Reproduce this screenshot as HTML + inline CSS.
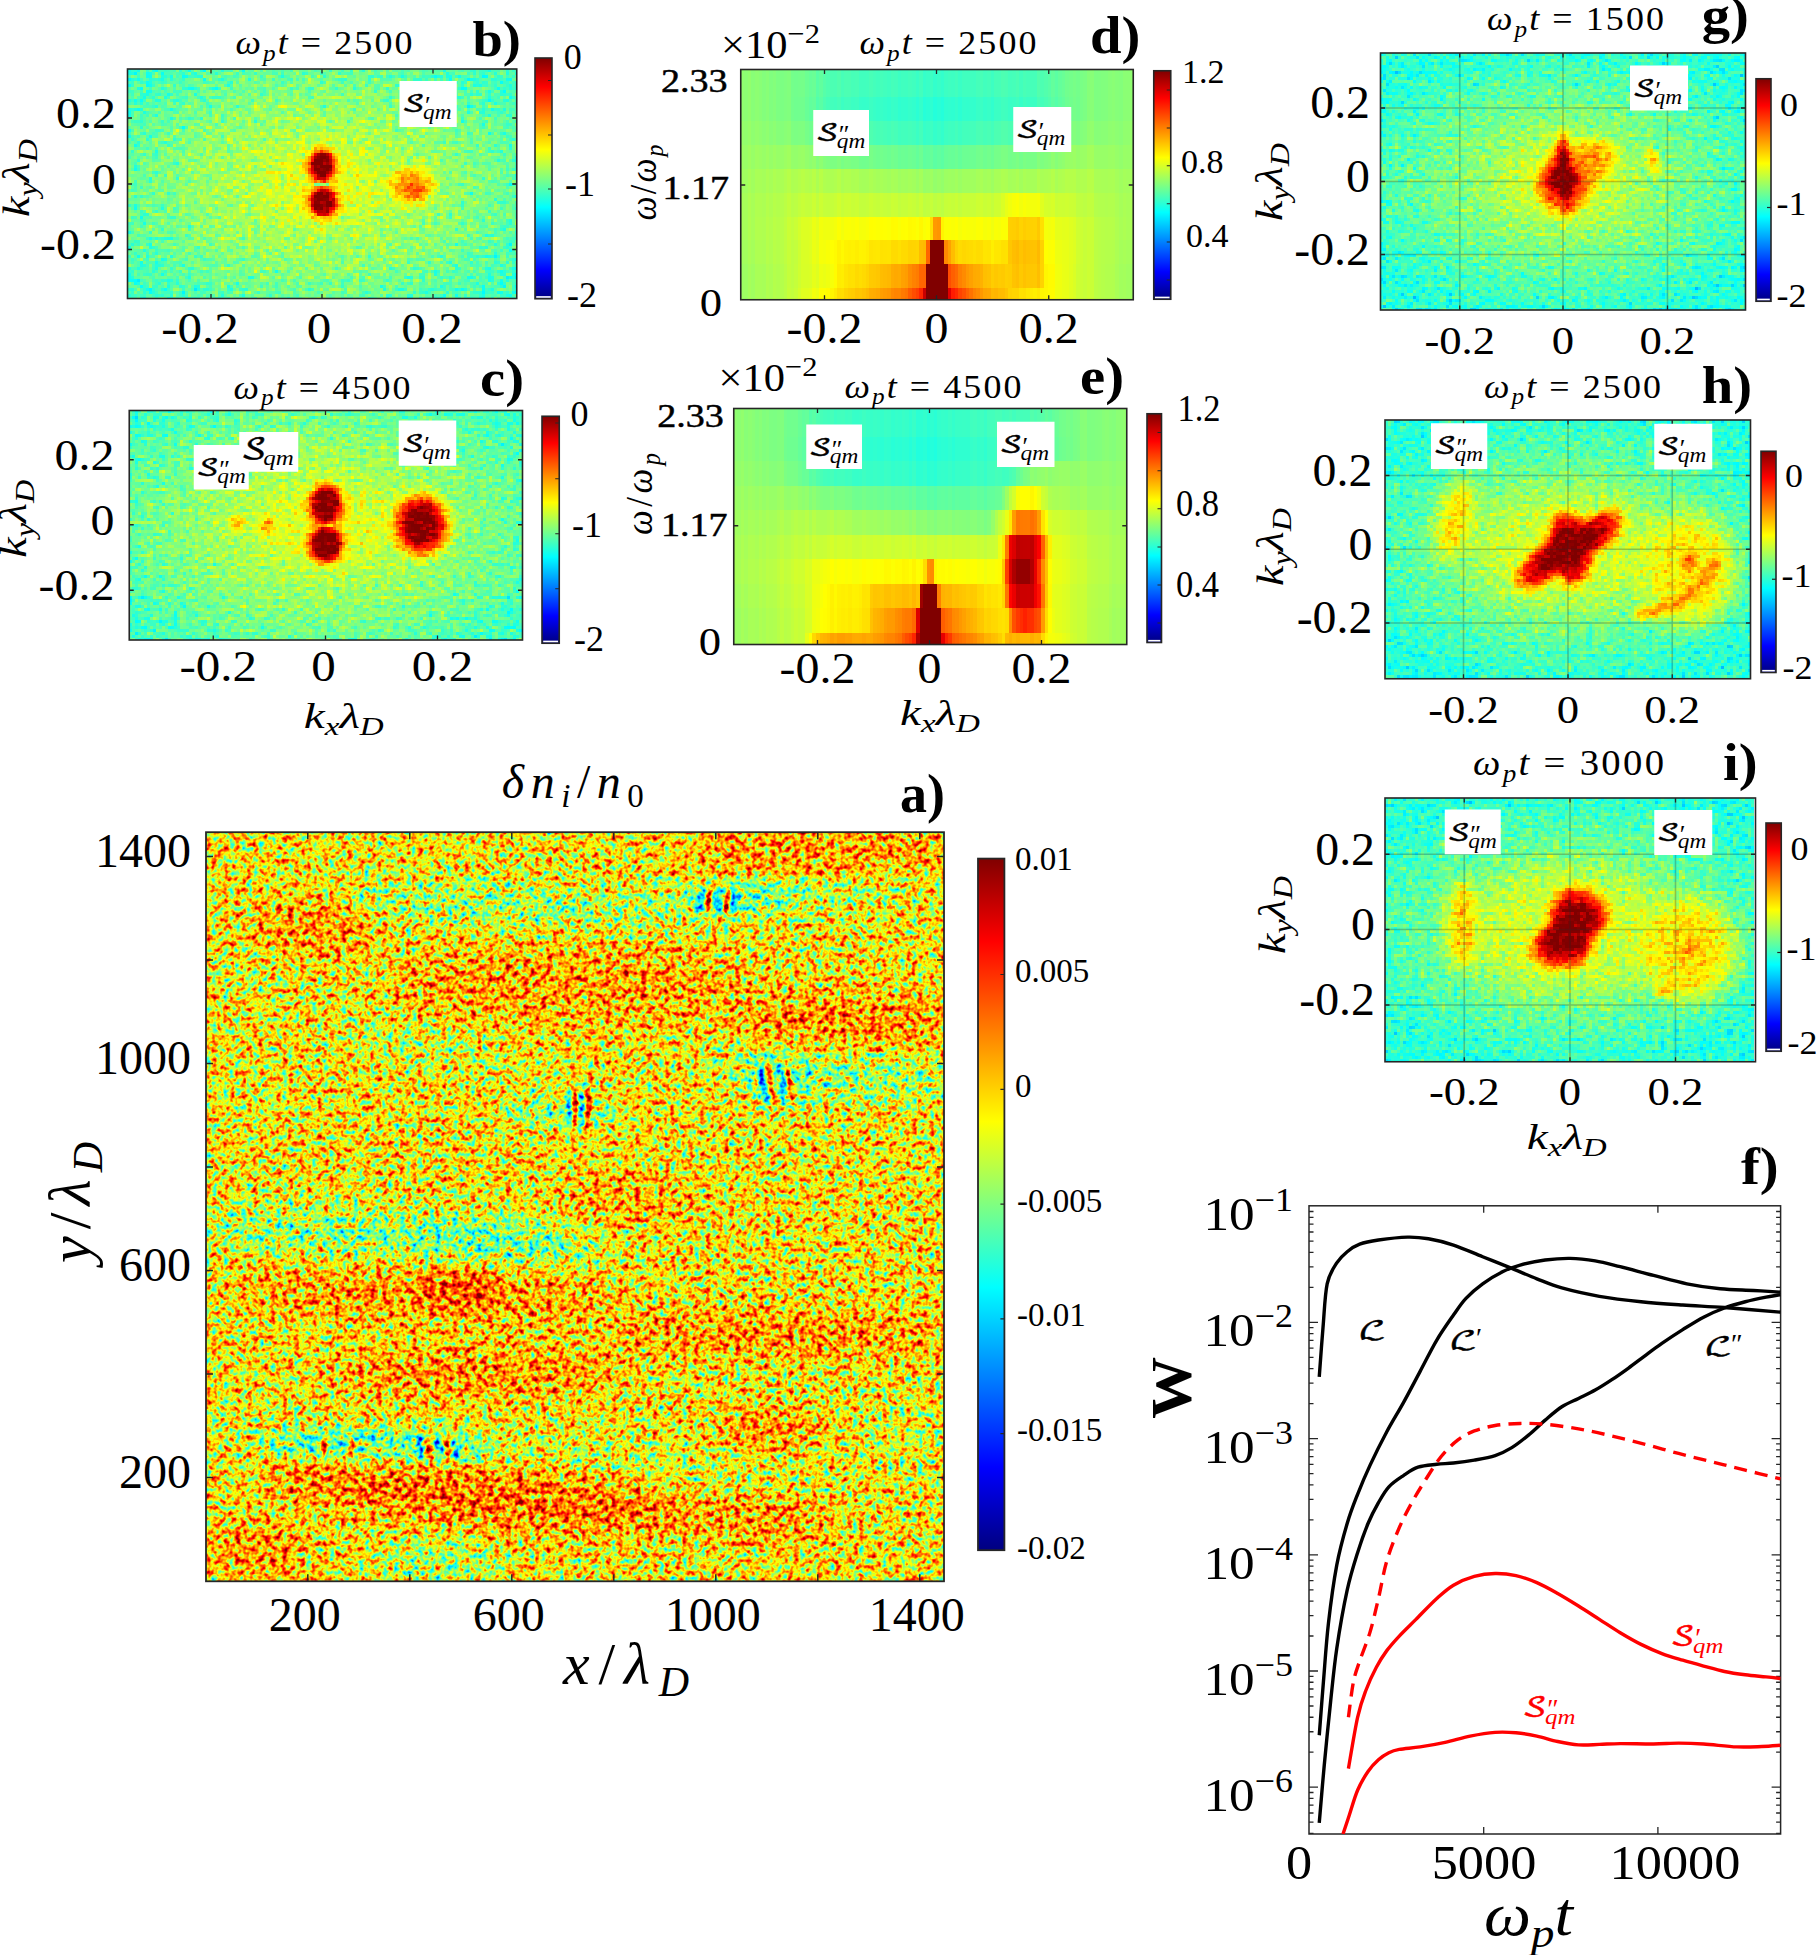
<!DOCTYPE html><html><head><meta charset="utf-8"><title>figure</title><style>html,body{margin:0;padding:0;background:#fff}svg{display:block}</style></head><body><svg width="1817" height="1955" viewBox="0 0 1817 1955"><rect width="1817" height="1955" fill="#fff"/><defs><linearGradient id="jetv" x1="0" y1="1" x2="0" y2="0"><stop offset="0" stop-color="#000080"/><stop offset="0.12" stop-color="#0000ff"/><stop offset="0.25" stop-color="#0080ff"/><stop offset="0.38" stop-color="#00ffff"/><stop offset="0.5" stop-color="#80ff80"/><stop offset="0.62" stop-color="#ffff00"/><stop offset="0.75" stop-color="#ff8000"/><stop offset="0.88" stop-color="#ff0000"/><stop offset="1" stop-color="#800000"/></linearGradient><filter id="bl14" x="-60%" y="-400%" width="220%" height="900%" color-interpolation-filters="sRGB"><feGaussianBlur stdDeviation="14"/></filter><filter id="bl6" x="-60%" y="-400%" width="220%" height="900%" color-interpolation-filters="sRGB"><feGaussianBlur stdDeviation="6"/></filter><filter id="bl3" x="-60%" y="-400%" width="220%" height="900%" color-interpolation-filters="sRGB"><feGaussianBlur stdDeviation="3"/></filter><filter id="bl4" x="-60%" y="-400%" width="220%" height="900%" color-interpolation-filters="sRGB"><feGaussianBlur stdDeviation="4"/></filter><filter id="bl2" x="-60%" y="-400%" width="220%" height="900%" color-interpolation-filters="sRGB"><feGaussianBlur stdDeviation="2"/></filter><filter id="hfb" x="128" y="69" width="389" height="230" filterUnits="userSpaceOnUse" color-interpolation-filters="sRGB"><feTurbulence type="fractalNoise" baseFrequency="0.15 0.24" numOctaves="2" seed="3" result="t"/><feColorMatrix in="t" type="matrix" values="1 0 0 0 0 1 0 0 0 0 1 0 0 0 0 0 0 0 0 1" result="n"/><feComposite in="SourceGraphic" in2="n" operator="arithmetic" k1="0" k2="1" k3="0.3" k4="-0.15" result="s"/><feFlood x="129" y="70" width="1" height="1" flood-color="#000" result="p0"/><feComposite in="p0" in2="p0" operator="over" x="128" y="69" width="3" height="3" result="p1"/><feTile in="p1" result="p2"/><feComposite in="s" in2="p2" operator="in" result="p3"/><feMorphology in="p3" operator="dilate" radius="1" result="p4"/><feComponentTransfer><feFuncR type="table" tableValues="0 0 0 0 .5 1 1 1 .5"/><feFuncG type="table" tableValues="0 0 .5 1 1 1 .5 0 0"/><feFuncB type="table" tableValues=".5 1 1 1 .5 0 0 0 0"/></feComponentTransfer></filter><radialGradient id="rgb" gradientUnits="userSpaceOnUse" cx="322" cy="184" r="241.34" gradientTransform="translate(322 184) scale(1 0.62) translate(-322 -184)"><stop offset="0" stop-color="#919191"/><stop offset="0.45" stop-color="#888888"/><stop offset="1" stop-color="#707070"/></radialGradient><filter id="hfc" x="129" y="410" width="393" height="230" filterUnits="userSpaceOnUse" color-interpolation-filters="sRGB"><feTurbulence type="fractalNoise" baseFrequency="0.15 0.24" numOctaves="2" seed="11" result="t"/><feColorMatrix in="t" type="matrix" values="1 0 0 0 0 1 0 0 0 0 1 0 0 0 0 0 0 0 0 1" result="n"/><feComposite in="SourceGraphic" in2="n" operator="arithmetic" k1="0" k2="1" k3="0.3" k4="-0.15" result="s"/><feFlood x="130" y="411" width="1" height="1" flood-color="#000" result="p0"/><feComposite in="p0" in2="p0" operator="over" x="129" y="410" width="3" height="3" result="p1"/><feTile in="p1" result="p2"/><feComposite in="s" in2="p2" operator="in" result="p3"/><feMorphology in="p3" operator="dilate" radius="1" result="p4"/><feComponentTransfer><feFuncR type="table" tableValues="0 0 0 0 .5 1 1 1 .5"/><feFuncG type="table" tableValues="0 0 .5 1 1 1 .5 0 0"/><feFuncB type="table" tableValues=".5 1 1 1 .5 0 0 0 0"/></feComponentTransfer></filter><radialGradient id="rgc" gradientUnits="userSpaceOnUse" cx="325.5" cy="524.75" r="243.81" gradientTransform="translate(325.5 524.75) scale(1 0.62) translate(-325.5 -524.75)"><stop offset="0" stop-color="#919191"/><stop offset="0.45" stop-color="#888888"/><stop offset="1" stop-color="#707070"/></radialGradient><filter id="bl2_5" x="-60%" y="-400%" width="220%" height="900%" color-interpolation-filters="sRGB"><feGaussianBlur stdDeviation="2.5"/></filter><filter id="hfg" x="1380" y="53" width="365" height="257" filterUnits="userSpaceOnUse" color-interpolation-filters="sRGB"><feTurbulence type="fractalNoise" baseFrequency="0.15 0.24" numOctaves="2" seed="21" result="t"/><feColorMatrix in="t" type="matrix" values="1 0 0 0 0 1 0 0 0 0 1 0 0 0 0 0 0 0 0 1" result="n"/><feComposite in="SourceGraphic" in2="n" operator="arithmetic" k1="0" k2="1" k3="0.3" k4="-0.15" result="s"/><feFlood x="1381" y="54" width="1" height="1" flood-color="#000" result="p0"/><feComposite in="p0" in2="p0" operator="over" x="1380" y="53" width="3" height="3" result="p1"/><feTile in="p1" result="p2"/><feComposite in="s" in2="p2" operator="in" result="p3"/><feMorphology in="p3" operator="dilate" radius="1" result="p4"/><feComponentTransfer><feFuncR type="table" tableValues="0 0 0 0 .5 1 1 1 .5"/><feFuncG type="table" tableValues="0 0 .5 1 1 1 .5 0 0"/><feFuncB type="table" tableValues=".5 1 1 1 .5 0 0 0 0"/></feComponentTransfer></filter><radialGradient id="rgg" gradientUnits="userSpaceOnUse" cx="1563" cy="181.5" r="226.3" gradientTransform="translate(1563 181.5) scale(1 0.62) translate(-1563 -181.5)"><stop offset="0" stop-color="#8a8a8a"/><stop offset="0.45" stop-color="#818181"/><stop offset="1" stop-color="#696969"/></radialGradient><filter id="bl16" x="-60%" y="-400%" width="220%" height="900%" color-interpolation-filters="sRGB"><feGaussianBlur stdDeviation="16"/></filter><filter id="bl8" x="-60%" y="-400%" width="220%" height="900%" color-interpolation-filters="sRGB"><feGaussianBlur stdDeviation="8"/></filter><filter id="bl12" x="-60%" y="-400%" width="220%" height="900%" color-interpolation-filters="sRGB"><feGaussianBlur stdDeviation="12"/></filter><filter id="bl5" x="-60%" y="-400%" width="220%" height="900%" color-interpolation-filters="sRGB"><feGaussianBlur stdDeviation="5"/></filter><filter id="hfh" x="1385" y="420" width="366" height="259" filterUnits="userSpaceOnUse" color-interpolation-filters="sRGB"><feTurbulence type="fractalNoise" baseFrequency="0.15 0.24" numOctaves="2" seed="31" result="t"/><feColorMatrix in="t" type="matrix" values="1 0 0 0 0 1 0 0 0 0 1 0 0 0 0 0 0 0 0 1" result="n"/><feComposite in="SourceGraphic" in2="n" operator="arithmetic" k1="0" k2="1" k3="0.3" k4="-0.15" result="s"/><feFlood x="1386" y="421" width="1" height="1" flood-color="#000" result="p0"/><feComposite in="p0" in2="p0" operator="over" x="1385" y="420" width="3" height="3" result="p1"/><feTile in="p1" result="p2"/><feComposite in="s" in2="p2" operator="in" result="p3"/><feMorphology in="p3" operator="dilate" radius="1" result="p4"/><feComponentTransfer><feFuncR type="table" tableValues="0 0 0 0 .5 1 1 1 .5"/><feFuncG type="table" tableValues="0 0 .5 1 1 1 .5 0 0"/><feFuncB type="table" tableValues=".5 1 1 1 .5 0 0 0 0"/></feComponentTransfer></filter><radialGradient id="rgh" gradientUnits="userSpaceOnUse" cx="1568" cy="549.25" r="226.61" gradientTransform="translate(1568 549.25) scale(1 0.62) translate(-1568 -549.25)"><stop offset="0" stop-color="#8a8a8a"/><stop offset="0.45" stop-color="#818181"/><stop offset="1" stop-color="#696969"/></radialGradient><filter id="bl7" x="-60%" y="-400%" width="220%" height="900%" color-interpolation-filters="sRGB"><feGaussianBlur stdDeviation="7"/></filter><filter id="hfi" x="1385" y="798" width="370" height="264" filterUnits="userSpaceOnUse" color-interpolation-filters="sRGB"><feTurbulence type="fractalNoise" baseFrequency="0.15 0.24" numOctaves="2" seed="41" result="t"/><feColorMatrix in="t" type="matrix" values="1 0 0 0 0 1 0 0 0 0 1 0 0 0 0 0 0 0 0 1" result="n"/><feComposite in="SourceGraphic" in2="n" operator="arithmetic" k1="0" k2="1" k3="0.3" k4="-0.15" result="s"/><feFlood x="1386" y="799" width="1" height="1" flood-color="#000" result="p0"/><feComposite in="p0" in2="p0" operator="over" x="1385" y="798" width="3" height="3" result="p1"/><feTile in="p1" result="p2"/><feComposite in="s" in2="p2" operator="in" result="p3"/><feMorphology in="p3" operator="dilate" radius="1" result="p4"/><feComponentTransfer><feFuncR type="table" tableValues="0 0 0 0 .5 1 1 1 .5"/><feFuncG type="table" tableValues="0 0 .5 1 1 1 .5 0 0"/><feFuncB type="table" tableValues=".5 1 1 1 .5 0 0 0 0"/></feComponentTransfer></filter><radialGradient id="rgi" gradientUnits="userSpaceOnUse" cx="1570" cy="929.5" r="229.71" gradientTransform="translate(1570 929.5) scale(1 0.62) translate(-1570 -929.5)"><stop offset="0" stop-color="#8a8a8a"/><stop offset="0.45" stop-color="#818181"/><stop offset="1" stop-color="#696969"/></radialGradient><filter id="hfa" x="206" y="832" width="738" height="749" filterUnits="userSpaceOnUse" color-interpolation-filters="sRGB"><feTurbulence type="fractalNoise" baseFrequency="0.17" numOctaves="2" seed="5" result="t"/><feColorMatrix in="t" type="matrix" values="1 0 0 0 0 1 0 0 0 0 1 0 0 0 0 0 0 0 0 1" result="n"/><feComposite in="SourceGraphic" in2="n" operator="arithmetic" k1="0" k2="1" k3="0.9" k4="-0.45" result="s"/><feComponentTransfer><feFuncR type="table" tableValues="0 0 0 0 .5 1 1 1 .5"/><feFuncG type="table" tableValues="0 0 .5 1 1 1 .5 0 0"/><feFuncB type="table" tableValues=".5 1 1 1 .5 0 0 0 0"/></feComponentTransfer></filter><filter id="bl15" x="-60%" y="-400%" width="220%" height="900%" color-interpolation-filters="sRGB"><feGaussianBlur stdDeviation="15"/></filter><filter id="bl18" x="-60%" y="-400%" width="220%" height="900%" color-interpolation-filters="sRGB"><feGaussianBlur stdDeviation="18"/></filter><filter id="bl1_5" x="-60%" y="-400%" width="220%" height="900%" color-interpolation-filters="sRGB"><feGaussianBlur stdDeviation="1.5"/></filter><clipPath id="clipf"><rect x="1309" y="1205.8" width="471.6" height="628.2"/></clipPath></defs><g filter="url(#hfb)"><rect x="125.5" y="67" width="393.25" height="233.5" fill="url(#rgb)"/><ellipse cx="322" cy="184" rx="60" ry="40" fill="#9e9e9e" filter="url(#bl14)" opacity="0.6"/><ellipse cx="412" cy="186" rx="22" ry="18" fill="#bdbdbd" filter="url(#bl6)" opacity="0.9"/><ellipse cx="414" cy="190" rx="9" ry="8" fill="#cccccc" filter="url(#bl3)"/><ellipse cx="322" cy="166" rx="15" ry="18" fill="#d9d9d9" filter="url(#bl4)"/><ellipse cx="323" cy="202" rx="16" ry="17" fill="#d9d9d9" filter="url(#bl4)"/><ellipse cx="322" cy="166" rx="10.5" ry="13.5" fill="#ffffff" filter="url(#bl2)"/><ellipse cx="323" cy="202" rx="11.5" ry="12.5" fill="#ffffff" filter="url(#bl2)"/><rect x="314" y="183" width="14" height="2.4" fill="#737373"/></g><rect x="127.5" y="69" width="389.25" height="229.5" fill="none" stroke="#262626" stroke-width="1.6"/><path d="M211 298.5v-4.5 M211 69v4.5 M322 298.5v-4.5 M322 69v4.5 M433 298.5v-4.5 M433 69v4.5 M127.5 118h4.5 M516.75 118h-4.5 M127.5 184h4.5 M516.75 184h-4.5 M127.5 249.5h4.5 M516.75 249.5h-4.5 " stroke="#262626" stroke-width="1.3" fill="none"/>
<text transform="translate(324 54) scale(1.09 1)" font-family="'Liberation Serif','DejaVu Serif',serif" font-size="33" text-anchor="middle" fill="#000" xml:space="preserve" textLength="162.39" lengthAdjust="spacing"><tspan font-style="italic" >ω</tspan><tspan font-style="italic" font-size="23.1" dy="6.6">p</tspan><tspan font-style="italic" dy="-6.6">t</tspan> = 2500</text>
<text transform="translate(472.5 56) scale(1.09 1)" font-family="'Liberation Serif','DejaVu Serif',serif" font-size="50" text-anchor="start" fill="#000" font-weight="bold">b)</text>
<text transform="translate(200 342.5) scale(1.09 1)" font-family="'Liberation Serif','DejaVu Serif',serif" font-size="45" text-anchor="middle" fill="#000" >-0.2</text><text transform="translate(319 342.5) scale(1.09 1)" font-family="'Liberation Serif','DejaVu Serif',serif" font-size="45" text-anchor="middle" fill="#000" >0</text><text transform="translate(432 342.5) scale(1.09 1)" font-family="'Liberation Serif','DejaVu Serif',serif" font-size="45" text-anchor="middle" fill="#000" >0.2</text>
<text transform="translate(116 127.9) scale(1.09 1)" font-family="'Liberation Serif','DejaVu Serif',serif" font-size="44" text-anchor="end" fill="#000" >0.2</text><text transform="translate(116 193.9) scale(1.09 1)" font-family="'Liberation Serif','DejaVu Serif',serif" font-size="44" text-anchor="end" fill="#000" >0</text><text transform="translate(116 259.4) scale(1.09 1)" font-family="'Liberation Serif','DejaVu Serif',serif" font-size="44" text-anchor="end" fill="#000" >-0.2</text>
<g transform="translate(29 178) rotate(-90)"><text transform="translate(0 0) scale(1 1.09)" font-family="'Liberation Serif','DejaVu Serif',serif" font-size="35" text-anchor="middle" fill="#000" textLength="78" lengthAdjust="spacingAndGlyphs"><tspan font-style="italic" >k</tspan><tspan font-style="italic" font-size="24.5" dy="7">y</tspan><tspan font-style="italic" dy="-7">λ</tspan><tspan font-style="italic" font-size="24.5" dy="7">D</tspan></text></g>
<rect x="399.5" y="81" width="57.25" height="46" fill="#fff"/><text transform="translate(401.7 112) scale(1.2 1)" font-family="'DejaVu Math TeX Gyre','DejaVu Sans','Liberation Serif',serif" font-size="25" fill="#000" stroke="#000" stroke-width="0.45">𝒮</text><text transform="translate(425 114) scale(1 1)" font-family="'Liberation Serif','DejaVu Serif',serif" font-size="26" text-anchor="start" fill="#000" >′</text><text transform="translate(423 119) scale(1 1)" font-family="'Liberation Serif','DejaVu Serif',serif" font-size="20" text-anchor="start" fill="#000" textLength="28.5" lengthAdjust="spacingAndGlyphs"><tspan font-style="italic" >qm</tspan></text>
<rect x="535" y="58" width="17" height="240.75" fill="url(#jetv)" stroke="#262626" stroke-width="1.6"/><path d="M552 80.5h-4 M552 135h-4 M552 189h-4 M552 244h-4 " stroke="#262626" stroke-width="1.2"/><rect x="536.2" y="296.15" width="14.6" height="1.6" fill="#fff"/><text transform="translate(563.75 69.1) scale(1 1)" font-family="'Liberation Serif','DejaVu Serif',serif" font-size="36" text-anchor="start" fill="#000" >0</text><text transform="translate(565 195.6) scale(1 1)" font-family="'Liberation Serif','DejaVu Serif',serif" font-size="36" text-anchor="start" fill="#000" >-1</text><text transform="translate(567 306.85) scale(1 1)" font-family="'Liberation Serif','DejaVu Serif',serif" font-size="36" text-anchor="start" fill="#000" >-2</text>
<g filter="url(#hfc)"><rect x="127.25" y="408.5" width="397.25" height="233.5" fill="url(#rgc)"/><ellipse cx="325" cy="525" rx="70" ry="42" fill="#9e9e9e" filter="url(#bl14)" opacity="0.6"/><ellipse cx="237" cy="523" rx="8" ry="8" fill="#b2b2b2" filter="url(#bl3)"/><ellipse cx="267" cy="526" rx="7" ry="9" fill="#b8b8b8" filter="url(#bl3)"/><ellipse cx="421" cy="525" rx="29" ry="32" fill="#cccccc" filter="url(#bl6)"/><ellipse cx="421" cy="525" rx="19" ry="22" fill="#ffffff" filter="url(#bl4)"/><ellipse cx="326" cy="505" rx="18" ry="22" fill="#d9d9d9" filter="url(#bl4)"/><ellipse cx="326" cy="544" rx="19" ry="20" fill="#d9d9d9" filter="url(#bl4)"/><ellipse cx="326" cy="505" rx="13" ry="17" fill="#ffffff" filter="url(#bl2)"/><ellipse cx="326" cy="544" rx="14" ry="15.5" fill="#ffffff" filter="url(#bl2)"/><rect x="316" y="523.5" width="18" height="2" fill="#9e9e9e"/></g><rect x="129.25" y="410.5" width="393.25" height="229.5" fill="none" stroke="#262626" stroke-width="1.6"/><path d="M213.25 640v-4.5 M213.25 410.5v4.5 M325.5 640v-4.5 M325.5 410.5v4.5 M437.5 640v-4.5 M437.5 410.5v4.5 M129.25 459.75h4.5 M522.5 459.75h-4.5 M129.25 524.75h4.5 M522.5 524.75h-4.5 M129.25 590.25h4.5 M522.5 590.25h-4.5 " stroke="#262626" stroke-width="1.3" fill="none"/>
<text transform="translate(322 398.75) scale(1.09 1)" font-family="'Liberation Serif','DejaVu Serif',serif" font-size="33" text-anchor="middle" fill="#000" xml:space="preserve" textLength="162.39" lengthAdjust="spacing"><tspan font-style="italic" >ω</tspan><tspan font-style="italic" font-size="23.1" dy="6.6">p</tspan><tspan font-style="italic" dy="-6.6">t</tspan> = 4500</text>
<text transform="translate(480 396) scale(1.09 1)" font-family="'Liberation Serif','DejaVu Serif',serif" font-size="52" text-anchor="start" fill="#000" font-weight="bold">c)</text>
<text transform="translate(218.25 681) scale(1.09 1)" font-family="'Liberation Serif','DejaVu Serif',serif" font-size="45" text-anchor="middle" fill="#000" >-0.2</text><text transform="translate(323.5 681) scale(1.09 1)" font-family="'Liberation Serif','DejaVu Serif',serif" font-size="45" text-anchor="middle" fill="#000" >0</text><text transform="translate(442.5 681) scale(1.09 1)" font-family="'Liberation Serif','DejaVu Serif',serif" font-size="45" text-anchor="middle" fill="#000" >0.2</text>
<text transform="translate(114.5 469.65) scale(1.09 1)" font-family="'Liberation Serif','DejaVu Serif',serif" font-size="44" text-anchor="end" fill="#000" >0.2</text><text transform="translate(114.5 534.65) scale(1.09 1)" font-family="'Liberation Serif','DejaVu Serif',serif" font-size="44" text-anchor="end" fill="#000" >0</text><text transform="translate(114.5 600.15) scale(1.09 1)" font-family="'Liberation Serif','DejaVu Serif',serif" font-size="44" text-anchor="end" fill="#000" >-0.2</text>
<g transform="translate(26 518.75) rotate(-90)"><text transform="translate(0 0) scale(1 1.09)" font-family="'Liberation Serif','DejaVu Serif',serif" font-size="35" text-anchor="middle" fill="#000" textLength="78" lengthAdjust="spacingAndGlyphs"><tspan font-style="italic" >k</tspan><tspan font-style="italic" font-size="24.5" dy="7">y</tspan><tspan font-style="italic" dy="-7">λ</tspan><tspan font-style="italic" font-size="24.5" dy="7">D</tspan></text></g>
<text transform="translate(343.75 727.5) scale(1.09 1)" font-family="'Liberation Serif','DejaVu Serif',serif" font-size="35" text-anchor="middle" fill="#000" textLength="73.39" lengthAdjust="spacingAndGlyphs"><tspan font-style="italic" >k</tspan><tspan font-style="italic" font-size="24.5" dy="7">x</tspan><tspan font-style="italic" dy="-7">λ</tspan><tspan font-style="italic" font-size="24.5" dy="7">D</tspan></text>
<rect x="193.75" y="445" width="55" height="44.5" fill="#fff"/><text transform="translate(195.95 476) scale(1.2 1)" font-family="'DejaVu Math TeX Gyre','DejaVu Sans','Liberation Serif',serif" font-size="25" fill="#000" stroke="#000" stroke-width="0.45">𝒮</text><text transform="translate(219.25 478) scale(1 1)" font-family="'Liberation Serif','DejaVu Serif',serif" font-size="26" text-anchor="start" fill="#000" >″</text><text transform="translate(217.25 483) scale(1 1)" font-family="'Liberation Serif','DejaVu Serif',serif" font-size="20" text-anchor="start" fill="#000" textLength="28.5" lengthAdjust="spacingAndGlyphs"><tspan font-style="italic" >qm</tspan></text>
<rect x="239.25" y="432" width="59" height="39.75" fill="#fff"/><text transform="translate(240.85 458) scale(1.25 1)" font-family="'DejaVu Math TeX Gyre','DejaVu Sans','Liberation Serif',serif" font-size="27" fill="#000" stroke="#000" stroke-width="0.45">𝒮</text><text transform="translate(263.25 464.5) scale(1 1)" font-family="'Liberation Serif','DejaVu Serif',serif" font-size="21" text-anchor="start" fill="#000" textLength="30.5" lengthAdjust="spacingAndGlyphs"><tspan font-style="italic" >qm</tspan></text>
<rect x="398.75" y="420.5" width="57.5" height="45.25" fill="#fff"/><text transform="translate(400.95 451.5) scale(1.2 1)" font-family="'DejaVu Math TeX Gyre','DejaVu Sans','Liberation Serif',serif" font-size="25" fill="#000" stroke="#000" stroke-width="0.45">𝒮</text><text transform="translate(424.25 453.5) scale(1 1)" font-family="'Liberation Serif','DejaVu Serif',serif" font-size="26" text-anchor="start" fill="#000" >′</text><text transform="translate(422.25 458.5) scale(1 1)" font-family="'Liberation Serif','DejaVu Serif',serif" font-size="20" text-anchor="start" fill="#000" textLength="28.5" lengthAdjust="spacingAndGlyphs"><tspan font-style="italic" >qm</tspan></text>
<rect x="542" y="416.25" width="17.25" height="227" fill="url(#jetv)" stroke="#262626" stroke-width="1.6"/><path d="M559.25 423h-4 M559.25 478.75h-4 M559.25 533.75h-4 M559.25 588.75h-4 " stroke="#262626" stroke-width="1.2"/><rect x="543.2" y="640.65" width="14.85" height="1.6" fill="#fff"/><text transform="translate(570.5 425.6) scale(1 1)" font-family="'Liberation Serif','DejaVu Serif',serif" font-size="36" text-anchor="start" fill="#000" >0</text><text transform="translate(572 537.35) scale(1 1)" font-family="'Liberation Serif','DejaVu Serif',serif" font-size="36" text-anchor="start" fill="#000" >-1</text><text transform="translate(574 650.6) scale(1 1)" font-family="'Liberation Serif','DejaVu Serif',serif" font-size="36" text-anchor="start" fill="#000" >-2</text>
<g shape-rendering="crispEdges"><rect x="740.75" y="287.8" width="7.54" height="12.35" fill="#9dff62"/><rect x="747.89" y="287.8" width="3.97" height="12.35" fill="#a6ff59"/><rect x="751.45" y="287.8" width="3.97" height="12.35" fill="#a0ff5f"/><rect x="755.02" y="287.8" width="7.54" height="12.35" fill="#a9ff56"/><rect x="762.16" y="287.8" width="3.97" height="12.35" fill="#a7ff58"/><rect x="765.73" y="287.8" width="3.97" height="12.35" fill="#b0ff4f"/><rect x="769.3" y="287.8" width="3.97" height="12.35" fill="#acff53"/><rect x="772.86" y="287.8" width="3.97" height="12.35" fill="#b4ff4b"/><rect x="776.43" y="287.8" width="3.97" height="12.35" fill="#b1ff4e"/><rect x="780" y="287.8" width="3.97" height="12.35" fill="#b4ff4b"/><rect x="783.57" y="287.8" width="3.97" height="12.35" fill="#bbff44"/><rect x="787.14" y="287.8" width="3.97" height="12.35" fill="#c6ff39"/><rect x="790.7" y="287.8" width="3.97" height="12.35" fill="#c2ff3d"/><rect x="794.27" y="287.8" width="3.97" height="12.35" fill="#c9ff36"/><rect x="797.84" y="287.8" width="3.97" height="12.35" fill="#d5ff2a"/><rect x="801.41" y="287.8" width="3.97" height="12.35" fill="#e0ff1f"/><rect x="804.98" y="287.8" width="3.97" height="12.35" fill="#e1ff1e"/><rect x="808.55" y="287.8" width="3.97" height="12.35" fill="#e5ff1a"/><rect x="812.11" y="287.8" width="3.97" height="12.35" fill="#f3ff0c"/><rect x="815.68" y="287.8" width="3.97" height="12.35" fill="#ecff13"/><rect x="819.25" y="287.8" width="3.97" height="12.35" fill="#feff01"/><rect x="822.82" y="287.8" width="3.97" height="12.35" fill="#fdff02"/><rect x="826.39" y="287.8" width="3.97" height="12.35" fill="#fffc00"/><rect x="829.95" y="287.8" width="3.97" height="12.35" fill="#fff500"/><rect x="833.52" y="287.8" width="3.97" height="12.35" fill="#ffeb00"/><rect x="837.09" y="287.8" width="3.97" height="12.35" fill="#ffdc00"/><rect x="840.66" y="287.8" width="3.97" height="12.35" fill="#ffde00"/><rect x="844.23" y="287.8" width="3.97" height="12.35" fill="#ffd400"/><rect x="847.8" y="287.8" width="3.97" height="12.35" fill="#ffce00"/><rect x="851.36" y="287.8" width="3.97" height="12.35" fill="#ffcc00"/><rect x="854.93" y="287.8" width="3.97" height="12.35" fill="#ffc400"/><rect x="858.5" y="287.8" width="3.97" height="12.35" fill="#ffc600"/><rect x="862.07" y="287.8" width="3.97" height="12.35" fill="#ffc100"/><rect x="865.64" y="287.8" width="3.97" height="12.35" fill="#ffba00"/><rect x="869.2" y="287.8" width="3.97" height="12.35" fill="#ffae00"/><rect x="872.77" y="287.8" width="3.97" height="12.35" fill="#ffac00"/><rect x="876.34" y="287.8" width="3.97" height="12.35" fill="#ffa800"/><rect x="879.91" y="287.8" width="3.97" height="12.35" fill="#ff9e00"/><rect x="883.48" y="287.8" width="3.97" height="12.35" fill="#ff9a00"/><rect x="887.05" y="287.8" width="3.97" height="12.35" fill="#ff9600"/><rect x="890.61" y="287.8" width="3.97" height="12.35" fill="#ff8900"/><rect x="894.18" y="287.8" width="3.97" height="12.35" fill="#ff8400"/><rect x="897.75" y="287.8" width="3.97" height="12.35" fill="#ff8500"/><rect x="901.32" y="287.8" width="3.97" height="12.35" fill="#ff7a00"/><rect x="904.89" y="287.8" width="3.97" height="12.35" fill="#ff7400"/><rect x="908.45" y="287.8" width="3.97" height="12.35" fill="#ff5d00"/><rect x="912.02" y="287.8" width="3.97" height="12.35" fill="#ff4d00"/><rect x="915.59" y="287.8" width="3.97" height="12.35" fill="#ff4100"/><rect x="919.16" y="287.8" width="3.97" height="12.35" fill="#ff2500"/><rect x="922.73" y="287.8" width="3.97" height="12.35" fill="#ca0000"/><rect x="926.3" y="287.8" width="21.81" height="12.35" fill="#800000"/><rect x="947.7" y="287.8" width="3.97" height="12.35" fill="#e10000"/><rect x="951.27" y="287.8" width="3.97" height="12.35" fill="#ff1b00"/><rect x="954.84" y="287.8" width="3.97" height="12.35" fill="#ff2900"/><rect x="958.41" y="287.8" width="3.97" height="12.35" fill="#ff4300"/><rect x="961.98" y="287.8" width="3.97" height="12.35" fill="#ff5000"/><rect x="965.55" y="287.8" width="3.97" height="12.35" fill="#ff6300"/><rect x="969.11" y="287.8" width="3.97" height="12.35" fill="#ff7200"/><rect x="972.68" y="287.8" width="3.97" height="12.35" fill="#ff8200"/><rect x="976.25" y="287.8" width="3.97" height="12.35" fill="#ff8b00"/><rect x="979.82" y="287.8" width="3.97" height="12.35" fill="#ff9800"/><rect x="983.39" y="287.8" width="3.97" height="12.35" fill="#ffa500"/><rect x="986.95" y="287.8" width="3.97" height="12.35" fill="#ffa800"/><rect x="990.52" y="287.8" width="3.97" height="12.35" fill="#ffb700"/><rect x="994.09" y="287.8" width="3.97" height="12.35" fill="#ffb400"/><rect x="997.66" y="287.8" width="3.97" height="12.35" fill="#ffbb00"/><rect x="1001.23" y="287.8" width="3.97" height="12.35" fill="#ffbc00"/><rect x="1004.8" y="287.8" width="3.97" height="12.35" fill="#ffc400"/><rect x="1008.36" y="287.8" width="3.97" height="12.35" fill="#ffd200"/><rect x="1011.93" y="287.8" width="7.54" height="12.35" fill="#ffd500"/><rect x="1019.07" y="287.8" width="3.97" height="12.35" fill="#ffe100"/><rect x="1022.64" y="287.8" width="3.97" height="12.35" fill="#ffdf00"/><rect x="1026.2" y="287.8" width="3.97" height="12.35" fill="#ffe700"/><rect x="1029.77" y="287.8" width="3.97" height="12.35" fill="#ffeb00"/><rect x="1033.34" y="287.8" width="3.97" height="12.35" fill="#ffef00"/><rect x="1036.91" y="287.8" width="3.97" height="12.35" fill="#ffe900"/><rect x="1040.48" y="287.8" width="3.97" height="12.35" fill="#fff600"/><rect x="1044.05" y="287.8" width="3.97" height="12.35" fill="#fff800"/><rect x="1047.61" y="287.8" width="7.54" height="12.35" fill="#fffc00"/><rect x="1054.75" y="287.8" width="3.97" height="12.35" fill="#f0ff0f"/><rect x="1058.32" y="287.8" width="3.97" height="12.35" fill="#efff10"/><rect x="1061.89" y="287.8" width="3.97" height="12.35" fill="#eaff15"/><rect x="1065.45" y="287.8" width="3.97" height="12.35" fill="#e8ff17"/><rect x="1069.02" y="287.8" width="3.97" height="12.35" fill="#e0ff1f"/><rect x="1072.59" y="287.8" width="3.97" height="12.35" fill="#daff25"/><rect x="1076.16" y="287.8" width="3.97" height="12.35" fill="#cdff32"/><rect x="1079.73" y="287.8" width="3.97" height="12.35" fill="#cbff34"/><rect x="1083.3" y="287.8" width="3.97" height="12.35" fill="#c7ff38"/><rect x="1086.86" y="287.8" width="3.97" height="12.35" fill="#ccff33"/><rect x="1090.43" y="287.8" width="3.97" height="12.35" fill="#c9ff36"/><rect x="1094" y="287.8" width="3.97" height="12.35" fill="#bbff44"/><rect x="1097.57" y="287.8" width="3.97" height="12.35" fill="#b8ff47"/><rect x="1101.14" y="287.8" width="3.97" height="12.35" fill="#b5ff4a"/><rect x="1104.7" y="287.8" width="7.54" height="12.35" fill="#b2ff4d"/><rect x="1111.84" y="287.8" width="3.97" height="12.35" fill="#b1ff4e"/><rect x="1115.41" y="287.8" width="3.97" height="12.35" fill="#a9ff56"/><rect x="1118.98" y="287.8" width="3.97" height="12.35" fill="#a2ff5d"/><rect x="1122.55" y="287.8" width="3.97" height="12.35" fill="#a4ff5b"/><rect x="1126.11" y="287.8" width="7.54" height="12.35" fill="#a0ff5f"/><rect x="740.75" y="263.9" width="7.54" height="24.3" fill="#9dff62"/><rect x="747.89" y="263.9" width="3.97" height="24.3" fill="#a6ff59"/><rect x="751.45" y="263.9" width="3.97" height="24.3" fill="#a0ff5f"/><rect x="755.02" y="263.9" width="7.54" height="24.3" fill="#a9ff56"/><rect x="762.16" y="263.9" width="3.97" height="24.3" fill="#a7ff58"/><rect x="765.73" y="263.9" width="3.97" height="24.3" fill="#b0ff4f"/><rect x="769.3" y="263.9" width="3.97" height="24.3" fill="#acff53"/><rect x="772.86" y="263.9" width="3.97" height="24.3" fill="#b4ff4b"/><rect x="776.43" y="263.9" width="3.97" height="24.3" fill="#b1ff4e"/><rect x="780" y="263.9" width="3.97" height="24.3" fill="#b4ff4b"/><rect x="783.57" y="263.9" width="3.97" height="24.3" fill="#bbff44"/><rect x="787.14" y="263.9" width="3.97" height="24.3" fill="#c4ff3b"/><rect x="790.7" y="263.9" width="3.97" height="24.3" fill="#bfff40"/><rect x="794.27" y="263.9" width="3.97" height="24.3" fill="#c5ff3a"/><rect x="797.84" y="263.9" width="3.97" height="24.3" fill="#cfff30"/><rect x="801.41" y="263.9" width="7.54" height="24.3" fill="#d8ff27"/><rect x="808.55" y="263.9" width="3.97" height="24.3" fill="#daff25"/><rect x="812.11" y="263.9" width="3.97" height="24.3" fill="#e6ff19"/><rect x="815.68" y="263.9" width="3.97" height="24.3" fill="#deff21"/><rect x="819.25" y="263.9" width="3.97" height="24.3" fill="#eeff11"/><rect x="822.82" y="263.9" width="3.97" height="24.3" fill="#eaff15"/><rect x="826.39" y="263.9" width="3.97" height="24.3" fill="#efff10"/><rect x="829.95" y="263.9" width="3.97" height="24.3" fill="#f7ff08"/><rect x="833.52" y="263.9" width="3.97" height="24.3" fill="#fffc00"/><rect x="837.09" y="263.9" width="3.97" height="24.3" fill="#ffec00"/><rect x="840.66" y="263.9" width="3.97" height="24.3" fill="#ffee00"/><rect x="844.23" y="263.9" width="3.97" height="24.3" fill="#ffe500"/><rect x="847.8" y="263.9" width="3.97" height="24.3" fill="#ffe000"/><rect x="851.36" y="263.9" width="3.97" height="24.3" fill="#ffe100"/><rect x="854.93" y="263.9" width="3.97" height="24.3" fill="#ffda00"/><rect x="858.5" y="263.9" width="3.97" height="24.3" fill="#ffde00"/><rect x="862.07" y="263.9" width="3.97" height="24.3" fill="#ffda00"/><rect x="865.64" y="263.9" width="3.97" height="24.3" fill="#ffd400"/><rect x="869.2" y="263.9" width="3.97" height="24.3" fill="#ffca00"/><rect x="872.77" y="263.9" width="3.97" height="24.3" fill="#ffc900"/><rect x="876.34" y="263.9" width="3.97" height="24.3" fill="#ffc600"/><rect x="879.91" y="263.9" width="3.97" height="24.3" fill="#ffbd00"/><rect x="883.48" y="263.9" width="3.97" height="24.3" fill="#ffbb00"/><rect x="887.05" y="263.9" width="3.97" height="24.3" fill="#ffb800"/><rect x="890.61" y="263.9" width="3.97" height="24.3" fill="#ffac00"/><rect x="894.18" y="263.9" width="3.97" height="24.3" fill="#ffa900"/><rect x="897.75" y="263.9" width="3.97" height="24.3" fill="#ffab00"/><rect x="901.32" y="263.9" width="3.97" height="24.3" fill="#ffa100"/><rect x="904.89" y="263.9" width="3.97" height="24.3" fill="#ff9d00"/><rect x="908.45" y="263.9" width="3.97" height="24.3" fill="#ff8c00"/><rect x="912.02" y="263.9" width="3.97" height="24.3" fill="#ff8200"/><rect x="915.59" y="263.9" width="3.97" height="24.3" fill="#ff7c00"/><rect x="919.16" y="263.9" width="3.97" height="24.3" fill="#ff6600"/><rect x="922.73" y="263.9" width="3.97" height="24.3" fill="#ff6500"/><rect x="926.3" y="263.9" width="21.81" height="24.3" fill="#800000"/><rect x="947.7" y="263.9" width="3.97" height="24.3" fill="#ff4d00"/><rect x="951.27" y="263.9" width="3.97" height="24.3" fill="#ff5f00"/><rect x="954.84" y="263.9" width="3.97" height="24.3" fill="#ff6a00"/><rect x="958.41" y="263.9" width="3.97" height="24.3" fill="#ff8100"/><rect x="961.98" y="263.9" width="3.97" height="24.3" fill="#ff8b00"/><rect x="965.55" y="263.9" width="3.97" height="24.3" fill="#ff9900"/><rect x="969.11" y="263.9" width="3.97" height="24.3" fill="#ffa100"/><rect x="972.68" y="263.9" width="3.97" height="24.3" fill="#ffaa00"/><rect x="976.25" y="263.9" width="3.97" height="24.3" fill="#ffac00"/><rect x="979.82" y="263.9" width="3.97" height="24.3" fill="#ffb100"/><rect x="983.39" y="263.9" width="3.97" height="24.3" fill="#ffbf00"/><rect x="986.95" y="263.9" width="3.97" height="24.3" fill="#ffc200"/><rect x="990.52" y="263.9" width="3.97" height="24.3" fill="#ffcd00"/><rect x="994.09" y="263.9" width="3.97" height="24.3" fill="#ffc800"/><rect x="997.66" y="263.9" width="3.97" height="24.3" fill="#ffcc00"/><rect x="1001.23" y="263.9" width="3.97" height="24.3" fill="#ffca00"/><rect x="1004.8" y="263.9" width="3.97" height="24.3" fill="#ffd000"/><rect x="1008.36" y="263.9" width="3.97" height="24.3" fill="#ffce00"/><rect x="1011.93" y="263.9" width="3.97" height="24.3" fill="#ffc300"/><rect x="1015.5" y="263.9" width="3.97" height="24.3" fill="#ffbf00"/><rect x="1019.07" y="263.9" width="3.97" height="24.3" fill="#ffc900"/><rect x="1022.64" y="263.9" width="3.97" height="24.3" fill="#ffc200"/><rect x="1026.2" y="263.9" width="7.54" height="24.3" fill="#ffc700"/><rect x="1033.34" y="263.9" width="3.97" height="24.3" fill="#ffc800"/><rect x="1036.91" y="263.9" width="3.97" height="24.3" fill="#ffbe00"/><rect x="1040.48" y="263.9" width="3.97" height="24.3" fill="#ffd300"/><rect x="1044.05" y="263.9" width="3.97" height="24.3" fill="#fff600"/><rect x="1047.61" y="263.9" width="7.54" height="24.3" fill="#fffb00"/><rect x="1054.75" y="263.9" width="3.97" height="24.3" fill="#f1ff0e"/><rect x="1058.32" y="263.9" width="3.97" height="24.3" fill="#f0ff0f"/><rect x="1061.89" y="263.9" width="3.97" height="24.3" fill="#eaff15"/><rect x="1065.45" y="263.9" width="3.97" height="24.3" fill="#e8ff17"/><rect x="1069.02" y="263.9" width="3.97" height="24.3" fill="#e1ff1e"/><rect x="1072.59" y="263.9" width="3.97" height="24.3" fill="#daff25"/><rect x="1076.16" y="263.9" width="3.97" height="24.3" fill="#cdff32"/><rect x="1079.73" y="263.9" width="3.97" height="24.3" fill="#cbff34"/><rect x="1083.3" y="263.9" width="3.97" height="24.3" fill="#c7ff38"/><rect x="1086.86" y="263.9" width="3.97" height="24.3" fill="#ccff33"/><rect x="1090.43" y="263.9" width="3.97" height="24.3" fill="#c9ff36"/><rect x="1094" y="263.9" width="3.97" height="24.3" fill="#bbff44"/><rect x="1097.57" y="263.9" width="3.97" height="24.3" fill="#b8ff47"/><rect x="1101.14" y="263.9" width="3.97" height="24.3" fill="#b5ff4a"/><rect x="1104.7" y="263.9" width="7.54" height="24.3" fill="#b2ff4d"/><rect x="1111.84" y="263.9" width="3.97" height="24.3" fill="#b1ff4e"/><rect x="1115.41" y="263.9" width="3.97" height="24.3" fill="#a9ff56"/><rect x="1118.98" y="263.9" width="3.97" height="24.3" fill="#a2ff5d"/><rect x="1122.55" y="263.9" width="3.97" height="24.3" fill="#a4ff5b"/><rect x="1126.11" y="263.9" width="7.54" height="24.3" fill="#a0ff5f"/><rect x="740.75" y="240" width="7.54" height="24.3" fill="#a2ff5d"/><rect x="747.89" y="240" width="3.97" height="24.3" fill="#abff54"/><rect x="751.45" y="240" width="3.97" height="24.3" fill="#a5ff5a"/><rect x="755.02" y="240" width="7.54" height="24.3" fill="#aeff51"/><rect x="762.16" y="240" width="3.97" height="24.3" fill="#acff53"/><rect x="765.73" y="240" width="3.97" height="24.3" fill="#b5ff4a"/><rect x="769.3" y="240" width="3.97" height="24.3" fill="#b0ff4f"/><rect x="772.86" y="240" width="3.97" height="24.3" fill="#b8ff47"/><rect x="776.43" y="240" width="3.97" height="24.3" fill="#b5ff4a"/><rect x="780" y="240" width="3.97" height="24.3" fill="#b8ff47"/><rect x="783.57" y="240" width="3.97" height="24.3" fill="#bfff40"/><rect x="787.14" y="240" width="3.97" height="24.3" fill="#c7ff38"/><rect x="790.7" y="240" width="3.97" height="24.3" fill="#bfff40"/><rect x="794.27" y="240" width="3.97" height="24.3" fill="#c3ff3c"/><rect x="797.84" y="240" width="3.97" height="24.3" fill="#ceff31"/><rect x="801.41" y="240" width="3.97" height="24.3" fill="#d9ff26"/><rect x="804.98" y="240" width="3.97" height="24.3" fill="#daff25"/><rect x="808.55" y="240" width="3.97" height="24.3" fill="#deff21"/><rect x="812.11" y="240" width="3.97" height="24.3" fill="#ecff13"/><rect x="815.68" y="240" width="3.97" height="24.3" fill="#e5ff1a"/><rect x="819.25" y="240" width="3.97" height="24.3" fill="#f7ff08"/><rect x="822.82" y="240" width="3.97" height="24.3" fill="#f5ff0a"/><rect x="826.39" y="240" width="3.97" height="24.3" fill="#f9ff06"/><rect x="829.95" y="240" width="3.97" height="24.3" fill="#ffff00"/><rect x="833.52" y="240" width="3.97" height="24.3" fill="#fffb00"/><rect x="837.09" y="240" width="3.97" height="24.3" fill="#fff200"/><rect x="840.66" y="240" width="3.97" height="24.3" fill="#fff900"/><rect x="844.23" y="240" width="3.97" height="24.3" fill="#fff200"/><rect x="847.8" y="240" width="3.97" height="24.3" fill="#fff000"/><rect x="851.36" y="240" width="3.97" height="24.3" fill="#fff200"/><rect x="854.93" y="240" width="3.97" height="24.3" fill="#ffee00"/><rect x="858.5" y="240" width="3.97" height="24.3" fill="#fff300"/><rect x="862.07" y="240" width="3.97" height="24.3" fill="#fff200"/><rect x="865.64" y="240" width="3.97" height="24.3" fill="#ffee00"/><rect x="869.2" y="240" width="3.97" height="24.3" fill="#ffe500"/><rect x="872.77" y="240" width="3.97" height="24.3" fill="#ffe700"/><rect x="876.34" y="240" width="3.97" height="24.3" fill="#ffe800"/><rect x="879.91" y="240" width="3.97" height="24.3" fill="#ffe200"/><rect x="883.48" y="240" width="3.97" height="24.3" fill="#ffe300"/><rect x="887.05" y="240" width="3.97" height="24.3" fill="#ffe400"/><rect x="890.61" y="240" width="7.54" height="24.3" fill="#ffdb00"/><rect x="897.75" y="240" width="3.97" height="24.3" fill="#ffe000"/><rect x="901.32" y="240" width="7.54" height="24.3" fill="#ffda00"/><rect x="908.45" y="240" width="3.97" height="24.3" fill="#ffd300"/><rect x="912.02" y="240" width="3.97" height="24.3" fill="#ffd400"/><rect x="915.59" y="240" width="3.97" height="24.3" fill="#ffd600"/><rect x="919.16" y="240" width="3.97" height="24.3" fill="#ffbd00"/><rect x="922.73" y="240" width="3.97" height="24.3" fill="#ffba00"/><rect x="926.3" y="240" width="3.97" height="24.3" fill="#ff6500"/><rect x="929.86" y="240" width="14.67" height="24.3" fill="#800000"/><rect x="944.14" y="240" width="3.97" height="24.3" fill="#ff8a00"/><rect x="947.7" y="240" width="3.97" height="24.3" fill="#ffa200"/><rect x="951.27" y="240" width="3.97" height="24.3" fill="#ffbd00"/><rect x="954.84" y="240" width="3.97" height="24.3" fill="#ffd100"/><rect x="958.41" y="240" width="3.97" height="24.3" fill="#ffdb00"/><rect x="961.98" y="240" width="3.97" height="24.3" fill="#ffd700"/><rect x="965.55" y="240" width="3.97" height="24.3" fill="#ffda00"/><rect x="969.11" y="240" width="3.97" height="24.3" fill="#ffdc00"/><rect x="972.68" y="240" width="3.97" height="24.3" fill="#ffe000"/><rect x="976.25" y="240" width="3.97" height="24.3" fill="#ffdc00"/><rect x="979.82" y="240" width="3.97" height="24.3" fill="#ffdd00"/><rect x="983.39" y="240" width="3.97" height="24.3" fill="#ffe500"/><rect x="986.95" y="240" width="3.97" height="24.3" fill="#ffe400"/><rect x="990.52" y="240" width="3.97" height="24.3" fill="#ffef00"/><rect x="994.09" y="240" width="7.54" height="24.3" fill="#ffe700"/><rect x="1001.23" y="240" width="3.97" height="24.3" fill="#ffe100"/><rect x="1004.8" y="240" width="3.97" height="24.3" fill="#ffe200"/><rect x="1008.36" y="240" width="3.97" height="24.3" fill="#ffc700"/><rect x="1011.93" y="240" width="3.97" height="24.3" fill="#ffbe00"/><rect x="1015.5" y="240" width="3.97" height="24.3" fill="#ffba00"/><rect x="1019.07" y="240" width="3.97" height="24.3" fill="#ffc400"/><rect x="1022.64" y="240" width="3.97" height="24.3" fill="#ffbd00"/><rect x="1026.2" y="240" width="3.97" height="24.3" fill="#ffc100"/><rect x="1029.77" y="240" width="3.97" height="24.3" fill="#ffc200"/><rect x="1033.34" y="240" width="3.97" height="24.3" fill="#ffc300"/><rect x="1036.91" y="240" width="3.97" height="24.3" fill="#ffb900"/><rect x="1040.48" y="240" width="3.97" height="24.3" fill="#ffd200"/><rect x="1044.05" y="240" width="3.97" height="24.3" fill="#ffff00"/><rect x="1047.61" y="240" width="3.97" height="24.3" fill="#fbff04"/><rect x="1051.18" y="240" width="3.97" height="24.3" fill="#fdff02"/><rect x="1054.75" y="240" width="7.54" height="24.3" fill="#edff12"/><rect x="1061.89" y="240" width="3.97" height="24.3" fill="#e9ff16"/><rect x="1065.45" y="240" width="3.97" height="24.3" fill="#e8ff17"/><rect x="1069.02" y="240" width="3.97" height="24.3" fill="#e2ff1d"/><rect x="1072.59" y="240" width="3.97" height="24.3" fill="#deff21"/><rect x="1076.16" y="240" width="3.97" height="24.3" fill="#d0ff2f"/><rect x="1079.73" y="240" width="3.97" height="24.3" fill="#cdff32"/><rect x="1083.3" y="240" width="3.97" height="24.3" fill="#c7ff38"/><rect x="1086.86" y="240" width="3.97" height="24.3" fill="#cbff34"/><rect x="1090.43" y="240" width="3.97" height="24.3" fill="#c9ff36"/><rect x="1094" y="240" width="3.97" height="24.3" fill="#bbff44"/><rect x="1097.57" y="240" width="3.97" height="24.3" fill="#b8ff47"/><rect x="1101.14" y="240" width="3.97" height="24.3" fill="#b6ff49"/><rect x="1104.7" y="240" width="7.54" height="24.3" fill="#b4ff4b"/><rect x="1111.84" y="240" width="3.97" height="24.3" fill="#b3ff4c"/><rect x="1115.41" y="240" width="3.97" height="24.3" fill="#acff53"/><rect x="1118.98" y="240" width="3.97" height="24.3" fill="#a5ff5a"/><rect x="1122.55" y="240" width="3.97" height="24.3" fill="#a8ff57"/><rect x="1126.11" y="240" width="7.54" height="24.3" fill="#a5ff5a"/><rect x="740.75" y="216.1" width="3.97" height="24.3" fill="#a7ff58"/><rect x="744.32" y="216.1" width="3.97" height="24.3" fill="#a6ff59"/><rect x="747.89" y="216.1" width="3.97" height="24.3" fill="#b0ff4f"/><rect x="751.45" y="216.1" width="3.97" height="24.3" fill="#a9ff56"/><rect x="755.02" y="216.1" width="3.97" height="24.3" fill="#b2ff4d"/><rect x="758.59" y="216.1" width="3.97" height="24.3" fill="#b1ff4e"/><rect x="762.16" y="216.1" width="3.97" height="24.3" fill="#afff50"/><rect x="765.73" y="216.1" width="3.97" height="24.3" fill="#b7ff48"/><rect x="769.3" y="216.1" width="3.97" height="24.3" fill="#b3ff4c"/><rect x="772.86" y="216.1" width="3.97" height="24.3" fill="#baff45"/><rect x="776.43" y="216.1" width="3.97" height="24.3" fill="#b7ff48"/><rect x="780" y="216.1" width="3.97" height="24.3" fill="#b9ff46"/><rect x="783.57" y="216.1" width="3.97" height="24.3" fill="#c0ff3f"/><rect x="787.14" y="216.1" width="3.97" height="24.3" fill="#caff35"/><rect x="790.7" y="216.1" width="3.97" height="24.3" fill="#c4ff3b"/><rect x="794.27" y="216.1" width="3.97" height="24.3" fill="#caff35"/><rect x="797.84" y="216.1" width="3.97" height="24.3" fill="#d4ff2b"/><rect x="801.41" y="216.1" width="7.54" height="24.3" fill="#ddff22"/><rect x="808.55" y="216.1" width="3.97" height="24.3" fill="#dfff20"/><rect x="812.11" y="216.1" width="3.97" height="24.3" fill="#ecff13"/><rect x="815.68" y="216.1" width="3.97" height="24.3" fill="#e3ff1c"/><rect x="819.25" y="216.1" width="3.97" height="24.3" fill="#f3ff0c"/><rect x="822.82" y="216.1" width="3.97" height="24.3" fill="#efff10"/><rect x="826.39" y="216.1" width="7.54" height="24.3" fill="#f0ff0f"/><rect x="833.52" y="216.1" width="3.97" height="24.3" fill="#f4ff0b"/><rect x="837.09" y="216.1" width="3.97" height="24.3" fill="#fcff03"/><rect x="840.66" y="216.1" width="3.97" height="24.3" fill="#f3ff0c"/><rect x="844.23" y="216.1" width="3.97" height="24.3" fill="#faff05"/><rect x="847.8" y="216.1" width="3.97" height="24.3" fill="#fbff04"/><rect x="851.36" y="216.1" width="3.97" height="24.3" fill="#f8ff07"/><rect x="854.93" y="216.1" width="3.97" height="24.3" fill="#fcff03"/><rect x="858.5" y="216.1" width="3.97" height="24.3" fill="#f5ff0a"/><rect x="862.07" y="216.1" width="3.97" height="24.3" fill="#f6ff09"/><rect x="865.64" y="216.1" width="3.97" height="24.3" fill="#f9ff06"/><rect x="869.2" y="216.1" width="3.97" height="24.3" fill="#fffe00"/><rect x="872.77" y="216.1" width="3.97" height="24.3" fill="#feff01"/><rect x="876.34" y="216.1" width="3.97" height="24.3" fill="#fcff03"/><rect x="879.91" y="216.1" width="3.97" height="24.3" fill="#fffe00"/><rect x="883.48" y="216.1" width="3.97" height="24.3" fill="#feff01"/><rect x="887.05" y="216.1" width="3.97" height="24.3" fill="#fcff03"/><rect x="890.61" y="216.1" width="3.97" height="24.3" fill="#fffb00"/><rect x="894.18" y="216.1" width="3.97" height="24.3" fill="#fffc00"/><rect x="897.75" y="216.1" width="3.97" height="24.3" fill="#fbff04"/><rect x="901.32" y="216.1" width="3.97" height="24.3" fill="#fffe00"/><rect x="904.89" y="216.1" width="3.97" height="24.3" fill="#ffff00"/><rect x="908.45" y="216.1" width="3.97" height="24.3" fill="#fffa00"/><rect x="912.02" y="216.1" width="3.97" height="24.3" fill="#fffc00"/><rect x="915.59" y="216.1" width="3.97" height="24.3" fill="#fcff03"/><rect x="919.16" y="216.1" width="3.97" height="24.3" fill="#fff800"/><rect x="922.73" y="216.1" width="3.97" height="24.3" fill="#faff05"/><rect x="926.3" y="216.1" width="3.97" height="24.3" fill="#feff01"/><rect x="929.86" y="216.1" width="3.97" height="24.3" fill="#ffdf00"/><rect x="933.43" y="216.1" width="3.97" height="24.3" fill="#ff9900"/><rect x="937" y="216.1" width="3.97" height="24.3" fill="#ff9400"/><rect x="940.57" y="216.1" width="3.97" height="24.3" fill="#fff500"/><rect x="944.14" y="216.1" width="3.97" height="24.3" fill="#fcff03"/><rect x="947.7" y="216.1" width="3.97" height="24.3" fill="#fdff02"/><rect x="951.27" y="216.1" width="3.97" height="24.3" fill="#faff05"/><rect x="954.84" y="216.1" width="3.97" height="24.3" fill="#feff01"/><rect x="958.41" y="216.1" width="3.97" height="24.3" fill="#f6ff09"/><rect x="961.98" y="216.1" width="3.97" height="24.3" fill="#fbff04"/><rect x="965.55" y="216.1" width="7.54" height="24.3" fill="#f9ff06"/><rect x="972.68" y="216.1" width="3.97" height="24.3" fill="#f7ff08"/><rect x="976.25" y="216.1" width="3.97" height="24.3" fill="#fcff03"/><rect x="979.82" y="216.1" width="3.97" height="24.3" fill="#fdff02"/><rect x="983.39" y="216.1" width="3.97" height="24.3" fill="#f6ff09"/><rect x="986.95" y="216.1" width="3.97" height="24.3" fill="#f9ff06"/><rect x="990.52" y="216.1" width="3.97" height="24.3" fill="#f0ff0f"/><rect x="994.09" y="216.1" width="3.97" height="24.3" fill="#f9ff06"/><rect x="997.66" y="216.1" width="3.97" height="24.3" fill="#f7ff08"/><rect x="1001.23" y="216.1" width="3.97" height="24.3" fill="#fcff03"/><rect x="1004.8" y="216.1" width="3.97" height="24.3" fill="#fbff04"/><rect x="1008.36" y="216.1" width="3.97" height="24.3" fill="#ffcf00"/><rect x="1011.93" y="216.1" width="3.97" height="24.3" fill="#ffce00"/><rect x="1015.5" y="216.1" width="3.97" height="24.3" fill="#ffca00"/><rect x="1019.07" y="216.1" width="3.97" height="24.3" fill="#ffd300"/><rect x="1022.64" y="216.1" width="3.97" height="24.3" fill="#ffcd00"/><rect x="1026.2" y="216.1" width="7.54" height="24.3" fill="#ffd100"/><rect x="1033.34" y="216.1" width="3.97" height="24.3" fill="#ffd200"/><rect x="1036.91" y="216.1" width="3.97" height="24.3" fill="#ffc800"/><rect x="1040.48" y="216.1" width="3.97" height="24.3" fill="#ffe000"/><rect x="1044.05" y="216.1" width="3.97" height="24.3" fill="#f5ff0a"/><rect x="1047.61" y="216.1" width="3.97" height="24.3" fill="#f2ff0d"/><rect x="1051.18" y="216.1" width="3.97" height="24.3" fill="#f5ff0a"/><rect x="1054.75" y="216.1" width="3.97" height="24.3" fill="#e5ff1a"/><rect x="1058.32" y="216.1" width="3.97" height="24.3" fill="#e6ff19"/><rect x="1061.89" y="216.1" width="3.97" height="24.3" fill="#e3ff1c"/><rect x="1065.45" y="216.1" width="3.97" height="24.3" fill="#e4ff1b"/><rect x="1069.02" y="216.1" width="3.97" height="24.3" fill="#dfff20"/><rect x="1072.59" y="216.1" width="3.97" height="24.3" fill="#dbff24"/><rect x="1076.16" y="216.1" width="3.97" height="24.3" fill="#ceff31"/><rect x="1079.73" y="216.1" width="3.97" height="24.3" fill="#ccff33"/><rect x="1083.3" y="216.1" width="3.97" height="24.3" fill="#c7ff38"/><rect x="1086.86" y="216.1" width="3.97" height="24.3" fill="#cbff34"/><rect x="1090.43" y="216.1" width="3.97" height="24.3" fill="#caff35"/><rect x="1094" y="216.1" width="3.97" height="24.3" fill="#bcff43"/><rect x="1097.57" y="216.1" width="3.97" height="24.3" fill="#baff45"/><rect x="1101.14" y="216.1" width="3.97" height="24.3" fill="#b8ff47"/><rect x="1104.7" y="216.1" width="3.97" height="24.3" fill="#b6ff49"/><rect x="1108.27" y="216.1" width="3.97" height="24.3" fill="#b7ff48"/><rect x="1111.84" y="216.1" width="3.97" height="24.3" fill="#b6ff49"/><rect x="1115.41" y="216.1" width="3.97" height="24.3" fill="#afff50"/><rect x="1118.98" y="216.1" width="3.97" height="24.3" fill="#a9ff56"/><rect x="1122.55" y="216.1" width="3.97" height="24.3" fill="#adff52"/><rect x="1126.11" y="216.1" width="3.97" height="24.3" fill="#a9ff56"/><rect x="1129.68" y="216.1" width="3.97" height="24.3" fill="#aaff55"/><rect x="740.75" y="192.2" width="3.97" height="24.3" fill="#a7ff58"/><rect x="744.32" y="192.2" width="3.97" height="24.3" fill="#a6ff59"/><rect x="747.89" y="192.2" width="3.97" height="24.3" fill="#afff50"/><rect x="751.45" y="192.2" width="3.97" height="24.3" fill="#a8ff57"/><rect x="755.02" y="192.2" width="3.97" height="24.3" fill="#b0ff4f"/><rect x="758.59" y="192.2" width="3.97" height="24.3" fill="#afff50"/><rect x="762.16" y="192.2" width="3.97" height="24.3" fill="#acff53"/><rect x="765.73" y="192.2" width="3.97" height="24.3" fill="#b4ff4b"/><rect x="769.3" y="192.2" width="3.97" height="24.3" fill="#afff50"/><rect x="772.86" y="192.2" width="3.97" height="24.3" fill="#b6ff49"/><rect x="776.43" y="192.2" width="3.97" height="24.3" fill="#b3ff4c"/><rect x="780" y="192.2" width="3.97" height="24.3" fill="#b5ff4a"/><rect x="783.57" y="192.2" width="3.97" height="24.3" fill="#bbff44"/><rect x="787.14" y="192.2" width="3.97" height="24.3" fill="#c2ff3d"/><rect x="790.7" y="192.2" width="3.97" height="24.3" fill="#b9ff46"/><rect x="794.27" y="192.2" width="3.97" height="24.3" fill="#bcff43"/><rect x="797.84" y="192.2" width="3.97" height="24.3" fill="#c3ff3c"/><rect x="801.41" y="192.2" width="3.97" height="24.3" fill="#c8ff37"/><rect x="804.98" y="192.2" width="3.97" height="24.3" fill="#c4ff3b"/><rect x="808.55" y="192.2" width="3.97" height="24.3" fill="#c3ff3c"/><rect x="812.11" y="192.2" width="3.97" height="24.3" fill="#ccff33"/><rect x="815.68" y="192.2" width="3.97" height="24.3" fill="#c0ff3f"/><rect x="819.25" y="192.2" width="3.97" height="24.3" fill="#ccff33"/><rect x="822.82" y="192.2" width="3.97" height="24.3" fill="#c5ff3a"/><rect x="826.39" y="192.2" width="3.97" height="24.3" fill="#c4ff3b"/><rect x="829.95" y="192.2" width="3.97" height="24.3" fill="#c5ff3a"/><rect x="833.52" y="192.2" width="3.97" height="24.3" fill="#c9ff36"/><rect x="837.09" y="192.2" width="3.97" height="24.3" fill="#d0ff2f"/><rect x="840.66" y="192.2" width="3.97" height="24.3" fill="#c7ff38"/><rect x="844.23" y="192.2" width="3.97" height="24.3" fill="#ccff33"/><rect x="847.8" y="192.2" width="3.97" height="24.3" fill="#cdff32"/><rect x="851.36" y="192.2" width="3.97" height="24.3" fill="#c8ff37"/><rect x="854.93" y="192.2" width="3.97" height="24.3" fill="#cbff34"/><rect x="858.5" y="192.2" width="7.54" height="24.3" fill="#c3ff3c"/><rect x="865.64" y="192.2" width="3.97" height="24.3" fill="#c5ff3a"/><rect x="869.2" y="192.2" width="3.97" height="24.3" fill="#cbff34"/><rect x="872.77" y="192.2" width="3.97" height="24.3" fill="#c7ff38"/><rect x="876.34" y="192.2" width="3.97" height="24.3" fill="#c5ff3a"/><rect x="879.91" y="192.2" width="3.97" height="24.3" fill="#c9ff36"/><rect x="883.48" y="192.2" width="3.97" height="24.3" fill="#c6ff39"/><rect x="887.05" y="192.2" width="3.97" height="24.3" fill="#c4ff3b"/><rect x="890.61" y="192.2" width="3.97" height="24.3" fill="#cbff34"/><rect x="894.18" y="192.2" width="3.97" height="24.3" fill="#c9ff36"/><rect x="897.75" y="192.2" width="3.97" height="24.3" fill="#c2ff3d"/><rect x="901.32" y="192.2" width="3.97" height="24.3" fill="#c6ff39"/><rect x="904.89" y="192.2" width="3.97" height="24.3" fill="#c5ff3a"/><rect x="908.45" y="192.2" width="3.97" height="24.3" fill="#caff35"/><rect x="912.02" y="192.2" width="3.97" height="24.3" fill="#c7ff38"/><rect x="915.59" y="192.2" width="3.97" height="24.3" fill="#c1ff3e"/><rect x="919.16" y="192.2" width="3.97" height="24.3" fill="#caff35"/><rect x="922.73" y="192.2" width="3.97" height="24.3" fill="#beff41"/><rect x="926.3" y="192.2" width="3.97" height="24.3" fill="#c1ff3e"/><rect x="929.86" y="192.2" width="3.97" height="24.3" fill="#c6ff39"/><rect x="933.43" y="192.2" width="3.97" height="24.3" fill="#bdff42"/><rect x="937" y="192.2" width="3.97" height="24.3" fill="#c2ff3d"/><rect x="940.57" y="192.2" width="3.97" height="24.3" fill="#bcff43"/><rect x="944.14" y="192.2" width="3.97" height="24.3" fill="#c6ff39"/><rect x="947.7" y="192.2" width="3.97" height="24.3" fill="#c8ff37"/><rect x="951.27" y="192.2" width="3.97" height="24.3" fill="#c5ff3a"/><rect x="954.84" y="192.2" width="3.97" height="24.3" fill="#caff35"/><rect x="958.41" y="192.2" width="3.97" height="24.3" fill="#c3ff3c"/><rect x="961.98" y="192.2" width="3.97" height="24.3" fill="#c9ff36"/><rect x="965.55" y="192.2" width="7.54" height="24.3" fill="#c8ff37"/><rect x="972.68" y="192.2" width="3.97" height="24.3" fill="#c7ff38"/><rect x="976.25" y="192.2" width="3.97" height="24.3" fill="#cdff32"/><rect x="979.82" y="192.2" width="3.97" height="24.3" fill="#cfff30"/><rect x="983.39" y="192.2" width="3.97" height="24.3" fill="#c9ff36"/><rect x="986.95" y="192.2" width="3.97" height="24.3" fill="#ccff33"/><rect x="990.52" y="192.2" width="3.97" height="24.3" fill="#c4ff3b"/><rect x="994.09" y="192.2" width="7.54" height="24.3" fill="#ceff31"/><rect x="1001.23" y="192.2" width="3.97" height="24.3" fill="#daff25"/><rect x="1004.8" y="192.2" width="3.97" height="24.3" fill="#e8ff17"/><rect x="1008.36" y="192.2" width="3.97" height="24.3" fill="#f1ff0e"/><rect x="1011.93" y="192.2" width="3.97" height="24.3" fill="#f8ff07"/><rect x="1015.5" y="192.2" width="3.97" height="24.3" fill="#fcff03"/><rect x="1019.07" y="192.2" width="3.97" height="24.3" fill="#f3ff0c"/><rect x="1022.64" y="192.2" width="3.97" height="24.3" fill="#f9ff06"/><rect x="1026.2" y="192.2" width="3.97" height="24.3" fill="#f5ff0a"/><rect x="1029.77" y="192.2" width="7.54" height="24.3" fill="#f4ff0b"/><rect x="1036.91" y="192.2" width="3.97" height="24.3" fill="#f6ff09"/><rect x="1040.48" y="192.2" width="3.97" height="24.3" fill="#e0ff1f"/><rect x="1044.05" y="192.2" width="3.97" height="24.3" fill="#d5ff2a"/><rect x="1047.61" y="192.2" width="3.97" height="24.3" fill="#d3ff2c"/><rect x="1051.18" y="192.2" width="3.97" height="24.3" fill="#d7ff28"/><rect x="1054.75" y="192.2" width="3.97" height="24.3" fill="#caff35"/><rect x="1058.32" y="192.2" width="3.97" height="24.3" fill="#cdff32"/><rect x="1061.89" y="192.2" width="3.97" height="24.3" fill="#ccff33"/><rect x="1065.45" y="192.2" width="3.97" height="24.3" fill="#ceff31"/><rect x="1069.02" y="192.2" width="3.97" height="24.3" fill="#cbff34"/><rect x="1072.59" y="192.2" width="3.97" height="24.3" fill="#caff35"/><rect x="1076.16" y="192.2" width="7.54" height="24.3" fill="#bfff40"/><rect x="1083.3" y="192.2" width="3.97" height="24.3" fill="#bcff43"/><rect x="1086.86" y="192.2" width="7.54" height="24.3" fill="#c1ff3e"/><rect x="1094" y="192.2" width="3.97" height="24.3" fill="#b4ff4b"/><rect x="1097.57" y="192.2" width="7.54" height="24.3" fill="#b2ff4d"/><rect x="1104.7" y="192.2" width="3.97" height="24.3" fill="#b0ff4f"/><rect x="1108.27" y="192.2" width="7.54" height="24.3" fill="#b2ff4d"/><rect x="1115.41" y="192.2" width="3.97" height="24.3" fill="#acff53"/><rect x="1118.98" y="192.2" width="3.97" height="24.3" fill="#a6ff59"/><rect x="1122.55" y="192.2" width="3.97" height="24.3" fill="#abff54"/><rect x="1126.11" y="192.2" width="3.97" height="24.3" fill="#a8ff57"/><rect x="1129.68" y="192.2" width="3.97" height="24.3" fill="#aaff55"/><rect x="740.75" y="168.3" width="3.97" height="24.3" fill="#a1ff5e"/><rect x="744.32" y="168.3" width="3.97" height="24.3" fill="#a0ff5f"/><rect x="747.89" y="168.3" width="3.97" height="24.3" fill="#a8ff57"/><rect x="751.45" y="168.3" width="3.97" height="24.3" fill="#a1ff5e"/><rect x="755.02" y="168.3" width="3.97" height="24.3" fill="#a9ff56"/><rect x="758.59" y="168.3" width="3.97" height="24.3" fill="#a8ff57"/><rect x="762.16" y="168.3" width="3.97" height="24.3" fill="#a5ff5a"/><rect x="765.73" y="168.3" width="3.97" height="24.3" fill="#acff53"/><rect x="769.3" y="168.3" width="3.97" height="24.3" fill="#a7ff58"/><rect x="772.86" y="168.3" width="3.97" height="24.3" fill="#aeff51"/><rect x="776.43" y="168.3" width="3.97" height="24.3" fill="#aaff55"/><rect x="780" y="168.3" width="3.97" height="24.3" fill="#abff54"/><rect x="783.57" y="168.3" width="3.97" height="24.3" fill="#b1ff4e"/><rect x="787.14" y="168.3" width="3.97" height="24.3" fill="#b7ff48"/><rect x="790.7" y="168.3" width="3.97" height="24.3" fill="#adff52"/><rect x="794.27" y="168.3" width="3.97" height="24.3" fill="#afff50"/><rect x="797.84" y="168.3" width="3.97" height="24.3" fill="#b4ff4b"/><rect x="801.41" y="168.3" width="3.97" height="24.3" fill="#b9ff46"/><rect x="804.98" y="168.3" width="3.97" height="24.3" fill="#b4ff4b"/><rect x="808.55" y="168.3" width="3.97" height="24.3" fill="#b1ff4e"/><rect x="812.11" y="168.3" width="3.97" height="24.3" fill="#b9ff46"/><rect x="815.68" y="168.3" width="3.97" height="24.3" fill="#acff53"/><rect x="819.25" y="168.3" width="3.97" height="24.3" fill="#b8ff47"/><rect x="822.82" y="168.3" width="3.97" height="24.3" fill="#afff50"/><rect x="826.39" y="168.3" width="7.54" height="24.3" fill="#adff52"/><rect x="833.52" y="168.3" width="3.97" height="24.3" fill="#b0ff4f"/><rect x="837.09" y="168.3" width="3.97" height="24.3" fill="#b6ff49"/><rect x="840.66" y="168.3" width="3.97" height="24.3" fill="#acff53"/><rect x="844.23" y="168.3" width="7.54" height="24.3" fill="#b1ff4e"/><rect x="851.36" y="168.3" width="3.97" height="24.3" fill="#acff53"/><rect x="854.93" y="168.3" width="3.97" height="24.3" fill="#aeff51"/><rect x="858.5" y="168.3" width="3.97" height="24.3" fill="#a6ff59"/><rect x="862.07" y="168.3" width="3.97" height="24.3" fill="#a5ff5a"/><rect x="865.64" y="168.3" width="3.97" height="24.3" fill="#a6ff59"/><rect x="869.2" y="168.3" width="3.97" height="24.3" fill="#acff53"/><rect x="872.77" y="168.3" width="3.97" height="24.3" fill="#a8ff57"/><rect x="876.34" y="168.3" width="3.97" height="24.3" fill="#a5ff5a"/><rect x="879.91" y="168.3" width="3.97" height="24.3" fill="#a8ff57"/><rect x="883.48" y="168.3" width="3.97" height="24.3" fill="#a5ff5a"/><rect x="887.05" y="168.3" width="3.97" height="24.3" fill="#a2ff5d"/><rect x="890.61" y="168.3" width="3.97" height="24.3" fill="#a8ff57"/><rect x="894.18" y="168.3" width="3.97" height="24.3" fill="#a6ff59"/><rect x="897.75" y="168.3" width="3.97" height="24.3" fill="#9fff60"/><rect x="901.32" y="168.3" width="3.97" height="24.3" fill="#a3ff5c"/><rect x="904.89" y="168.3" width="3.97" height="24.3" fill="#a1ff5e"/><rect x="908.45" y="168.3" width="3.97" height="24.3" fill="#a5ff5a"/><rect x="912.02" y="168.3" width="3.97" height="24.3" fill="#a2ff5d"/><rect x="915.59" y="168.3" width="3.97" height="24.3" fill="#9bff64"/><rect x="919.16" y="168.3" width="3.97" height="24.3" fill="#a4ff5b"/><rect x="922.73" y="168.3" width="3.97" height="24.3" fill="#97ff68"/><rect x="926.3" y="168.3" width="3.97" height="24.3" fill="#9aff65"/><rect x="929.86" y="168.3" width="3.97" height="24.3" fill="#9eff61"/><rect x="933.43" y="168.3" width="3.97" height="24.3" fill="#94ff6b"/><rect x="937" y="168.3" width="3.97" height="24.3" fill="#99ff66"/><rect x="940.57" y="168.3" width="3.97" height="24.3" fill="#94ff6b"/><rect x="944.14" y="168.3" width="3.97" height="24.3" fill="#9dff62"/><rect x="947.7" y="168.3" width="3.97" height="24.3" fill="#9fff60"/><rect x="951.27" y="168.3" width="3.97" height="24.3" fill="#9dff62"/><rect x="954.84" y="168.3" width="3.97" height="24.3" fill="#a2ff5d"/><rect x="958.41" y="168.3" width="3.97" height="24.3" fill="#9bff64"/><rect x="961.98" y="168.3" width="11.1" height="24.3" fill="#a1ff5e"/><rect x="972.68" y="168.3" width="3.97" height="24.3" fill="#a0ff5f"/><rect x="976.25" y="168.3" width="3.97" height="24.3" fill="#a6ff59"/><rect x="979.82" y="168.3" width="3.97" height="24.3" fill="#a9ff56"/><rect x="983.39" y="168.3" width="3.97" height="24.3" fill="#a3ff5c"/><rect x="986.95" y="168.3" width="3.97" height="24.3" fill="#a6ff59"/><rect x="990.52" y="168.3" width="3.97" height="24.3" fill="#9eff61"/><rect x="994.09" y="168.3" width="7.54" height="24.3" fill="#a8ff57"/><rect x="1001.23" y="168.3" width="3.97" height="24.3" fill="#aeff51"/><rect x="1004.8" y="168.3" width="3.97" height="24.3" fill="#acff53"/><rect x="1008.36" y="168.3" width="3.97" height="24.3" fill="#a5ff5a"/><rect x="1011.93" y="168.3" width="3.97" height="24.3" fill="#a7ff58"/><rect x="1015.5" y="168.3" width="3.97" height="24.3" fill="#acff53"/><rect x="1019.07" y="168.3" width="3.97" height="24.3" fill="#a3ff5c"/><rect x="1022.64" y="168.3" width="3.97" height="24.3" fill="#aaff55"/><rect x="1026.2" y="168.3" width="11.1" height="24.3" fill="#a7ff58"/><rect x="1036.91" y="168.3" width="3.97" height="24.3" fill="#b1ff4e"/><rect x="1040.48" y="168.3" width="3.97" height="24.3" fill="#a9ff56"/><rect x="1044.05" y="168.3" width="3.97" height="24.3" fill="#abff54"/><rect x="1047.61" y="168.3" width="3.97" height="24.3" fill="#adff52"/><rect x="1051.18" y="168.3" width="3.97" height="24.3" fill="#b4ff4b"/><rect x="1054.75" y="168.3" width="3.97" height="24.3" fill="#a9ff56"/><rect x="1058.32" y="168.3" width="3.97" height="24.3" fill="#afff50"/><rect x="1061.89" y="168.3" width="3.97" height="24.3" fill="#b1ff4e"/><rect x="1065.45" y="168.3" width="3.97" height="24.3" fill="#b6ff49"/><rect x="1069.02" y="168.3" width="3.97" height="24.3" fill="#b5ff4a"/><rect x="1072.59" y="168.3" width="3.97" height="24.3" fill="#b6ff49"/><rect x="1076.16" y="168.3" width="3.97" height="24.3" fill="#aeff51"/><rect x="1079.73" y="168.3" width="3.97" height="24.3" fill="#b1ff4e"/><rect x="1083.3" y="168.3" width="3.97" height="24.3" fill="#b0ff4f"/><rect x="1086.86" y="168.3" width="7.54" height="24.3" fill="#b7ff48"/><rect x="1094" y="168.3" width="7.54" height="24.3" fill="#aaff55"/><rect x="1101.14" y="168.3" width="3.97" height="24.3" fill="#a9ff56"/><rect x="1104.7" y="168.3" width="3.97" height="24.3" fill="#a8ff57"/><rect x="1108.27" y="168.3" width="3.97" height="24.3" fill="#aaff55"/><rect x="1111.84" y="168.3" width="3.97" height="24.3" fill="#abff54"/><rect x="1115.41" y="168.3" width="3.97" height="24.3" fill="#a5ff5a"/><rect x="1118.98" y="168.3" width="3.97" height="24.3" fill="#a0ff5f"/><rect x="1122.55" y="168.3" width="3.97" height="24.3" fill="#a5ff5a"/><rect x="1126.11" y="168.3" width="3.97" height="24.3" fill="#a3ff5c"/><rect x="1129.68" y="168.3" width="3.97" height="24.3" fill="#a4ff5b"/><rect x="740.75" y="144.4" width="3.97" height="24.3" fill="#9cff63"/><rect x="744.32" y="144.4" width="3.97" height="24.3" fill="#99ff66"/><rect x="747.89" y="144.4" width="3.97" height="24.3" fill="#a0ff5f"/><rect x="751.45" y="144.4" width="3.97" height="24.3" fill="#98ff67"/><rect x="755.02" y="144.4" width="3.97" height="24.3" fill="#9fff60"/><rect x="758.59" y="144.4" width="3.97" height="24.3" fill="#9cff63"/><rect x="762.16" y="144.4" width="3.97" height="24.3" fill="#98ff67"/><rect x="765.73" y="144.4" width="3.97" height="24.3" fill="#9eff61"/><rect x="769.3" y="144.4" width="3.97" height="24.3" fill="#97ff68"/><rect x="772.86" y="144.4" width="3.97" height="24.3" fill="#9dff62"/><rect x="776.43" y="144.4" width="7.54" height="24.3" fill="#98ff67"/><rect x="783.57" y="144.4" width="3.97" height="24.3" fill="#9dff62"/><rect x="787.14" y="144.4" width="3.97" height="24.3" fill="#a1ff5e"/><rect x="790.7" y="144.4" width="3.97" height="24.3" fill="#95ff6a"/><rect x="794.27" y="144.4" width="3.97" height="24.3" fill="#94ff6b"/><rect x="797.84" y="144.4" width="3.97" height="24.3" fill="#98ff67"/><rect x="801.41" y="144.4" width="3.97" height="24.3" fill="#9aff65"/><rect x="804.98" y="144.4" width="3.97" height="24.3" fill="#93ff6c"/><rect x="808.55" y="144.4" width="3.97" height="24.3" fill="#8eff71"/><rect x="812.11" y="144.4" width="3.97" height="24.3" fill="#94ff6b"/><rect x="815.68" y="144.4" width="3.97" height="24.3" fill="#85ff7a"/><rect x="819.25" y="144.4" width="3.97" height="24.3" fill="#8eff71"/><rect x="822.82" y="144.4" width="3.97" height="24.3" fill="#84ff7b"/><rect x="826.39" y="144.4" width="3.97" height="24.3" fill="#80ff7f"/><rect x="829.95" y="144.4" width="7.54" height="24.3" fill="#7dff82"/><rect x="837.09" y="144.4" width="3.97" height="24.3" fill="#83ff7c"/><rect x="840.66" y="144.4" width="3.97" height="24.3" fill="#79ff86"/><rect x="844.23" y="144.4" width="3.97" height="24.3" fill="#7eff81"/><rect x="847.8" y="144.4" width="3.97" height="24.3" fill="#7dff82"/><rect x="851.36" y="144.4" width="3.97" height="24.3" fill="#79ff86"/><rect x="854.93" y="144.4" width="3.97" height="24.3" fill="#7aff85"/><rect x="858.5" y="144.4" width="3.97" height="24.3" fill="#72ff8d"/><rect x="862.07" y="144.4" width="3.97" height="24.3" fill="#71ff8e"/><rect x="865.64" y="144.4" width="3.97" height="24.3" fill="#72ff8d"/><rect x="869.2" y="144.4" width="3.97" height="24.3" fill="#78ff87"/><rect x="872.77" y="144.4" width="3.97" height="24.3" fill="#73ff8c"/><rect x="876.34" y="144.4" width="3.97" height="24.3" fill="#70ff8f"/><rect x="879.91" y="144.4" width="3.97" height="24.3" fill="#73ff8c"/><rect x="883.48" y="144.4" width="3.97" height="24.3" fill="#70ff8f"/><rect x="887.05" y="144.4" width="3.97" height="24.3" fill="#6dff92"/><rect x="890.61" y="144.4" width="3.97" height="24.3" fill="#73ff8c"/><rect x="894.18" y="144.4" width="3.97" height="24.3" fill="#70ff8f"/><rect x="897.75" y="144.4" width="3.97" height="24.3" fill="#69ff96"/><rect x="901.32" y="144.4" width="3.97" height="24.3" fill="#6cff93"/><rect x="904.89" y="144.4" width="3.97" height="24.3" fill="#6aff95"/><rect x="908.45" y="144.4" width="3.97" height="24.3" fill="#6eff91"/><rect x="912.02" y="144.4" width="3.97" height="24.3" fill="#6bff94"/><rect x="915.59" y="144.4" width="3.97" height="24.3" fill="#64ff9b"/><rect x="919.16" y="144.4" width="3.97" height="24.3" fill="#6dff92"/><rect x="922.73" y="144.4" width="3.97" height="24.3" fill="#5fffa0"/><rect x="926.3" y="144.4" width="3.97" height="24.3" fill="#62ff9d"/><rect x="929.86" y="144.4" width="3.97" height="24.3" fill="#66ff99"/><rect x="933.43" y="144.4" width="3.97" height="24.3" fill="#5cffa3"/><rect x="937" y="144.4" width="3.97" height="24.3" fill="#61ff9e"/><rect x="940.57" y="144.4" width="3.97" height="24.3" fill="#5cffa3"/><rect x="944.14" y="144.4" width="3.97" height="24.3" fill="#66ff99"/><rect x="947.7" y="144.4" width="3.97" height="24.3" fill="#69ff96"/><rect x="951.27" y="144.4" width="3.97" height="24.3" fill="#67ff98"/><rect x="954.84" y="144.4" width="3.97" height="24.3" fill="#6cff93"/><rect x="958.41" y="144.4" width="3.97" height="24.3" fill="#65ff9a"/><rect x="961.98" y="144.4" width="7.54" height="24.3" fill="#6cff93"/><rect x="969.11" y="144.4" width="3.97" height="24.3" fill="#6dff92"/><rect x="972.68" y="144.4" width="3.97" height="24.3" fill="#6cff93"/><rect x="976.25" y="144.4" width="3.97" height="24.3" fill="#72ff8d"/><rect x="979.82" y="144.4" width="3.97" height="24.3" fill="#75ff8a"/><rect x="983.39" y="144.4" width="3.97" height="24.3" fill="#6fff90"/><rect x="986.95" y="144.4" width="3.97" height="24.3" fill="#73ff8c"/><rect x="990.52" y="144.4" width="3.97" height="24.3" fill="#6cff93"/><rect x="994.09" y="144.4" width="7.54" height="24.3" fill="#76ff89"/><rect x="1001.23" y="144.4" width="3.97" height="24.3" fill="#7cff83"/><rect x="1004.8" y="144.4" width="3.97" height="24.3" fill="#7bff84"/><rect x="1008.36" y="144.4" width="3.97" height="24.3" fill="#74ff8b"/><rect x="1011.93" y="144.4" width="3.97" height="24.3" fill="#77ff88"/><rect x="1015.5" y="144.4" width="3.97" height="24.3" fill="#7cff83"/><rect x="1019.07" y="144.4" width="3.97" height="24.3" fill="#74ff8b"/><rect x="1022.64" y="144.4" width="3.97" height="24.3" fill="#7bff84"/><rect x="1026.2" y="144.4" width="3.97" height="24.3" fill="#78ff87"/><rect x="1029.77" y="144.4" width="7.54" height="24.3" fill="#79ff86"/><rect x="1036.91" y="144.4" width="3.97" height="24.3" fill="#85ff7a"/><rect x="1040.48" y="144.4" width="3.97" height="24.3" fill="#7eff81"/><rect x="1044.05" y="144.4" width="3.97" height="24.3" fill="#82ff7d"/><rect x="1047.61" y="144.4" width="3.97" height="24.3" fill="#86ff79"/><rect x="1051.18" y="144.4" width="3.97" height="24.3" fill="#8fff70"/><rect x="1054.75" y="144.4" width="3.97" height="24.3" fill="#86ff79"/><rect x="1058.32" y="144.4" width="3.97" height="24.3" fill="#8dff72"/><rect x="1061.89" y="144.4" width="3.97" height="24.3" fill="#91ff6e"/><rect x="1065.45" y="144.4" width="3.97" height="24.3" fill="#98ff67"/><rect x="1069.02" y="144.4" width="3.97" height="24.3" fill="#99ff66"/><rect x="1072.59" y="144.4" width="3.97" height="24.3" fill="#9cff63"/><rect x="1076.16" y="144.4" width="3.97" height="24.3" fill="#96ff69"/><rect x="1079.73" y="144.4" width="3.97" height="24.3" fill="#9aff65"/><rect x="1083.3" y="144.4" width="3.97" height="24.3" fill="#9bff64"/><rect x="1086.86" y="144.4" width="3.97" height="24.3" fill="#a3ff5c"/><rect x="1090.43" y="144.4" width="3.97" height="24.3" fill="#a4ff5b"/><rect x="1094" y="144.4" width="14.67" height="24.3" fill="#98ff67"/><rect x="1108.27" y="144.4" width="3.97" height="24.3" fill="#9bff64"/><rect x="1111.84" y="144.4" width="3.97" height="24.3" fill="#9cff63"/><rect x="1115.41" y="144.4" width="3.97" height="24.3" fill="#97ff68"/><rect x="1118.98" y="144.4" width="3.97" height="24.3" fill="#93ff6c"/><rect x="1122.55" y="144.4" width="3.97" height="24.3" fill="#99ff66"/><rect x="1126.11" y="144.4" width="3.97" height="24.3" fill="#98ff67"/><rect x="1129.68" y="144.4" width="3.97" height="24.3" fill="#9aff65"/><rect x="740.75" y="120.5" width="3.97" height="24.3" fill="#96ff69"/><rect x="744.32" y="120.5" width="3.97" height="24.3" fill="#92ff6d"/><rect x="747.89" y="120.5" width="3.97" height="24.3" fill="#98ff67"/><rect x="751.45" y="120.5" width="3.97" height="24.3" fill="#8fff70"/><rect x="755.02" y="120.5" width="3.97" height="24.3" fill="#94ff6b"/><rect x="758.59" y="120.5" width="3.97" height="24.3" fill="#90ff6f"/><rect x="762.16" y="120.5" width="3.97" height="24.3" fill="#8bff74"/><rect x="765.73" y="120.5" width="3.97" height="24.3" fill="#90ff6f"/><rect x="769.3" y="120.5" width="3.97" height="24.3" fill="#88ff77"/><rect x="772.86" y="120.5" width="3.97" height="24.3" fill="#8dff72"/><rect x="776.43" y="120.5" width="3.97" height="24.3" fill="#86ff79"/><rect x="780" y="120.5" width="3.97" height="24.3" fill="#85ff7a"/><rect x="783.57" y="120.5" width="3.97" height="24.3" fill="#89ff76"/><rect x="787.14" y="120.5" width="3.97" height="24.3" fill="#8cff73"/><rect x="790.7" y="120.5" width="3.97" height="24.3" fill="#7eff81"/><rect x="794.27" y="120.5" width="3.97" height="24.3" fill="#7cff83"/><rect x="797.84" y="120.5" width="3.97" height="24.3" fill="#7eff81"/><rect x="801.41" y="120.5" width="3.97" height="24.3" fill="#7fff80"/><rect x="804.98" y="120.5" width="3.97" height="24.3" fill="#76ff89"/><rect x="808.55" y="120.5" width="3.97" height="24.3" fill="#70ff8f"/><rect x="812.11" y="120.5" width="3.97" height="24.3" fill="#75ff8a"/><rect x="815.68" y="120.5" width="3.97" height="24.3" fill="#64ff9b"/><rect x="819.25" y="120.5" width="3.97" height="24.3" fill="#6cff93"/><rect x="822.82" y="120.5" width="3.97" height="24.3" fill="#60ff9f"/><rect x="826.39" y="120.5" width="3.97" height="24.3" fill="#5affa5"/><rect x="829.95" y="120.5" width="3.97" height="24.3" fill="#56ffa9"/><rect x="833.52" y="120.5" width="3.97" height="24.3" fill="#55ffaa"/><rect x="837.09" y="120.5" width="3.97" height="24.3" fill="#5affa5"/><rect x="840.66" y="120.5" width="3.97" height="24.3" fill="#50ffaf"/><rect x="844.23" y="120.5" width="7.54" height="24.3" fill="#55ffaa"/><rect x="851.36" y="120.5" width="3.97" height="24.3" fill="#50ffaf"/><rect x="854.93" y="120.5" width="3.97" height="24.3" fill="#51ffae"/><rect x="858.5" y="120.5" width="3.97" height="24.3" fill="#49ffb6"/><rect x="862.07" y="120.5" width="3.97" height="24.3" fill="#48ffb7"/><rect x="865.64" y="120.5" width="3.97" height="24.3" fill="#49ffb6"/><rect x="869.2" y="120.5" width="3.97" height="24.3" fill="#4fffb0"/><rect x="872.77" y="120.5" width="3.97" height="24.3" fill="#4affb5"/><rect x="876.34" y="120.5" width="3.97" height="24.3" fill="#47ffb8"/><rect x="879.91" y="120.5" width="3.97" height="24.3" fill="#4affb5"/><rect x="883.48" y="120.5" width="3.97" height="24.3" fill="#47ffb8"/><rect x="887.05" y="120.5" width="3.97" height="24.3" fill="#44ffbb"/><rect x="890.61" y="120.5" width="3.97" height="24.3" fill="#4affb5"/><rect x="894.18" y="120.5" width="3.97" height="24.3" fill="#47ffb8"/><rect x="897.75" y="120.5" width="3.97" height="24.3" fill="#40ffbf"/><rect x="901.32" y="120.5" width="3.97" height="24.3" fill="#43ffbc"/><rect x="904.89" y="120.5" width="3.97" height="24.3" fill="#42ffbd"/><rect x="908.45" y="120.5" width="3.97" height="24.3" fill="#45ffba"/><rect x="912.02" y="120.5" width="3.97" height="24.3" fill="#42ffbd"/><rect x="915.59" y="120.5" width="3.97" height="24.3" fill="#3bffc4"/><rect x="919.16" y="120.5" width="3.97" height="24.3" fill="#44ffbb"/><rect x="922.73" y="120.5" width="3.97" height="24.3" fill="#36ffc9"/><rect x="926.3" y="120.5" width="3.97" height="24.3" fill="#3affc5"/><rect x="929.86" y="120.5" width="3.97" height="24.3" fill="#3dffc2"/><rect x="933.43" y="120.5" width="3.97" height="24.3" fill="#34ffcb"/><rect x="937" y="120.5" width="3.97" height="24.3" fill="#39ffc6"/><rect x="940.57" y="120.5" width="3.97" height="24.3" fill="#33ffcc"/><rect x="944.14" y="120.5" width="3.97" height="24.3" fill="#3dffc2"/><rect x="947.7" y="120.5" width="3.97" height="24.3" fill="#40ffbf"/><rect x="951.27" y="120.5" width="3.97" height="24.3" fill="#3effc1"/><rect x="954.84" y="120.5" width="3.97" height="24.3" fill="#44ffbb"/><rect x="958.41" y="120.5" width="3.97" height="24.3" fill="#3dffc2"/><rect x="961.98" y="120.5" width="7.54" height="24.3" fill="#43ffbc"/><rect x="969.11" y="120.5" width="3.97" height="24.3" fill="#44ffbb"/><rect x="972.68" y="120.5" width="3.97" height="24.3" fill="#43ffbc"/><rect x="976.25" y="120.5" width="3.97" height="24.3" fill="#4affb5"/><rect x="979.82" y="120.5" width="3.97" height="24.3" fill="#4cffb3"/><rect x="983.39" y="120.5" width="3.97" height="24.3" fill="#47ffb8"/><rect x="986.95" y="120.5" width="3.97" height="24.3" fill="#4affb5"/><rect x="990.52" y="120.5" width="3.97" height="24.3" fill="#43ffbc"/><rect x="994.09" y="120.5" width="7.54" height="24.3" fill="#4dffb2"/><rect x="1001.23" y="120.5" width="3.97" height="24.3" fill="#53ffac"/><rect x="1004.8" y="120.5" width="3.97" height="24.3" fill="#52ffad"/><rect x="1008.36" y="120.5" width="3.97" height="24.3" fill="#4cffb3"/><rect x="1011.93" y="120.5" width="3.97" height="24.3" fill="#4effb1"/><rect x="1015.5" y="120.5" width="3.97" height="24.3" fill="#53ffac"/><rect x="1019.07" y="120.5" width="3.97" height="24.3" fill="#4bffb4"/><rect x="1022.64" y="120.5" width="3.97" height="24.3" fill="#52ffad"/><rect x="1026.2" y="120.5" width="3.97" height="24.3" fill="#4fffb0"/><rect x="1029.77" y="120.5" width="7.54" height="24.3" fill="#50ffaf"/><rect x="1036.91" y="120.5" width="3.97" height="24.3" fill="#5dffa2"/><rect x="1040.48" y="120.5" width="3.97" height="24.3" fill="#57ffa8"/><rect x="1044.05" y="120.5" width="3.97" height="24.3" fill="#5dffa2"/><rect x="1047.61" y="120.5" width="3.97" height="24.3" fill="#62ff9d"/><rect x="1051.18" y="120.5" width="3.97" height="24.3" fill="#6dff92"/><rect x="1054.75" y="120.5" width="3.97" height="24.3" fill="#65ff9a"/><rect x="1058.32" y="120.5" width="3.97" height="24.3" fill="#6eff91"/><rect x="1061.89" y="120.5" width="3.97" height="24.3" fill="#73ff8c"/><rect x="1065.45" y="120.5" width="3.97" height="24.3" fill="#7cff83"/><rect x="1069.02" y="120.5" width="3.97" height="24.3" fill="#7eff81"/><rect x="1072.59" y="120.5" width="3.97" height="24.3" fill="#83ff7c"/><rect x="1076.16" y="120.5" width="3.97" height="24.3" fill="#7eff81"/><rect x="1079.73" y="120.5" width="3.97" height="24.3" fill="#83ff7c"/><rect x="1083.3" y="120.5" width="3.97" height="24.3" fill="#86ff79"/><rect x="1086.86" y="120.5" width="3.97" height="24.3" fill="#90ff6f"/><rect x="1090.43" y="120.5" width="3.97" height="24.3" fill="#92ff6d"/><rect x="1094" y="120.5" width="3.97" height="24.3" fill="#87ff78"/><rect x="1097.57" y="120.5" width="3.97" height="24.3" fill="#88ff77"/><rect x="1101.14" y="120.5" width="7.54" height="24.3" fill="#8aff75"/><rect x="1108.27" y="120.5" width="3.97" height="24.3" fill="#8fff70"/><rect x="1111.84" y="120.5" width="3.97" height="24.3" fill="#91ff6e"/><rect x="1115.41" y="120.5" width="3.97" height="24.3" fill="#8dff72"/><rect x="1118.98" y="120.5" width="3.97" height="24.3" fill="#8aff75"/><rect x="1122.55" y="120.5" width="7.54" height="24.3" fill="#91ff6e"/><rect x="1129.68" y="120.5" width="3.97" height="24.3" fill="#95ff6a"/><rect x="740.75" y="96.6" width="3.97" height="24.3" fill="#90ff6f"/><rect x="744.32" y="96.6" width="3.97" height="24.3" fill="#8cff73"/><rect x="747.89" y="96.6" width="3.97" height="24.3" fill="#92ff6d"/><rect x="751.45" y="96.6" width="3.97" height="24.3" fill="#88ff77"/><rect x="755.02" y="96.6" width="3.97" height="24.3" fill="#8dff72"/><rect x="758.59" y="96.6" width="3.97" height="24.3" fill="#89ff76"/><rect x="762.16" y="96.6" width="3.97" height="24.3" fill="#83ff7c"/><rect x="765.73" y="96.6" width="3.97" height="24.3" fill="#88ff77"/><rect x="769.3" y="96.6" width="3.97" height="24.3" fill="#80ff7f"/><rect x="772.86" y="96.6" width="3.97" height="24.3" fill="#84ff7b"/><rect x="776.43" y="96.6" width="3.97" height="24.3" fill="#7dff82"/><rect x="780" y="96.6" width="3.97" height="24.3" fill="#7cff83"/><rect x="783.57" y="96.6" width="3.97" height="24.3" fill="#7fff80"/><rect x="787.14" y="96.6" width="3.97" height="24.3" fill="#81ff7e"/><rect x="790.7" y="96.6" width="3.97" height="24.3" fill="#73ff8c"/><rect x="794.27" y="96.6" width="3.97" height="24.3" fill="#70ff8f"/><rect x="797.84" y="96.6" width="7.54" height="24.3" fill="#71ff8e"/><rect x="804.98" y="96.6" width="3.97" height="24.3" fill="#68ff97"/><rect x="808.55" y="96.6" width="3.97" height="24.3" fill="#61ff9e"/><rect x="812.11" y="96.6" width="3.97" height="24.3" fill="#65ff9a"/><rect x="815.68" y="96.6" width="3.97" height="24.3" fill="#53ffac"/><rect x="819.25" y="96.6" width="3.97" height="24.3" fill="#5affa5"/><rect x="822.82" y="96.6" width="3.97" height="24.3" fill="#4effb1"/><rect x="826.39" y="96.6" width="3.97" height="24.3" fill="#47ffb8"/><rect x="829.95" y="96.6" width="3.97" height="24.3" fill="#43ffbc"/><rect x="833.52" y="96.6" width="3.97" height="24.3" fill="#41ffbe"/><rect x="837.09" y="96.6" width="3.97" height="24.3" fill="#46ffb9"/><rect x="840.66" y="96.6" width="3.97" height="24.3" fill="#3cffc3"/><rect x="844.23" y="96.6" width="7.54" height="24.3" fill="#41ffbe"/><rect x="851.36" y="96.6" width="3.97" height="24.3" fill="#3cffc3"/><rect x="854.93" y="96.6" width="3.97" height="24.3" fill="#3effc1"/><rect x="858.5" y="96.6" width="3.97" height="24.3" fill="#36ffc9"/><rect x="862.07" y="96.6" width="3.97" height="24.3" fill="#35ffca"/><rect x="865.64" y="96.6" width="3.97" height="24.3" fill="#36ffc9"/><rect x="869.2" y="96.6" width="3.97" height="24.3" fill="#3cffc3"/><rect x="872.77" y="96.6" width="3.97" height="24.3" fill="#38ffc7"/><rect x="876.34" y="96.6" width="3.97" height="24.3" fill="#35ffca"/><rect x="879.91" y="96.6" width="3.97" height="24.3" fill="#38ffc7"/><rect x="883.48" y="96.6" width="3.97" height="24.3" fill="#35ffca"/><rect x="887.05" y="96.6" width="3.97" height="24.3" fill="#32ffcd"/><rect x="890.61" y="96.6" width="3.97" height="24.3" fill="#38ffc7"/><rect x="894.18" y="96.6" width="3.97" height="24.3" fill="#36ffc9"/><rect x="897.75" y="96.6" width="3.97" height="24.3" fill="#2fffd0"/><rect x="901.32" y="96.6" width="3.97" height="24.3" fill="#32ffcd"/><rect x="904.89" y="96.6" width="3.97" height="24.3" fill="#31ffce"/><rect x="908.45" y="96.6" width="3.97" height="24.3" fill="#35ffca"/><rect x="912.02" y="96.6" width="3.97" height="24.3" fill="#32ffcd"/><rect x="915.59" y="96.6" width="3.97" height="24.3" fill="#2bffd4"/><rect x="919.16" y="96.6" width="3.97" height="24.3" fill="#34ffcb"/><rect x="922.73" y="96.6" width="3.97" height="24.3" fill="#26ffd9"/><rect x="926.3" y="96.6" width="3.97" height="24.3" fill="#2affd5"/><rect x="929.86" y="96.6" width="3.97" height="24.3" fill="#2effd1"/><rect x="933.43" y="96.6" width="3.97" height="24.3" fill="#24ffdb"/><rect x="937" y="96.6" width="3.97" height="24.3" fill="#29ffd6"/><rect x="940.57" y="96.6" width="3.97" height="24.3" fill="#24ffdb"/><rect x="944.14" y="96.6" width="3.97" height="24.3" fill="#2effd1"/><rect x="947.7" y="96.6" width="3.97" height="24.3" fill="#30ffcf"/><rect x="951.27" y="96.6" width="3.97" height="24.3" fill="#2effd1"/><rect x="954.84" y="96.6" width="3.97" height="24.3" fill="#33ffcc"/><rect x="958.41" y="96.6" width="3.97" height="24.3" fill="#2cffd3"/><rect x="961.98" y="96.6" width="3.97" height="24.3" fill="#33ffcc"/><rect x="965.55" y="96.6" width="3.97" height="24.3" fill="#32ffcd"/><rect x="969.11" y="96.6" width="3.97" height="24.3" fill="#33ffcc"/><rect x="972.68" y="96.6" width="3.97" height="24.3" fill="#32ffcd"/><rect x="976.25" y="96.6" width="3.97" height="24.3" fill="#38ffc7"/><rect x="979.82" y="96.6" width="3.97" height="24.3" fill="#3bffc4"/><rect x="983.39" y="96.6" width="3.97" height="24.3" fill="#35ffca"/><rect x="986.95" y="96.6" width="3.97" height="24.3" fill="#38ffc7"/><rect x="990.52" y="96.6" width="3.97" height="24.3" fill="#31ffce"/><rect x="994.09" y="96.6" width="7.54" height="24.3" fill="#3bffc4"/><rect x="1001.23" y="96.6" width="3.97" height="24.3" fill="#41ffbe"/><rect x="1004.8" y="96.6" width="3.97" height="24.3" fill="#3fffc0"/><rect x="1008.36" y="96.6" width="3.97" height="24.3" fill="#39ffc6"/><rect x="1011.93" y="96.6" width="3.97" height="24.3" fill="#3bffc4"/><rect x="1015.5" y="96.6" width="3.97" height="24.3" fill="#40ffbf"/><rect x="1019.07" y="96.6" width="3.97" height="24.3" fill="#37ffc8"/><rect x="1022.64" y="96.6" width="3.97" height="24.3" fill="#3fffc0"/><rect x="1026.2" y="96.6" width="3.97" height="24.3" fill="#3bffc4"/><rect x="1029.77" y="96.6" width="7.54" height="24.3" fill="#3cffc3"/><rect x="1036.91" y="96.6" width="3.97" height="24.3" fill="#49ffb6"/><rect x="1040.48" y="96.6" width="3.97" height="24.3" fill="#44ffbb"/><rect x="1044.05" y="96.6" width="3.97" height="24.3" fill="#4affb5"/><rect x="1047.61" y="96.6" width="3.97" height="24.3" fill="#51ffae"/><rect x="1051.18" y="96.6" width="3.97" height="24.3" fill="#5cffa3"/><rect x="1054.75" y="96.6" width="3.97" height="24.3" fill="#55ffaa"/><rect x="1058.32" y="96.6" width="3.97" height="24.3" fill="#5effa1"/><rect x="1061.89" y="96.6" width="3.97" height="24.3" fill="#64ff9b"/><rect x="1065.45" y="96.6" width="3.97" height="24.3" fill="#6dff92"/><rect x="1069.02" y="96.6" width="3.97" height="24.3" fill="#71ff8e"/><rect x="1072.59" y="96.6" width="3.97" height="24.3" fill="#76ff89"/><rect x="1076.16" y="96.6" width="3.97" height="24.3" fill="#72ff8d"/><rect x="1079.73" y="96.6" width="3.97" height="24.3" fill="#78ff87"/><rect x="1083.3" y="96.6" width="3.97" height="24.3" fill="#7cff83"/><rect x="1086.86" y="96.6" width="3.97" height="24.3" fill="#86ff79"/><rect x="1090.43" y="96.6" width="3.97" height="24.3" fill="#88ff77"/><rect x="1094" y="96.6" width="3.97" height="24.3" fill="#7eff81"/><rect x="1097.57" y="96.6" width="3.97" height="24.3" fill="#7fff80"/><rect x="1101.14" y="96.6" width="3.97" height="24.3" fill="#81ff7e"/><rect x="1104.7" y="96.6" width="3.97" height="24.3" fill="#82ff7d"/><rect x="1108.27" y="96.6" width="3.97" height="24.3" fill="#87ff78"/><rect x="1111.84" y="96.6" width="3.97" height="24.3" fill="#8aff75"/><rect x="1115.41" y="96.6" width="3.97" height="24.3" fill="#86ff79"/><rect x="1118.98" y="96.6" width="3.97" height="24.3" fill="#84ff7b"/><rect x="1122.55" y="96.6" width="7.54" height="24.3" fill="#8bff74"/><rect x="1129.68" y="96.6" width="3.97" height="24.3" fill="#8fff70"/><rect x="740.75" y="72.7" width="3.97" height="24.3" fill="#90ff6f"/><rect x="744.32" y="72.7" width="3.97" height="24.3" fill="#8cff73"/><rect x="747.89" y="72.7" width="3.97" height="24.3" fill="#92ff6d"/><rect x="751.45" y="72.7" width="3.97" height="24.3" fill="#88ff77"/><rect x="755.02" y="72.7" width="3.97" height="24.3" fill="#8dff72"/><rect x="758.59" y="72.7" width="3.97" height="24.3" fill="#89ff76"/><rect x="762.16" y="72.7" width="3.97" height="24.3" fill="#83ff7c"/><rect x="765.73" y="72.7" width="3.97" height="24.3" fill="#88ff77"/><rect x="769.3" y="72.7" width="3.97" height="24.3" fill="#80ff7f"/><rect x="772.86" y="72.7" width="3.97" height="24.3" fill="#84ff7b"/><rect x="776.43" y="72.7" width="3.97" height="24.3" fill="#7dff82"/><rect x="780" y="72.7" width="3.97" height="24.3" fill="#7cff83"/><rect x="783.57" y="72.7" width="3.97" height="24.3" fill="#7fff80"/><rect x="787.14" y="72.7" width="3.97" height="24.3" fill="#82ff7d"/><rect x="790.7" y="72.7" width="3.97" height="24.3" fill="#74ff8b"/><rect x="794.27" y="72.7" width="3.97" height="24.3" fill="#72ff8d"/><rect x="797.84" y="72.7" width="3.97" height="24.3" fill="#74ff8b"/><rect x="801.41" y="72.7" width="3.97" height="24.3" fill="#75ff8a"/><rect x="804.98" y="72.7" width="3.97" height="24.3" fill="#6cff93"/><rect x="808.55" y="72.7" width="3.97" height="24.3" fill="#66ff99"/><rect x="812.11" y="72.7" width="3.97" height="24.3" fill="#6aff95"/><rect x="815.68" y="72.7" width="3.97" height="24.3" fill="#59ffa6"/><rect x="819.25" y="72.7" width="3.97" height="24.3" fill="#61ff9e"/><rect x="822.82" y="72.7" width="3.97" height="24.3" fill="#56ffa9"/><rect x="826.39" y="72.7" width="3.97" height="24.3" fill="#50ffaf"/><rect x="829.95" y="72.7" width="3.97" height="24.3" fill="#4cffb3"/><rect x="833.52" y="72.7" width="3.97" height="24.3" fill="#4bffb4"/><rect x="837.09" y="72.7" width="3.97" height="24.3" fill="#51ffae"/><rect x="840.66" y="72.7" width="3.97" height="24.3" fill="#47ffb8"/><rect x="844.23" y="72.7" width="7.54" height="24.3" fill="#4cffb3"/><rect x="851.36" y="72.7" width="3.97" height="24.3" fill="#47ffb8"/><rect x="854.93" y="72.7" width="3.97" height="24.3" fill="#49ffb6"/><rect x="858.5" y="72.7" width="7.54" height="24.3" fill="#41ffbe"/><rect x="865.64" y="72.7" width="3.97" height="24.3" fill="#42ffbd"/><rect x="869.2" y="72.7" width="3.97" height="24.3" fill="#48ffb7"/><rect x="872.77" y="72.7" width="3.97" height="24.3" fill="#44ffbb"/><rect x="876.34" y="72.7" width="3.97" height="24.3" fill="#41ffbe"/><rect x="879.91" y="72.7" width="3.97" height="24.3" fill="#45ffba"/><rect x="883.48" y="72.7" width="3.97" height="24.3" fill="#42ffbd"/><rect x="887.05" y="72.7" width="3.97" height="24.3" fill="#3fffc0"/><rect x="890.61" y="72.7" width="3.97" height="24.3" fill="#45ffba"/><rect x="894.18" y="72.7" width="3.97" height="24.3" fill="#43ffbc"/><rect x="897.75" y="72.7" width="3.97" height="24.3" fill="#3cffc3"/><rect x="901.32" y="72.7" width="3.97" height="24.3" fill="#40ffbf"/><rect x="904.89" y="72.7" width="3.97" height="24.3" fill="#3fffc0"/><rect x="908.45" y="72.7" width="3.97" height="24.3" fill="#43ffbc"/><rect x="912.02" y="72.7" width="3.97" height="24.3" fill="#40ffbf"/><rect x="915.59" y="72.7" width="3.97" height="24.3" fill="#39ffc6"/><rect x="919.16" y="72.7" width="3.97" height="24.3" fill="#42ffbd"/><rect x="922.73" y="72.7" width="3.97" height="24.3" fill="#35ffca"/><rect x="926.3" y="72.7" width="3.97" height="24.3" fill="#39ffc6"/><rect x="929.86" y="72.7" width="3.97" height="24.3" fill="#3dffc2"/><rect x="933.43" y="72.7" width="3.97" height="24.3" fill="#33ffcc"/><rect x="937" y="72.7" width="3.97" height="24.3" fill="#38ffc7"/><rect x="940.57" y="72.7" width="3.97" height="24.3" fill="#33ffcc"/><rect x="944.14" y="72.7" width="3.97" height="24.3" fill="#3cffc3"/><rect x="947.7" y="72.7" width="3.97" height="24.3" fill="#3fffc0"/><rect x="951.27" y="72.7" width="3.97" height="24.3" fill="#3dffc2"/><rect x="954.84" y="72.7" width="3.97" height="24.3" fill="#42ffbd"/><rect x="958.41" y="72.7" width="3.97" height="24.3" fill="#3affc5"/><rect x="961.98" y="72.7" width="11.1" height="24.3" fill="#40ffbf"/><rect x="972.68" y="72.7" width="3.97" height="24.3" fill="#3fffc0"/><rect x="976.25" y="72.7" width="3.97" height="24.3" fill="#45ffba"/><rect x="979.82" y="72.7" width="3.97" height="24.3" fill="#48ffb7"/><rect x="983.39" y="72.7" width="3.97" height="24.3" fill="#42ffbd"/><rect x="986.95" y="72.7" width="3.97" height="24.3" fill="#45ffba"/><rect x="990.52" y="72.7" width="3.97" height="24.3" fill="#3dffc2"/><rect x="994.09" y="72.7" width="7.54" height="24.3" fill="#47ffb8"/><rect x="1001.23" y="72.7" width="3.97" height="24.3" fill="#4dffb2"/><rect x="1004.8" y="72.7" width="3.97" height="24.3" fill="#4bffb4"/><rect x="1008.36" y="72.7" width="3.97" height="24.3" fill="#44ffbb"/><rect x="1011.93" y="72.7" width="3.97" height="24.3" fill="#46ffb9"/><rect x="1015.5" y="72.7" width="3.97" height="24.3" fill="#4bffb4"/><rect x="1019.07" y="72.7" width="3.97" height="24.3" fill="#42ffbd"/><rect x="1022.64" y="72.7" width="3.97" height="24.3" fill="#49ffb6"/><rect x="1026.2" y="72.7" width="11.1" height="24.3" fill="#46ffb9"/><rect x="1036.91" y="72.7" width="3.97" height="24.3" fill="#53ffac"/><rect x="1040.48" y="72.7" width="3.97" height="24.3" fill="#4dffb2"/><rect x="1044.05" y="72.7" width="3.97" height="24.3" fill="#52ffad"/><rect x="1047.61" y="72.7" width="3.97" height="24.3" fill="#58ffa7"/><rect x="1051.18" y="72.7" width="3.97" height="24.3" fill="#63ff9c"/><rect x="1054.75" y="72.7" width="3.97" height="24.3" fill="#5bffa4"/><rect x="1058.32" y="72.7" width="3.97" height="24.3" fill="#64ff9b"/><rect x="1061.89" y="72.7" width="3.97" height="24.3" fill="#69ff96"/><rect x="1065.45" y="72.7" width="3.97" height="24.3" fill="#71ff8e"/><rect x="1069.02" y="72.7" width="3.97" height="24.3" fill="#74ff8b"/><rect x="1072.59" y="72.7" width="3.97" height="24.3" fill="#78ff87"/><rect x="1076.16" y="72.7" width="3.97" height="24.3" fill="#74ff8b"/><rect x="1079.73" y="72.7" width="3.97" height="24.3" fill="#79ff86"/><rect x="1083.3" y="72.7" width="3.97" height="24.3" fill="#7cff83"/><rect x="1086.86" y="72.7" width="3.97" height="24.3" fill="#86ff79"/><rect x="1090.43" y="72.7" width="3.97" height="24.3" fill="#88ff77"/><rect x="1094" y="72.7" width="3.97" height="24.3" fill="#7eff81"/><rect x="1097.57" y="72.7" width="3.97" height="24.3" fill="#7fff80"/><rect x="1101.14" y="72.7" width="3.97" height="24.3" fill="#81ff7e"/><rect x="1104.7" y="72.7" width="3.97" height="24.3" fill="#82ff7d"/><rect x="1108.27" y="72.7" width="3.97" height="24.3" fill="#87ff78"/><rect x="1111.84" y="72.7" width="3.97" height="24.3" fill="#8aff75"/><rect x="1115.41" y="72.7" width="3.97" height="24.3" fill="#86ff79"/><rect x="1118.98" y="72.7" width="3.97" height="24.3" fill="#84ff7b"/><rect x="1122.55" y="72.7" width="7.54" height="24.3" fill="#8bff74"/><rect x="1129.68" y="72.7" width="3.97" height="24.3" fill="#8fff70"/><rect x="740.75" y="69.5" width="3.97" height="3.6" fill="#90ff6f"/><rect x="744.32" y="69.5" width="3.97" height="3.6" fill="#8cff73"/><rect x="747.89" y="69.5" width="3.97" height="3.6" fill="#92ff6d"/><rect x="751.45" y="69.5" width="3.97" height="3.6" fill="#88ff77"/><rect x="755.02" y="69.5" width="3.97" height="3.6" fill="#8dff72"/><rect x="758.59" y="69.5" width="3.97" height="3.6" fill="#89ff76"/><rect x="762.16" y="69.5" width="3.97" height="3.6" fill="#83ff7c"/><rect x="765.73" y="69.5" width="3.97" height="3.6" fill="#88ff77"/><rect x="769.3" y="69.5" width="3.97" height="3.6" fill="#80ff7f"/><rect x="772.86" y="69.5" width="3.97" height="3.6" fill="#84ff7b"/><rect x="776.43" y="69.5" width="3.97" height="3.6" fill="#7dff82"/><rect x="780" y="69.5" width="3.97" height="3.6" fill="#7cff83"/><rect x="783.57" y="69.5" width="3.97" height="3.6" fill="#7fff80"/><rect x="787.14" y="69.5" width="3.97" height="3.6" fill="#82ff7d"/><rect x="790.7" y="69.5" width="3.97" height="3.6" fill="#74ff8b"/><rect x="794.27" y="69.5" width="3.97" height="3.6" fill="#72ff8d"/><rect x="797.84" y="69.5" width="3.97" height="3.6" fill="#74ff8b"/><rect x="801.41" y="69.5" width="3.97" height="3.6" fill="#75ff8a"/><rect x="804.98" y="69.5" width="3.97" height="3.6" fill="#6cff93"/><rect x="808.55" y="69.5" width="3.97" height="3.6" fill="#66ff99"/><rect x="812.11" y="69.5" width="3.97" height="3.6" fill="#6aff95"/><rect x="815.68" y="69.5" width="3.97" height="3.6" fill="#59ffa6"/><rect x="819.25" y="69.5" width="3.97" height="3.6" fill="#61ff9e"/><rect x="822.82" y="69.5" width="3.97" height="3.6" fill="#56ffa9"/><rect x="826.39" y="69.5" width="3.97" height="3.6" fill="#50ffaf"/><rect x="829.95" y="69.5" width="3.97" height="3.6" fill="#4cffb3"/><rect x="833.52" y="69.5" width="3.97" height="3.6" fill="#4bffb4"/><rect x="837.09" y="69.5" width="3.97" height="3.6" fill="#51ffae"/><rect x="840.66" y="69.5" width="3.97" height="3.6" fill="#47ffb8"/><rect x="844.23" y="69.5" width="7.54" height="3.6" fill="#4cffb3"/><rect x="851.36" y="69.5" width="3.97" height="3.6" fill="#47ffb8"/><rect x="854.93" y="69.5" width="3.97" height="3.6" fill="#49ffb6"/><rect x="858.5" y="69.5" width="7.54" height="3.6" fill="#41ffbe"/><rect x="865.64" y="69.5" width="3.97" height="3.6" fill="#42ffbd"/><rect x="869.2" y="69.5" width="3.97" height="3.6" fill="#48ffb7"/><rect x="872.77" y="69.5" width="3.97" height="3.6" fill="#44ffbb"/><rect x="876.34" y="69.5" width="3.97" height="3.6" fill="#41ffbe"/><rect x="879.91" y="69.5" width="3.97" height="3.6" fill="#45ffba"/><rect x="883.48" y="69.5" width="3.97" height="3.6" fill="#42ffbd"/><rect x="887.05" y="69.5" width="3.97" height="3.6" fill="#3fffc0"/><rect x="890.61" y="69.5" width="3.97" height="3.6" fill="#45ffba"/><rect x="894.18" y="69.5" width="3.97" height="3.6" fill="#43ffbc"/><rect x="897.75" y="69.5" width="3.97" height="3.6" fill="#3cffc3"/><rect x="901.32" y="69.5" width="3.97" height="3.6" fill="#40ffbf"/><rect x="904.89" y="69.5" width="3.97" height="3.6" fill="#3fffc0"/><rect x="908.45" y="69.5" width="3.97" height="3.6" fill="#43ffbc"/><rect x="912.02" y="69.5" width="3.97" height="3.6" fill="#40ffbf"/><rect x="915.59" y="69.5" width="3.97" height="3.6" fill="#39ffc6"/><rect x="919.16" y="69.5" width="3.97" height="3.6" fill="#42ffbd"/><rect x="922.73" y="69.5" width="3.97" height="3.6" fill="#35ffca"/><rect x="926.3" y="69.5" width="3.97" height="3.6" fill="#39ffc6"/><rect x="929.86" y="69.5" width="3.97" height="3.6" fill="#3dffc2"/><rect x="933.43" y="69.5" width="3.97" height="3.6" fill="#33ffcc"/><rect x="937" y="69.5" width="3.97" height="3.6" fill="#38ffc7"/><rect x="940.57" y="69.5" width="3.97" height="3.6" fill="#33ffcc"/><rect x="944.14" y="69.5" width="3.97" height="3.6" fill="#3cffc3"/><rect x="947.7" y="69.5" width="3.97" height="3.6" fill="#3fffc0"/><rect x="951.27" y="69.5" width="3.97" height="3.6" fill="#3dffc2"/><rect x="954.84" y="69.5" width="3.97" height="3.6" fill="#42ffbd"/><rect x="958.41" y="69.5" width="3.97" height="3.6" fill="#3affc5"/><rect x="961.98" y="69.5" width="11.1" height="3.6" fill="#40ffbf"/><rect x="972.68" y="69.5" width="3.97" height="3.6" fill="#3fffc0"/><rect x="976.25" y="69.5" width="3.97" height="3.6" fill="#45ffba"/><rect x="979.82" y="69.5" width="3.97" height="3.6" fill="#48ffb7"/><rect x="983.39" y="69.5" width="3.97" height="3.6" fill="#42ffbd"/><rect x="986.95" y="69.5" width="3.97" height="3.6" fill="#45ffba"/><rect x="990.52" y="69.5" width="3.97" height="3.6" fill="#3dffc2"/><rect x="994.09" y="69.5" width="7.54" height="3.6" fill="#47ffb8"/><rect x="1001.23" y="69.5" width="3.97" height="3.6" fill="#4dffb2"/><rect x="1004.8" y="69.5" width="3.97" height="3.6" fill="#4bffb4"/><rect x="1008.36" y="69.5" width="3.97" height="3.6" fill="#44ffbb"/><rect x="1011.93" y="69.5" width="3.97" height="3.6" fill="#46ffb9"/><rect x="1015.5" y="69.5" width="3.97" height="3.6" fill="#4bffb4"/><rect x="1019.07" y="69.5" width="3.97" height="3.6" fill="#42ffbd"/><rect x="1022.64" y="69.5" width="3.97" height="3.6" fill="#49ffb6"/><rect x="1026.2" y="69.5" width="11.1" height="3.6" fill="#46ffb9"/><rect x="1036.91" y="69.5" width="3.97" height="3.6" fill="#53ffac"/><rect x="1040.48" y="69.5" width="3.97" height="3.6" fill="#4dffb2"/><rect x="1044.05" y="69.5" width="3.97" height="3.6" fill="#52ffad"/><rect x="1047.61" y="69.5" width="3.97" height="3.6" fill="#58ffa7"/><rect x="1051.18" y="69.5" width="3.97" height="3.6" fill="#63ff9c"/><rect x="1054.75" y="69.5" width="3.97" height="3.6" fill="#5bffa4"/><rect x="1058.32" y="69.5" width="3.97" height="3.6" fill="#64ff9b"/><rect x="1061.89" y="69.5" width="3.97" height="3.6" fill="#69ff96"/><rect x="1065.45" y="69.5" width="3.97" height="3.6" fill="#71ff8e"/><rect x="1069.02" y="69.5" width="3.97" height="3.6" fill="#74ff8b"/><rect x="1072.59" y="69.5" width="3.97" height="3.6" fill="#78ff87"/><rect x="1076.16" y="69.5" width="3.97" height="3.6" fill="#74ff8b"/><rect x="1079.73" y="69.5" width="3.97" height="3.6" fill="#79ff86"/><rect x="1083.3" y="69.5" width="3.97" height="3.6" fill="#7cff83"/><rect x="1086.86" y="69.5" width="3.97" height="3.6" fill="#86ff79"/><rect x="1090.43" y="69.5" width="3.97" height="3.6" fill="#88ff77"/><rect x="1094" y="69.5" width="3.97" height="3.6" fill="#7eff81"/><rect x="1097.57" y="69.5" width="3.97" height="3.6" fill="#7fff80"/><rect x="1101.14" y="69.5" width="3.97" height="3.6" fill="#81ff7e"/><rect x="1104.7" y="69.5" width="3.97" height="3.6" fill="#82ff7d"/><rect x="1108.27" y="69.5" width="3.97" height="3.6" fill="#87ff78"/><rect x="1111.84" y="69.5" width="3.97" height="3.6" fill="#8aff75"/><rect x="1115.41" y="69.5" width="3.97" height="3.6" fill="#86ff79"/><rect x="1118.98" y="69.5" width="3.97" height="3.6" fill="#84ff7b"/><rect x="1122.55" y="69.5" width="7.54" height="3.6" fill="#8bff74"/><rect x="1129.68" y="69.5" width="3.97" height="3.6" fill="#8fff70"/></g><rect x="740.75" y="69.5" width="392.5" height="230.25" fill="none" stroke="#262626" stroke-width="1.6"/>
<path d="M824.5 299.75v-4.5 M824.5 69.5v4.5 M936.5 299.75v-4.5 M936.5 69.5v4.5 M1048.75 299.75v-4.5 M1048.75 69.5v4.5 M740.75 185h4.5 M1133.25 185h-4.5 " stroke="#262626" stroke-width="1.3" fill="none"/>
<text transform="translate(948 54) scale(1.09 1)" font-family="'Liberation Serif','DejaVu Serif',serif" font-size="33" text-anchor="middle" fill="#000" xml:space="preserve" textLength="162.39" lengthAdjust="spacing"><tspan font-style="italic" >ω</tspan><tspan font-style="italic" font-size="23.1" dy="6.6">p</tspan><tspan font-style="italic" dy="-6.6">t</tspan> = 2500</text>
<text transform="translate(1090 53) scale(1.09 1)" font-family="'Liberation Serif','DejaVu Serif',serif" font-size="52" text-anchor="start" fill="#000" font-weight="bold">d)</text>
<text transform="translate(824.5 342.5) scale(1.09 1)" font-family="'Liberation Serif','DejaVu Serif',serif" font-size="44" text-anchor="middle" fill="#000" >-0.2</text><text transform="translate(936.5 342.5) scale(1.09 1)" font-family="'Liberation Serif','DejaVu Serif',serif" font-size="44" text-anchor="middle" fill="#000" >0</text><text transform="translate(1048.75 342.5) scale(1.09 1)" font-family="'Liberation Serif','DejaVu Serif',serif" font-size="44" text-anchor="middle" fill="#000" >0.2</text>
<text transform="translate(727.5 91.5) scale(1.12 1)" font-family="'Liberation Serif','DejaVu Serif',serif" font-size="34" text-anchor="end" fill="#000" stroke="#000" stroke-width="0.5">2.33</text>
<text transform="translate(729 199) scale(1.12 1)" font-family="'Liberation Serif','DejaVu Serif',serif" font-size="34" text-anchor="end" fill="#000" stroke="#000" stroke-width="0.5">1.17</text>
<text transform="translate(722 315.5) scale(1.09 1)" font-family="'Liberation Serif','DejaVu Serif',serif" font-size="41" text-anchor="end" fill="#000" >0</text>
<text transform="translate(721 57.5) scale(1.09 1)" font-family="'Liberation Serif','DejaVu Serif',serif" font-size="39" text-anchor="start" fill="#000" >×10<tspan font-size="28" dy="-15">−2</tspan></text>
<g transform="translate(655.5 182.5) rotate(-90)"><text transform="translate(0 0) scale(1 1.09)" font-family="'Liberation Serif','DejaVu Serif',serif" font-size="34" text-anchor="middle" fill="#000" textLength="76" lengthAdjust="spacing"><tspan font-style="italic" >ω</tspan>/<tspan font-style="italic" >ω</tspan><tspan font-style="italic" font-size="23.8" dy="6.8">p</tspan></text></g>
<rect x="813.25" y="110" width="55.75" height="46" fill="#fff"/><text transform="translate(815.45 141) scale(1.2 1)" font-family="'DejaVu Math TeX Gyre','DejaVu Sans','Liberation Serif',serif" font-size="25" fill="#000" stroke="#000" stroke-width="0.45">𝒮</text><text transform="translate(838.75 143) scale(1 1)" font-family="'Liberation Serif','DejaVu Serif',serif" font-size="26" text-anchor="start" fill="#000" >″</text><text transform="translate(836.75 148) scale(1 1)" font-family="'Liberation Serif','DejaVu Serif',serif" font-size="20" text-anchor="start" fill="#000" textLength="28.5" lengthAdjust="spacingAndGlyphs"><tspan font-style="italic" >qm</tspan></text>
<rect x="1013.25" y="107" width="58" height="45" fill="#fff"/><text transform="translate(1015.45 138) scale(1.2 1)" font-family="'DejaVu Math TeX Gyre','DejaVu Sans','Liberation Serif',serif" font-size="25" fill="#000" stroke="#000" stroke-width="0.45">𝒮</text><text transform="translate(1038.75 140) scale(1 1)" font-family="'Liberation Serif','DejaVu Serif',serif" font-size="26" text-anchor="start" fill="#000" >′</text><text transform="translate(1036.75 145) scale(1 1)" font-family="'Liberation Serif','DejaVu Serif',serif" font-size="20" text-anchor="start" fill="#000" textLength="28.5" lengthAdjust="spacingAndGlyphs"><tspan font-style="italic" >qm</tspan></text>
<rect x="1153.75" y="70.75" width="17" height="228.5" fill="url(#jetv)" stroke="#262626" stroke-width="1.6"/><path d="M1170.75 90h-4 M1170.75 128h-4 M1170.75 165.75h-4 M1170.75 203.75h-4 M1170.75 242h-4 M1170.75 280h-4 " stroke="#262626" stroke-width="1.2"/><rect x="1154.95" y="296.65" width="14.6" height="1.6" fill="#fff"/><text transform="translate(1182 82.65) scale(1 1)" font-family="'Liberation Serif','DejaVu Serif',serif" font-size="34" text-anchor="start" fill="#000" >1.2</text><text transform="translate(1181 172.65) scale(1 1)" font-family="'Liberation Serif','DejaVu Serif',serif" font-size="34" text-anchor="start" fill="#000" >0.8</text><text transform="translate(1186 247.15) scale(1 1)" font-family="'Liberation Serif','DejaVu Serif',serif" font-size="34" text-anchor="start" fill="#000" >0.4</text>
<g shape-rendering="crispEdges"><rect x="733.75" y="632.25" width="3.97" height="12.65" fill="#9dff62"/><rect x="737.32" y="632.25" width="3.97" height="12.65" fill="#9cff63"/><rect x="740.9" y="632.25" width="3.97" height="12.65" fill="#a6ff59"/><rect x="744.47" y="632.25" width="3.97" height="12.65" fill="#9fff60"/><rect x="748.04" y="632.25" width="7.55" height="12.65" fill="#a8ff57"/><rect x="755.19" y="632.25" width="3.97" height="12.65" fill="#a5ff5a"/><rect x="758.76" y="632.25" width="3.97" height="12.65" fill="#aeff51"/><rect x="762.33" y="632.25" width="3.97" height="12.65" fill="#a9ff56"/><rect x="765.9" y="632.25" width="3.97" height="12.65" fill="#b1ff4e"/><rect x="769.48" y="632.25" width="3.97" height="12.65" fill="#aeff51"/><rect x="773.05" y="632.25" width="3.97" height="12.65" fill="#b0ff4f"/><rect x="776.62" y="632.25" width="3.97" height="12.65" fill="#b7ff48"/><rect x="780.2" y="632.25" width="3.97" height="12.65" fill="#bfff40"/><rect x="783.77" y="632.25" width="3.97" height="12.65" fill="#b7ff48"/><rect x="787.34" y="632.25" width="3.97" height="12.65" fill="#baff45"/><rect x="790.91" y="632.25" width="3.97" height="12.65" fill="#c2ff3d"/><rect x="794.49" y="632.25" width="3.97" height="12.65" fill="#c9ff36"/><rect x="798.06" y="632.25" width="7.55" height="12.65" fill="#c5ff3a"/><rect x="805.2" y="632.25" width="3.97" height="12.65" fill="#e7ff18"/><rect x="808.78" y="632.25" width="3.97" height="12.65" fill="#feff01"/><rect x="812.35" y="632.25" width="3.97" height="12.65" fill="#ffd800"/><rect x="815.92" y="632.25" width="3.97" height="12.65" fill="#ffc400"/><rect x="819.5" y="632.25" width="3.97" height="12.65" fill="#ffb600"/><rect x="823.07" y="632.25" width="3.97" height="12.65" fill="#ffb200"/><rect x="826.64" y="632.25" width="3.97" height="12.65" fill="#ffac00"/><rect x="830.21" y="632.25" width="3.97" height="12.65" fill="#ffa100"/><rect x="833.79" y="632.25" width="3.97" height="12.65" fill="#ffa700"/><rect x="837.36" y="632.25" width="7.55" height="12.65" fill="#ff9d00"/><rect x="844.5" y="632.25" width="3.97" height="12.65" fill="#ffa200"/><rect x="848.08" y="632.25" width="3.97" height="12.65" fill="#ffa100"/><rect x="851.65" y="632.25" width="3.97" height="12.65" fill="#ffa900"/><rect x="855.22" y="632.25" width="3.97" height="12.65" fill="#ffaa00"/><rect x="858.8" y="632.25" width="3.97" height="12.65" fill="#ffa900"/><rect x="862.37" y="632.25" width="3.97" height="12.65" fill="#ffa400"/><rect x="865.94" y="632.25" width="3.97" height="12.65" fill="#ffa900"/><rect x="869.51" y="632.25" width="3.97" height="12.65" fill="#ffa800"/><rect x="873.09" y="632.25" width="3.97" height="12.65" fill="#ff9e00"/><rect x="876.66" y="632.25" width="3.97" height="12.65" fill="#ff9a00"/><rect x="880.23" y="632.25" width="3.97" height="12.65" fill="#ff9600"/><rect x="883.8" y="632.25" width="3.97" height="12.65" fill="#ff8900"/><rect x="887.38" y="632.25" width="7.55" height="12.65" fill="#ff8400"/><rect x="894.52" y="632.25" width="3.97" height="12.65" fill="#ff7a00"/><rect x="898.1" y="632.25" width="3.97" height="12.65" fill="#ff7300"/><rect x="901.67" y="632.25" width="3.97" height="12.65" fill="#ff5c00"/><rect x="905.24" y="632.25" width="3.97" height="12.65" fill="#ff4c00"/><rect x="908.81" y="632.25" width="3.97" height="12.65" fill="#ff4000"/><rect x="912.39" y="632.25" width="3.97" height="12.65" fill="#ff2400"/><rect x="915.96" y="632.25" width="3.97" height="12.65" fill="#ae0000"/><rect x="919.53" y="632.25" width="21.84" height="12.65" fill="#800000"/><rect x="940.97" y="632.25" width="3.97" height="12.65" fill="#e70000"/><rect x="944.54" y="632.25" width="3.97" height="12.65" fill="#ff2300"/><rect x="948.11" y="632.25" width="3.97" height="12.65" fill="#ff3900"/><rect x="951.69" y="632.25" width="3.97" height="12.65" fill="#ff5c00"/><rect x="955.26" y="632.25" width="3.97" height="12.65" fill="#ff6400"/><rect x="958.83" y="632.25" width="3.97" height="12.65" fill="#ff6f00"/><rect x="962.4" y="632.25" width="3.97" height="12.65" fill="#ff7700"/><rect x="965.98" y="632.25" width="3.97" height="12.65" fill="#ff8200"/><rect x="969.55" y="632.25" width="3.97" height="12.65" fill="#ff8500"/><rect x="973.12" y="632.25" width="3.97" height="12.65" fill="#ff8d00"/><rect x="976.7" y="632.25" width="3.97" height="12.65" fill="#ff9c00"/><rect x="980.27" y="632.25" width="3.97" height="12.65" fill="#ffa200"/><rect x="983.84" y="632.25" width="7.55" height="12.65" fill="#ffb400"/><rect x="990.99" y="632.25" width="3.97" height="12.65" fill="#ffbe00"/><rect x="994.56" y="632.25" width="3.97" height="12.65" fill="#ffc200"/><rect x="998.13" y="632.25" width="3.97" height="12.65" fill="#ffce00"/><rect x="1001.7" y="632.25" width="3.97" height="12.65" fill="#ffde00"/><rect x="1005.28" y="632.25" width="3.97" height="12.65" fill="#ffb900"/><rect x="1008.85" y="632.25" width="3.97" height="12.65" fill="#ffb000"/><rect x="1012.42" y="632.25" width="3.97" height="12.65" fill="#ffb900"/><rect x="1016" y="632.25" width="3.97" height="12.65" fill="#ffb300"/><rect x="1019.57" y="632.25" width="3.97" height="12.65" fill="#ffb700"/><rect x="1023.14" y="632.25" width="3.97" height="12.65" fill="#ffb800"/><rect x="1026.71" y="632.25" width="3.97" height="12.65" fill="#ffb900"/><rect x="1030.29" y="632.25" width="3.97" height="12.65" fill="#ffaf00"/><rect x="1033.86" y="632.25" width="3.97" height="12.65" fill="#ffb800"/><rect x="1037.43" y="632.25" width="3.97" height="12.65" fill="#ffb600"/><rect x="1041" y="632.25" width="3.97" height="12.65" fill="#ffdb00"/><rect x="1044.58" y="632.25" width="3.97" height="12.65" fill="#fff600"/><rect x="1048.15" y="632.25" width="3.97" height="12.65" fill="#f6ff09"/><rect x="1051.72" y="632.25" width="3.97" height="12.65" fill="#f5ff0a"/><rect x="1055.3" y="632.25" width="3.97" height="12.65" fill="#f0ff0f"/><rect x="1058.87" y="632.25" width="3.97" height="12.65" fill="#eeff11"/><rect x="1062.44" y="632.25" width="3.97" height="12.65" fill="#e7ff18"/><rect x="1066.01" y="632.25" width="3.97" height="12.65" fill="#e1ff1e"/><rect x="1069.59" y="632.25" width="3.97" height="12.65" fill="#d2ff2d"/><rect x="1073.16" y="632.25" width="3.97" height="12.65" fill="#ceff31"/><rect x="1076.73" y="632.25" width="3.97" height="12.65" fill="#c7ff38"/><rect x="1080.3" y="632.25" width="3.97" height="12.65" fill="#caff35"/><rect x="1083.88" y="632.25" width="3.97" height="12.65" fill="#c8ff37"/><rect x="1087.45" y="632.25" width="3.97" height="12.65" fill="#b9ff46"/><rect x="1091.02" y="632.25" width="3.97" height="12.65" fill="#b6ff49"/><rect x="1094.6" y="632.25" width="3.97" height="12.65" fill="#b4ff4b"/><rect x="1098.17" y="632.25" width="7.55" height="12.65" fill="#b1ff4e"/><rect x="1105.31" y="632.25" width="3.97" height="12.65" fill="#b0ff4f"/><rect x="1108.89" y="632.25" width="3.97" height="12.65" fill="#a8ff57"/><rect x="1112.46" y="632.25" width="3.97" height="12.65" fill="#a1ff5e"/><rect x="1116.03" y="632.25" width="3.97" height="12.65" fill="#a4ff5b"/><rect x="1119.6" y="632.25" width="7.55" height="12.65" fill="#a0ff5f"/><rect x="733.75" y="607.75" width="3.97" height="24.9" fill="#9dff62"/><rect x="737.32" y="607.75" width="3.97" height="24.9" fill="#9cff63"/><rect x="740.9" y="607.75" width="3.97" height="24.9" fill="#a6ff59"/><rect x="744.47" y="607.75" width="3.97" height="24.9" fill="#9fff60"/><rect x="748.04" y="607.75" width="7.55" height="24.9" fill="#a8ff57"/><rect x="755.19" y="607.75" width="3.97" height="24.9" fill="#a5ff5a"/><rect x="758.76" y="607.75" width="3.97" height="24.9" fill="#aeff51"/><rect x="762.33" y="607.75" width="3.97" height="24.9" fill="#a9ff56"/><rect x="765.9" y="607.75" width="3.97" height="24.9" fill="#b1ff4e"/><rect x="769.48" y="607.75" width="3.97" height="24.9" fill="#aeff51"/><rect x="773.05" y="607.75" width="3.97" height="24.9" fill="#b0ff4f"/><rect x="776.62" y="607.75" width="3.97" height="24.9" fill="#b7ff48"/><rect x="780.2" y="607.75" width="3.97" height="24.9" fill="#bfff40"/><rect x="783.77" y="607.75" width="3.97" height="24.9" fill="#b7ff48"/><rect x="787.34" y="607.75" width="3.97" height="24.9" fill="#baff45"/><rect x="790.91" y="607.75" width="3.97" height="24.9" fill="#c2ff3d"/><rect x="794.49" y="607.75" width="3.97" height="24.9" fill="#c9ff36"/><rect x="798.06" y="607.75" width="7.55" height="24.9" fill="#c5ff3a"/><rect x="805.2" y="607.75" width="3.97" height="24.9" fill="#d7ff28"/><rect x="808.78" y="607.75" width="3.97" height="24.9" fill="#d6ff29"/><rect x="812.35" y="607.75" width="3.97" height="24.9" fill="#efff10"/><rect x="815.92" y="607.75" width="3.97" height="24.9" fill="#f3ff0c"/><rect x="819.5" y="607.75" width="3.97" height="24.9" fill="#feff01"/><rect x="823.07" y="607.75" width="3.97" height="24.9" fill="#fffd00"/><rect x="826.64" y="607.75" width="3.97" height="24.9" fill="#fff900"/><rect x="830.21" y="607.75" width="3.97" height="24.9" fill="#fff000"/><rect x="833.79" y="607.75" width="3.97" height="24.9" fill="#fff700"/><rect x="837.36" y="607.75" width="3.97" height="24.9" fill="#ffef00"/><rect x="840.93" y="607.75" width="3.97" height="24.9" fill="#ffec00"/><rect x="844.5" y="607.75" width="3.97" height="24.9" fill="#ffee00"/><rect x="848.08" y="607.75" width="3.97" height="24.9" fill="#ffe900"/><rect x="851.65" y="607.75" width="3.97" height="24.9" fill="#ffee00"/><rect x="855.22" y="607.75" width="3.97" height="24.9" fill="#ffed00"/><rect x="858.8" y="607.75" width="3.97" height="24.9" fill="#ffe800"/><rect x="862.37" y="607.75" width="3.97" height="24.9" fill="#ffe000"/><rect x="865.94" y="607.75" width="3.97" height="24.9" fill="#ffdf00"/><rect x="869.51" y="607.75" width="3.97" height="24.9" fill="#ffc100"/><rect x="873.09" y="607.75" width="3.97" height="24.9" fill="#ffb500"/><rect x="876.66" y="607.75" width="3.97" height="24.9" fill="#ffb100"/><rect x="880.23" y="607.75" width="3.97" height="24.9" fill="#ffac00"/><rect x="883.8" y="607.75" width="3.97" height="24.9" fill="#ff9f00"/><rect x="887.38" y="607.75" width="7.55" height="24.9" fill="#ff9a00"/><rect x="894.52" y="607.75" width="3.97" height="24.9" fill="#ff8e00"/><rect x="898.1" y="607.75" width="3.97" height="24.9" fill="#ff8900"/><rect x="901.67" y="607.75" width="3.97" height="24.9" fill="#ff7d00"/><rect x="905.24" y="607.75" width="7.55" height="24.9" fill="#ff7900"/><rect x="912.39" y="607.75" width="3.97" height="24.9" fill="#ff6800"/><rect x="915.96" y="607.75" width="3.97" height="24.9" fill="#dd0000"/><rect x="919.53" y="607.75" width="21.84" height="24.9" fill="#800000"/><rect x="940.97" y="607.75" width="3.97" height="24.9" fill="#ff5e00"/><rect x="944.54" y="607.75" width="3.97" height="24.9" fill="#ff6d00"/><rect x="948.11" y="607.75" width="3.97" height="24.9" fill="#ff7500"/><rect x="951.69" y="607.75" width="3.97" height="24.9" fill="#ff8900"/><rect x="955.26" y="607.75" width="3.97" height="24.9" fill="#ff8d00"/><rect x="958.83" y="607.75" width="3.97" height="24.9" fill="#ff9800"/><rect x="962.4" y="607.75" width="3.97" height="24.9" fill="#ffa100"/><rect x="965.98" y="607.75" width="3.97" height="24.9" fill="#ffac00"/><rect x="969.55" y="607.75" width="3.97" height="24.9" fill="#ffb000"/><rect x="973.12" y="607.75" width="3.97" height="24.9" fill="#ffb700"/><rect x="976.7" y="607.75" width="3.97" height="24.9" fill="#ffc400"/><rect x="980.27" y="607.75" width="3.97" height="24.9" fill="#ffc700"/><rect x="983.84" y="607.75" width="3.97" height="24.9" fill="#ffd500"/><rect x="987.41" y="607.75" width="3.97" height="24.9" fill="#ffd200"/><rect x="990.99" y="607.75" width="3.97" height="24.9" fill="#ffd800"/><rect x="994.56" y="607.75" width="3.97" height="24.9" fill="#ffd900"/><rect x="998.13" y="607.75" width="3.97" height="24.9" fill="#ffe000"/><rect x="1001.7" y="607.75" width="3.97" height="24.9" fill="#ffe300"/><rect x="1005.28" y="607.75" width="3.97" height="24.9" fill="#ffdd00"/><rect x="1008.85" y="607.75" width="3.97" height="24.9" fill="#ff8e00"/><rect x="1012.42" y="607.75" width="3.97" height="24.9" fill="#ff5000"/><rect x="1016" y="607.75" width="3.97" height="24.9" fill="#ff3900"/><rect x="1019.57" y="607.75" width="3.97" height="24.9" fill="#ff2d00"/><rect x="1023.14" y="607.75" width="3.97" height="24.9" fill="#ff2000"/><rect x="1026.71" y="607.75" width="3.97" height="24.9" fill="#ff2d00"/><rect x="1030.29" y="607.75" width="3.97" height="24.9" fill="#ff2f00"/><rect x="1033.86" y="607.75" width="3.97" height="24.9" fill="#ff4500"/><rect x="1037.43" y="607.75" width="3.97" height="24.9" fill="#ff4f00"/><rect x="1041" y="607.75" width="3.97" height="24.9" fill="#ff9c00"/><rect x="1044.58" y="607.75" width="3.97" height="24.9" fill="#ffdc00"/><rect x="1048.15" y="607.75" width="3.97" height="24.9" fill="#ffff00"/><rect x="1051.72" y="607.75" width="3.97" height="24.9" fill="#ecff13"/><rect x="1055.3" y="607.75" width="7.55" height="24.9" fill="#e3ff1c"/><rect x="1062.44" y="607.75" width="3.97" height="24.9" fill="#deff21"/><rect x="1066.01" y="607.75" width="3.97" height="24.9" fill="#daff25"/><rect x="1069.59" y="607.75" width="3.97" height="24.9" fill="#ceff31"/><rect x="1073.16" y="607.75" width="3.97" height="24.9" fill="#cbff34"/><rect x="1076.73" y="607.75" width="3.97" height="24.9" fill="#c6ff39"/><rect x="1080.3" y="607.75" width="3.97" height="24.9" fill="#caff35"/><rect x="1083.88" y="607.75" width="3.97" height="24.9" fill="#c8ff37"/><rect x="1087.45" y="607.75" width="3.97" height="24.9" fill="#b9ff46"/><rect x="1091.02" y="607.75" width="3.97" height="24.9" fill="#b6ff49"/><rect x="1094.6" y="607.75" width="3.97" height="24.9" fill="#b4ff4b"/><rect x="1098.17" y="607.75" width="7.55" height="24.9" fill="#b1ff4e"/><rect x="1105.31" y="607.75" width="3.97" height="24.9" fill="#b0ff4f"/><rect x="1108.89" y="607.75" width="3.97" height="24.9" fill="#a8ff57"/><rect x="1112.46" y="607.75" width="3.97" height="24.9" fill="#a1ff5e"/><rect x="1116.03" y="607.75" width="3.97" height="24.9" fill="#a4ff5b"/><rect x="1119.6" y="607.75" width="7.55" height="24.9" fill="#a0ff5f"/><rect x="733.75" y="583.25" width="3.97" height="24.9" fill="#a2ff5d"/><rect x="737.32" y="583.25" width="3.97" height="24.9" fill="#a1ff5e"/><rect x="740.9" y="583.25" width="3.97" height="24.9" fill="#abff54"/><rect x="744.47" y="583.25" width="3.97" height="24.9" fill="#a4ff5b"/><rect x="748.04" y="583.25" width="7.55" height="24.9" fill="#adff52"/><rect x="755.19" y="583.25" width="3.97" height="24.9" fill="#aaff55"/><rect x="758.76" y="583.25" width="3.97" height="24.9" fill="#b3ff4c"/><rect x="762.33" y="583.25" width="3.97" height="24.9" fill="#aeff51"/><rect x="765.9" y="583.25" width="3.97" height="24.9" fill="#b6ff49"/><rect x="769.48" y="583.25" width="3.97" height="24.9" fill="#b3ff4c"/><rect x="773.05" y="583.25" width="3.97" height="24.9" fill="#b5ff4a"/><rect x="776.62" y="583.25" width="3.97" height="24.9" fill="#bcff43"/><rect x="780.2" y="583.25" width="3.97" height="24.9" fill="#c4ff3b"/><rect x="783.77" y="583.25" width="3.97" height="24.9" fill="#bcff43"/><rect x="787.34" y="583.25" width="3.97" height="24.9" fill="#bfff40"/><rect x="790.91" y="583.25" width="3.97" height="24.9" fill="#c7ff38"/><rect x="794.49" y="583.25" width="3.97" height="24.9" fill="#ceff31"/><rect x="798.06" y="583.25" width="7.55" height="24.9" fill="#caff35"/><rect x="805.2" y="583.25" width="3.97" height="24.9" fill="#daff25"/><rect x="808.78" y="583.25" width="3.97" height="24.9" fill="#d7ff28"/><rect x="812.35" y="583.25" width="3.97" height="24.9" fill="#eeff11"/><rect x="815.92" y="583.25" width="3.97" height="24.9" fill="#f0ff0f"/><rect x="819.5" y="583.25" width="3.97" height="24.9" fill="#f8ff07"/><rect x="823.07" y="583.25" width="3.97" height="24.9" fill="#ffff00"/><rect x="826.64" y="583.25" width="3.97" height="24.9" fill="#fffa00"/><rect x="830.21" y="583.25" width="3.97" height="24.9" fill="#fff100"/><rect x="833.79" y="583.25" width="3.97" height="24.9" fill="#fff900"/><rect x="837.36" y="583.25" width="3.97" height="24.9" fill="#fff100"/><rect x="840.93" y="583.25" width="3.97" height="24.9" fill="#ffef00"/><rect x="844.5" y="583.25" width="3.97" height="24.9" fill="#fff100"/><rect x="848.08" y="583.25" width="3.97" height="24.9" fill="#ffed00"/><rect x="851.65" y="583.25" width="3.97" height="24.9" fill="#fff200"/><rect x="855.22" y="583.25" width="3.97" height="24.9" fill="#fff100"/><rect x="858.8" y="583.25" width="3.97" height="24.9" fill="#ffed00"/><rect x="862.37" y="583.25" width="3.97" height="24.9" fill="#ffe400"/><rect x="865.94" y="583.25" width="3.97" height="24.9" fill="#ffe500"/><rect x="869.51" y="583.25" width="3.97" height="24.9" fill="#ffcb00"/><rect x="873.09" y="583.25" width="3.97" height="24.9" fill="#ffc500"/><rect x="876.66" y="583.25" width="3.97" height="24.9" fill="#ffc600"/><rect x="880.23" y="583.25" width="3.97" height="24.9" fill="#ffc800"/><rect x="883.8" y="583.25" width="7.55" height="24.9" fill="#ffc000"/><rect x="890.95" y="583.25" width="3.97" height="24.9" fill="#ffc600"/><rect x="894.52" y="583.25" width="7.55" height="24.9" fill="#ffc100"/><rect x="901.67" y="583.25" width="3.97" height="24.9" fill="#ffbb00"/><rect x="905.24" y="583.25" width="3.97" height="24.9" fill="#ffbc00"/><rect x="908.81" y="583.25" width="3.97" height="24.9" fill="#ffc200"/><rect x="912.39" y="583.25" width="3.97" height="24.9" fill="#ffb700"/><rect x="915.96" y="583.25" width="3.97" height="24.9" fill="#ffc300"/><rect x="919.53" y="583.25" width="3.97" height="24.9" fill="#9c0000"/><rect x="923.1" y="583.25" width="14.69" height="24.9" fill="#800000"/><rect x="937.4" y="583.25" width="3.97" height="24.9" fill="#ff7f00"/><rect x="940.97" y="583.25" width="3.97" height="24.9" fill="#ffb200"/><rect x="944.54" y="583.25" width="3.97" height="24.9" fill="#ffb700"/><rect x="948.11" y="583.25" width="3.97" height="24.9" fill="#ffb600"/><rect x="951.69" y="583.25" width="3.97" height="24.9" fill="#ffc100"/><rect x="955.26" y="583.25" width="3.97" height="24.9" fill="#ffbf00"/><rect x="958.83" y="583.25" width="3.97" height="24.9" fill="#ffc400"/><rect x="962.4" y="583.25" width="3.97" height="24.9" fill="#ffc700"/><rect x="965.98" y="583.25" width="3.97" height="24.9" fill="#ffcc00"/><rect x="969.55" y="583.25" width="3.97" height="24.9" fill="#ffc900"/><rect x="973.12" y="583.25" width="3.97" height="24.9" fill="#ffcb00"/><rect x="976.7" y="583.25" width="3.97" height="24.9" fill="#ffd600"/><rect x="980.27" y="583.25" width="3.97" height="24.9" fill="#ffd700"/><rect x="983.84" y="583.25" width="3.97" height="24.9" fill="#ffe400"/><rect x="987.41" y="583.25" width="3.97" height="24.9" fill="#ffdf00"/><rect x="990.99" y="583.25" width="3.97" height="24.9" fill="#ffe400"/><rect x="994.56" y="583.25" width="3.97" height="24.9" fill="#ffe300"/><rect x="998.13" y="583.25" width="3.97" height="24.9" fill="#ffe900"/><rect x="1001.7" y="583.25" width="3.97" height="24.9" fill="#ffd400"/><rect x="1005.28" y="583.25" width="3.97" height="24.9" fill="#ff7400"/><rect x="1008.85" y="583.25" width="3.97" height="24.9" fill="#ff0300"/><rect x="1012.42" y="583.25" width="3.97" height="24.9" fill="#eb0000"/><rect x="1016" y="583.25" width="3.97" height="24.9" fill="#c70000"/><rect x="1019.57" y="583.25" width="7.55" height="24.9" fill="#cc0000"/><rect x="1026.71" y="583.25" width="3.97" height="24.9" fill="#cd0000"/><rect x="1030.29" y="583.25" width="3.97" height="24.9" fill="#c80000"/><rect x="1033.86" y="583.25" width="3.97" height="24.9" fill="#f10000"/><rect x="1037.43" y="583.25" width="3.97" height="24.9" fill="#ff1000"/><rect x="1041" y="583.25" width="3.97" height="24.9" fill="#ff7600"/><rect x="1044.58" y="583.25" width="3.97" height="24.9" fill="#ffca00"/><rect x="1048.15" y="583.25" width="3.97" height="24.9" fill="#fffa00"/><rect x="1051.72" y="583.25" width="3.97" height="24.9" fill="#e5ff1a"/><rect x="1055.3" y="583.25" width="3.97" height="24.9" fill="#e2ff1d"/><rect x="1058.87" y="583.25" width="3.97" height="24.9" fill="#e3ff1c"/><rect x="1062.44" y="583.25" width="3.97" height="24.9" fill="#ddff22"/><rect x="1066.01" y="583.25" width="3.97" height="24.9" fill="#daff25"/><rect x="1069.59" y="583.25" width="3.97" height="24.9" fill="#cdff32"/><rect x="1073.16" y="583.25" width="3.97" height="24.9" fill="#cbff34"/><rect x="1076.73" y="583.25" width="3.97" height="24.9" fill="#c6ff39"/><rect x="1080.3" y="583.25" width="3.97" height="24.9" fill="#caff35"/><rect x="1083.88" y="583.25" width="3.97" height="24.9" fill="#c9ff36"/><rect x="1087.45" y="583.25" width="3.97" height="24.9" fill="#baff45"/><rect x="1091.02" y="583.25" width="3.97" height="24.9" fill="#b8ff47"/><rect x="1094.6" y="583.25" width="3.97" height="24.9" fill="#b6ff49"/><rect x="1098.17" y="583.25" width="3.97" height="24.9" fill="#b3ff4c"/><rect x="1101.74" y="583.25" width="3.97" height="24.9" fill="#b4ff4b"/><rect x="1105.31" y="583.25" width="3.97" height="24.9" fill="#b3ff4c"/><rect x="1108.89" y="583.25" width="3.97" height="24.9" fill="#abff54"/><rect x="1112.46" y="583.25" width="3.97" height="24.9" fill="#a5ff5a"/><rect x="1116.03" y="583.25" width="3.97" height="24.9" fill="#a8ff57"/><rect x="1119.6" y="583.25" width="7.55" height="24.9" fill="#a5ff5a"/><rect x="733.75" y="558.75" width="7.55" height="24.9" fill="#a7ff58"/><rect x="740.9" y="558.75" width="3.97" height="24.9" fill="#b0ff4f"/><rect x="744.47" y="558.75" width="3.97" height="24.9" fill="#aaff55"/><rect x="748.04" y="558.75" width="7.55" height="24.9" fill="#b2ff4d"/><rect x="755.19" y="558.75" width="3.97" height="24.9" fill="#afff50"/><rect x="758.76" y="558.75" width="3.97" height="24.9" fill="#b8ff47"/><rect x="762.33" y="558.75" width="3.97" height="24.9" fill="#b3ff4c"/><rect x="765.9" y="558.75" width="3.97" height="24.9" fill="#bbff44"/><rect x="769.48" y="558.75" width="3.97" height="24.9" fill="#b8ff47"/><rect x="773.05" y="558.75" width="3.97" height="24.9" fill="#baff45"/><rect x="776.62" y="558.75" width="3.97" height="24.9" fill="#c1ff3e"/><rect x="780.2" y="558.75" width="3.97" height="24.9" fill="#c9ff36"/><rect x="783.77" y="558.75" width="3.97" height="24.9" fill="#c1ff3e"/><rect x="787.34" y="558.75" width="3.97" height="24.9" fill="#c4ff3b"/><rect x="790.91" y="558.75" width="3.97" height="24.9" fill="#ccff33"/><rect x="794.49" y="558.75" width="3.97" height="24.9" fill="#d3ff2c"/><rect x="798.06" y="558.75" width="3.97" height="24.9" fill="#d0ff2f"/><rect x="801.63" y="558.75" width="3.97" height="24.9" fill="#cfff30"/><rect x="805.2" y="558.75" width="3.97" height="24.9" fill="#ddff22"/><rect x="808.78" y="558.75" width="3.97" height="24.9" fill="#d8ff27"/><rect x="812.35" y="558.75" width="3.97" height="24.9" fill="#ebff14"/><rect x="815.92" y="558.75" width="3.97" height="24.9" fill="#eaff15"/><rect x="819.5" y="558.75" width="3.97" height="24.9" fill="#f0ff0f"/><rect x="823.07" y="558.75" width="3.97" height="24.9" fill="#f5ff0a"/><rect x="826.64" y="558.75" width="3.97" height="24.9" fill="#f8ff07"/><rect x="830.21" y="558.75" width="3.97" height="24.9" fill="#ffff00"/><rect x="833.79" y="558.75" width="3.97" height="24.9" fill="#f7ff08"/><rect x="837.36" y="558.75" width="3.97" height="24.9" fill="#fdff02"/><rect x="840.93" y="558.75" width="3.97" height="24.9" fill="#feff01"/><rect x="844.5" y="558.75" width="3.97" height="24.9" fill="#faff05"/><rect x="848.08" y="558.75" width="3.97" height="24.9" fill="#fdff02"/><rect x="851.65" y="558.75" width="7.55" height="24.9" fill="#f7ff08"/><rect x="858.8" y="558.75" width="3.97" height="24.9" fill="#faff05"/><rect x="862.37" y="558.75" width="3.97" height="24.9" fill="#fffd00"/><rect x="865.94" y="558.75" width="3.97" height="24.9" fill="#fdff02"/><rect x="869.51" y="558.75" width="3.97" height="24.9" fill="#fcff03"/><rect x="873.09" y="558.75" width="3.97" height="24.9" fill="#fffe00"/><rect x="876.66" y="558.75" width="3.97" height="24.9" fill="#ffff00"/><rect x="880.23" y="558.75" width="3.97" height="24.9" fill="#fdff02"/><rect x="883.8" y="558.75" width="3.97" height="24.9" fill="#fff900"/><rect x="887.38" y="558.75" width="3.97" height="24.9" fill="#fffa00"/><rect x="890.95" y="558.75" width="3.97" height="24.9" fill="#fdff02"/><rect x="894.52" y="558.75" width="3.97" height="24.9" fill="#fffb00"/><rect x="898.1" y="558.75" width="3.97" height="24.9" fill="#fffc00"/><rect x="901.67" y="558.75" width="3.97" height="24.9" fill="#fff600"/><rect x="905.24" y="558.75" width="3.97" height="24.9" fill="#fff800"/><rect x="908.81" y="558.75" width="3.97" height="24.9" fill="#fffe00"/><rect x="912.39" y="558.75" width="3.97" height="24.9" fill="#fff400"/><rect x="915.96" y="558.75" width="3.97" height="24.9" fill="#feff01"/><rect x="919.53" y="558.75" width="3.97" height="24.9" fill="#fffb00"/><rect x="923.1" y="558.75" width="3.97" height="24.9" fill="#ffdc00"/><rect x="926.68" y="558.75" width="3.97" height="24.9" fill="#ff8f00"/><rect x="930.25" y="558.75" width="3.97" height="24.9" fill="#ff8a00"/><rect x="933.82" y="558.75" width="3.97" height="24.9" fill="#fff500"/><rect x="937.4" y="558.75" width="3.97" height="24.9" fill="#fffd00"/><rect x="940.97" y="558.75" width="3.97" height="24.9" fill="#fffc00"/><rect x="944.54" y="558.75" width="3.97" height="24.9" fill="#ffff00"/><rect x="948.11" y="558.75" width="3.97" height="24.9" fill="#fffc00"/><rect x="951.69" y="558.75" width="3.97" height="24.9" fill="#faff05"/><rect x="955.26" y="558.75" width="3.97" height="24.9" fill="#ffff00"/><rect x="958.83" y="558.75" width="3.97" height="24.9" fill="#fdff02"/><rect x="962.4" y="558.75" width="3.97" height="24.9" fill="#fcff03"/><rect x="965.98" y="558.75" width="3.97" height="24.9" fill="#f9ff06"/><rect x="969.55" y="558.75" width="3.97" height="24.9" fill="#feff01"/><rect x="973.12" y="558.75" width="3.97" height="24.9" fill="#ffff00"/><rect x="976.7" y="558.75" width="3.97" height="24.9" fill="#f8ff07"/><rect x="980.27" y="558.75" width="3.97" height="24.9" fill="#faff05"/><rect x="983.84" y="558.75" width="3.97" height="24.9" fill="#f1ff0e"/><rect x="987.41" y="558.75" width="3.97" height="24.9" fill="#f9ff06"/><rect x="990.99" y="558.75" width="3.97" height="24.9" fill="#f8ff07"/><rect x="994.56" y="558.75" width="3.97" height="24.9" fill="#fcff03"/><rect x="998.13" y="558.75" width="3.97" height="24.9" fill="#fffd00"/><rect x="1001.7" y="558.75" width="3.97" height="24.9" fill="#ffc700"/><rect x="1005.28" y="558.75" width="3.97" height="24.9" fill="#ff3e00"/><rect x="1008.85" y="558.75" width="3.97" height="24.9" fill="#d80000"/><rect x="1012.42" y="558.75" width="3.97" height="24.9" fill="#ae0000"/><rect x="1016" y="558.75" width="14.69" height="24.9" fill="#940000"/><rect x="1030.29" y="558.75" width="3.97" height="24.9" fill="#b10000"/><rect x="1033.86" y="558.75" width="3.97" height="24.9" fill="#e80000"/><rect x="1037.43" y="558.75" width="3.97" height="24.9" fill="#ff2d00"/><rect x="1041" y="558.75" width="3.97" height="24.9" fill="#ff8c00"/><rect x="1044.58" y="558.75" width="3.97" height="24.9" fill="#ffc100"/><rect x="1048.15" y="558.75" width="3.97" height="24.9" fill="#fffe00"/><rect x="1051.72" y="558.75" width="3.97" height="24.9" fill="#ecff13"/><rect x="1055.3" y="558.75" width="3.97" height="24.9" fill="#e9ff16"/><rect x="1058.87" y="558.75" width="3.97" height="24.9" fill="#eaff15"/><rect x="1062.44" y="558.75" width="3.97" height="24.9" fill="#e4ff1b"/><rect x="1066.01" y="558.75" width="3.97" height="24.9" fill="#e0ff1f"/><rect x="1069.59" y="558.75" width="3.97" height="24.9" fill="#d3ff2c"/><rect x="1073.16" y="558.75" width="3.97" height="24.9" fill="#d1ff2e"/><rect x="1076.73" y="558.75" width="3.97" height="24.9" fill="#cbff34"/><rect x="1080.3" y="558.75" width="3.97" height="24.9" fill="#cfff30"/><rect x="1083.88" y="558.75" width="3.97" height="24.9" fill="#ceff31"/><rect x="1087.45" y="558.75" width="3.97" height="24.9" fill="#bfff40"/><rect x="1091.02" y="558.75" width="3.97" height="24.9" fill="#bdff42"/><rect x="1094.6" y="558.75" width="3.97" height="24.9" fill="#bbff44"/><rect x="1098.17" y="558.75" width="3.97" height="24.9" fill="#b8ff47"/><rect x="1101.74" y="558.75" width="3.97" height="24.9" fill="#b9ff46"/><rect x="1105.31" y="558.75" width="3.97" height="24.9" fill="#b8ff47"/><rect x="1108.89" y="558.75" width="3.97" height="24.9" fill="#b0ff4f"/><rect x="1112.46" y="558.75" width="3.97" height="24.9" fill="#aaff55"/><rect x="1116.03" y="558.75" width="3.97" height="24.9" fill="#adff52"/><rect x="1119.6" y="558.75" width="7.55" height="24.9" fill="#aaff55"/><rect x="733.75" y="534.25" width="3.97" height="24.9" fill="#a7ff58"/><rect x="737.32" y="534.25" width="3.97" height="24.9" fill="#a5ff5a"/><rect x="740.9" y="534.25" width="3.97" height="24.9" fill="#aeff51"/><rect x="744.47" y="534.25" width="3.97" height="24.9" fill="#a7ff58"/><rect x="748.04" y="534.25" width="3.97" height="24.9" fill="#afff50"/><rect x="751.61" y="534.25" width="3.97" height="24.9" fill="#aeff51"/><rect x="755.19" y="534.25" width="3.97" height="24.9" fill="#aaff55"/><rect x="758.76" y="534.25" width="3.97" height="24.9" fill="#b2ff4d"/><rect x="762.33" y="534.25" width="3.97" height="24.9" fill="#adff52"/><rect x="765.9" y="534.25" width="3.97" height="24.9" fill="#b4ff4b"/><rect x="769.48" y="534.25" width="3.97" height="24.9" fill="#b0ff4f"/><rect x="773.05" y="534.25" width="3.97" height="24.9" fill="#b1ff4e"/><rect x="776.62" y="534.25" width="3.97" height="24.9" fill="#b7ff48"/><rect x="780.2" y="534.25" width="3.97" height="24.9" fill="#beff41"/><rect x="783.77" y="534.25" width="3.97" height="24.9" fill="#b6ff49"/><rect x="787.34" y="534.25" width="3.97" height="24.9" fill="#b8ff47"/><rect x="790.91" y="534.25" width="3.97" height="24.9" fill="#bfff40"/><rect x="794.49" y="534.25" width="3.97" height="24.9" fill="#c5ff3a"/><rect x="798.06" y="534.25" width="3.97" height="24.9" fill="#c1ff3e"/><rect x="801.63" y="534.25" width="3.97" height="24.9" fill="#c0ff3f"/><rect x="805.2" y="534.25" width="3.97" height="24.9" fill="#caff35"/><rect x="808.78" y="534.25" width="3.97" height="24.9" fill="#bfff40"/><rect x="812.35" y="534.25" width="3.97" height="24.9" fill="#cdff32"/><rect x="815.92" y="534.25" width="7.55" height="24.9" fill="#c7ff38"/><rect x="823.07" y="534.25" width="3.97" height="24.9" fill="#c9ff36"/><rect x="826.64" y="534.25" width="3.97" height="24.9" fill="#ceff31"/><rect x="830.21" y="534.25" width="3.97" height="24.9" fill="#d5ff2a"/><rect x="833.79" y="534.25" width="3.97" height="24.9" fill="#ccff33"/><rect x="837.36" y="534.25" width="7.55" height="24.9" fill="#d2ff2d"/><rect x="844.5" y="534.25" width="3.97" height="24.9" fill="#ceff31"/><rect x="848.08" y="534.25" width="3.97" height="24.9" fill="#d1ff2e"/><rect x="851.65" y="534.25" width="3.97" height="24.9" fill="#caff35"/><rect x="855.22" y="534.25" width="3.97" height="24.9" fill="#c9ff36"/><rect x="858.8" y="534.25" width="3.97" height="24.9" fill="#cbff34"/><rect x="862.37" y="534.25" width="3.97" height="24.9" fill="#d2ff2d"/><rect x="865.94" y="534.25" width="3.97" height="24.9" fill="#ceff31"/><rect x="869.51" y="534.25" width="3.97" height="24.9" fill="#ccff33"/><rect x="873.09" y="534.25" width="3.97" height="24.9" fill="#d0ff2f"/><rect x="876.66" y="534.25" width="3.97" height="24.9" fill="#ceff31"/><rect x="880.23" y="534.25" width="3.97" height="24.9" fill="#ccff33"/><rect x="883.8" y="534.25" width="3.97" height="24.9" fill="#d2ff2d"/><rect x="887.38" y="534.25" width="3.97" height="24.9" fill="#d1ff2e"/><rect x="890.95" y="534.25" width="3.97" height="24.9" fill="#caff35"/><rect x="894.52" y="534.25" width="3.97" height="24.9" fill="#cfff30"/><rect x="898.1" y="534.25" width="3.97" height="24.9" fill="#ceff31"/><rect x="901.67" y="534.25" width="3.97" height="24.9" fill="#d3ff2c"/><rect x="905.24" y="534.25" width="3.97" height="24.9" fill="#d0ff2f"/><rect x="908.81" y="534.25" width="3.97" height="24.9" fill="#caff35"/><rect x="912.39" y="534.25" width="3.97" height="24.9" fill="#d4ff2b"/><rect x="915.96" y="534.25" width="3.97" height="24.9" fill="#c7ff38"/><rect x="919.53" y="534.25" width="3.97" height="24.9" fill="#cbff34"/><rect x="923.1" y="534.25" width="3.97" height="24.9" fill="#d0ff2f"/><rect x="926.68" y="534.25" width="3.97" height="24.9" fill="#c7ff38"/><rect x="930.25" y="534.25" width="3.97" height="24.9" fill="#ccff33"/><rect x="933.82" y="534.25" width="3.97" height="24.9" fill="#c5ff3a"/><rect x="937.4" y="534.25" width="3.97" height="24.9" fill="#ceff31"/><rect x="940.97" y="534.25" width="3.97" height="24.9" fill="#cfff30"/><rect x="944.54" y="534.25" width="3.97" height="24.9" fill="#ccff33"/><rect x="948.11" y="534.25" width="3.97" height="24.9" fill="#d0ff2f"/><rect x="951.69" y="534.25" width="3.97" height="24.9" fill="#c8ff37"/><rect x="955.26" y="534.25" width="3.97" height="24.9" fill="#cdff32"/><rect x="958.83" y="534.25" width="7.55" height="24.9" fill="#cbff34"/><rect x="965.98" y="534.25" width="3.97" height="24.9" fill="#c9ff36"/><rect x="969.55" y="534.25" width="3.97" height="24.9" fill="#ceff31"/><rect x="973.12" y="534.25" width="3.97" height="24.9" fill="#cfff30"/><rect x="976.7" y="534.25" width="3.97" height="24.9" fill="#c8ff37"/><rect x="980.27" y="534.25" width="3.97" height="24.9" fill="#caff35"/><rect x="983.84" y="534.25" width="3.97" height="24.9" fill="#c2ff3d"/><rect x="987.41" y="534.25" width="3.97" height="24.9" fill="#caff35"/><rect x="990.99" y="534.25" width="3.97" height="24.9" fill="#c9ff36"/><rect x="994.56" y="534.25" width="3.97" height="24.9" fill="#ceff31"/><rect x="998.13" y="534.25" width="3.97" height="24.9" fill="#edff12"/><rect x="1001.7" y="534.25" width="3.97" height="24.9" fill="#ffe600"/><rect x="1005.28" y="534.25" width="3.97" height="24.9" fill="#ff7900"/><rect x="1008.85" y="534.25" width="3.97" height="24.9" fill="#ef0000"/><rect x="1012.42" y="534.25" width="3.97" height="24.9" fill="#dd0000"/><rect x="1016" y="534.25" width="3.97" height="24.9" fill="#bd0000"/><rect x="1019.57" y="534.25" width="3.97" height="24.9" fill="#c10000"/><rect x="1023.14" y="534.25" width="3.97" height="24.9" fill="#c20000"/><rect x="1026.71" y="534.25" width="3.97" height="24.9" fill="#c30000"/><rect x="1030.29" y="534.25" width="3.97" height="24.9" fill="#bd0000"/><rect x="1033.86" y="534.25" width="3.97" height="24.9" fill="#e20000"/><rect x="1037.43" y="534.25" width="3.97" height="24.9" fill="#fb0000"/><rect x="1041" y="534.25" width="3.97" height="24.9" fill="#ff6100"/><rect x="1044.58" y="534.25" width="3.97" height="24.9" fill="#ffb800"/><rect x="1048.15" y="534.25" width="3.97" height="24.9" fill="#fff100"/><rect x="1051.72" y="534.25" width="3.97" height="24.9" fill="#e5ff1a"/><rect x="1055.3" y="534.25" width="3.97" height="24.9" fill="#e2ff1d"/><rect x="1058.87" y="534.25" width="3.97" height="24.9" fill="#e3ff1c"/><rect x="1062.44" y="534.25" width="3.97" height="24.9" fill="#ddff22"/><rect x="1066.01" y="534.25" width="3.97" height="24.9" fill="#daff25"/><rect x="1069.59" y="534.25" width="3.97" height="24.9" fill="#cdff32"/><rect x="1073.16" y="534.25" width="3.97" height="24.9" fill="#cbff34"/><rect x="1076.73" y="534.25" width="3.97" height="24.9" fill="#c6ff39"/><rect x="1080.3" y="534.25" width="3.97" height="24.9" fill="#cbff34"/><rect x="1083.88" y="534.25" width="3.97" height="24.9" fill="#c9ff36"/><rect x="1087.45" y="534.25" width="3.97" height="24.9" fill="#bbff44"/><rect x="1091.02" y="534.25" width="3.97" height="24.9" fill="#b9ff46"/><rect x="1094.6" y="534.25" width="3.97" height="24.9" fill="#b8ff47"/><rect x="1098.17" y="534.25" width="3.97" height="24.9" fill="#b5ff4a"/><rect x="1101.74" y="534.25" width="3.97" height="24.9" fill="#b7ff48"/><rect x="1105.31" y="534.25" width="3.97" height="24.9" fill="#b6ff49"/><rect x="1108.89" y="534.25" width="3.97" height="24.9" fill="#afff50"/><rect x="1112.46" y="534.25" width="3.97" height="24.9" fill="#a9ff56"/><rect x="1116.03" y="534.25" width="3.97" height="24.9" fill="#acff53"/><rect x="1119.6" y="534.25" width="3.97" height="24.9" fill="#a9ff56"/><rect x="1123.18" y="534.25" width="3.97" height="24.9" fill="#aaff55"/><rect x="733.75" y="509.75" width="3.97" height="24.9" fill="#a1ff5e"/><rect x="737.32" y="509.75" width="3.97" height="24.9" fill="#9fff60"/><rect x="740.9" y="509.75" width="3.97" height="24.9" fill="#a7ff58"/><rect x="744.47" y="509.75" width="3.97" height="24.9" fill="#a0ff5f"/><rect x="748.04" y="509.75" width="3.97" height="24.9" fill="#a7ff58"/><rect x="751.61" y="509.75" width="3.97" height="24.9" fill="#a6ff59"/><rect x="755.19" y="509.75" width="3.97" height="24.9" fill="#a2ff5d"/><rect x="758.76" y="509.75" width="3.97" height="24.9" fill="#a9ff56"/><rect x="762.33" y="509.75" width="3.97" height="24.9" fill="#a3ff5c"/><rect x="765.9" y="509.75" width="3.97" height="24.9" fill="#aaff55"/><rect x="769.48" y="509.75" width="3.97" height="24.9" fill="#a5ff5a"/><rect x="773.05" y="509.75" width="3.97" height="24.9" fill="#a6ff59"/><rect x="776.62" y="509.75" width="3.97" height="24.9" fill="#acff53"/><rect x="780.2" y="509.75" width="3.97" height="24.9" fill="#b2ff4d"/><rect x="783.77" y="509.75" width="3.97" height="24.9" fill="#a9ff56"/><rect x="787.34" y="509.75" width="3.97" height="24.9" fill="#abff54"/><rect x="790.91" y="509.75" width="3.97" height="24.9" fill="#b2ff4d"/><rect x="794.49" y="509.75" width="3.97" height="24.9" fill="#b7ff48"/><rect x="798.06" y="509.75" width="3.97" height="24.9" fill="#b3ff4c"/><rect x="801.63" y="509.75" width="3.97" height="24.9" fill="#b1ff4e"/><rect x="805.2" y="509.75" width="3.97" height="24.9" fill="#b9ff46"/><rect x="808.78" y="509.75" width="3.97" height="24.9" fill="#acff53"/><rect x="812.35" y="509.75" width="3.97" height="24.9" fill="#b8ff47"/><rect x="815.92" y="509.75" width="3.97" height="24.9" fill="#afff50"/><rect x="819.5" y="509.75" width="7.55" height="24.9" fill="#adff52"/><rect x="826.64" y="509.75" width="3.97" height="24.9" fill="#b0ff4f"/><rect x="830.21" y="509.75" width="3.97" height="24.9" fill="#b6ff49"/><rect x="833.79" y="509.75" width="3.97" height="24.9" fill="#abff54"/><rect x="837.36" y="509.75" width="3.97" height="24.9" fill="#b0ff4f"/><rect x="840.93" y="509.75" width="3.97" height="24.9" fill="#afff50"/><rect x="844.5" y="509.75" width="3.97" height="24.9" fill="#aaff55"/><rect x="848.08" y="509.75" width="3.97" height="24.9" fill="#abff54"/><rect x="851.65" y="509.75" width="3.97" height="24.9" fill="#a2ff5d"/><rect x="855.22" y="509.75" width="3.97" height="24.9" fill="#a1ff5e"/><rect x="858.8" y="509.75" width="3.97" height="24.9" fill="#a2ff5d"/><rect x="862.37" y="509.75" width="3.97" height="24.9" fill="#a7ff58"/><rect x="865.94" y="509.75" width="3.97" height="24.9" fill="#a2ff5d"/><rect x="869.51" y="509.75" width="3.97" height="24.9" fill="#9fff60"/><rect x="873.09" y="509.75" width="3.97" height="24.9" fill="#a1ff5e"/><rect x="876.66" y="509.75" width="3.97" height="24.9" fill="#9eff61"/><rect x="880.23" y="509.75" width="3.97" height="24.9" fill="#9aff65"/><rect x="883.8" y="509.75" width="3.97" height="24.9" fill="#a0ff5f"/><rect x="887.38" y="509.75" width="3.97" height="24.9" fill="#9dff62"/><rect x="890.95" y="509.75" width="3.97" height="24.9" fill="#95ff6a"/><rect x="894.52" y="509.75" width="3.97" height="24.9" fill="#98ff67"/><rect x="898.1" y="509.75" width="3.97" height="24.9" fill="#96ff69"/><rect x="901.67" y="509.75" width="3.97" height="24.9" fill="#9aff65"/><rect x="905.24" y="509.75" width="3.97" height="24.9" fill="#96ff69"/><rect x="908.81" y="509.75" width="3.97" height="24.9" fill="#8eff71"/><rect x="912.39" y="509.75" width="3.97" height="24.9" fill="#97ff68"/><rect x="915.96" y="509.75" width="3.97" height="24.9" fill="#89ff76"/><rect x="919.53" y="509.75" width="3.97" height="24.9" fill="#8cff73"/><rect x="923.1" y="509.75" width="3.97" height="24.9" fill="#8fff70"/><rect x="926.68" y="509.75" width="3.97" height="24.9" fill="#85ff7a"/><rect x="930.25" y="509.75" width="3.97" height="24.9" fill="#89ff76"/><rect x="933.82" y="509.75" width="3.97" height="24.9" fill="#82ff7d"/><rect x="937.4" y="509.75" width="3.97" height="24.9" fill="#8aff75"/><rect x="940.97" y="509.75" width="3.97" height="24.9" fill="#8bff74"/><rect x="944.54" y="509.75" width="3.97" height="24.9" fill="#88ff77"/><rect x="948.11" y="509.75" width="3.97" height="24.9" fill="#8cff73"/><rect x="951.69" y="509.75" width="3.97" height="24.9" fill="#83ff7c"/><rect x="955.26" y="509.75" width="3.97" height="24.9" fill="#88ff77"/><rect x="958.83" y="509.75" width="3.97" height="24.9" fill="#86ff79"/><rect x="962.4" y="509.75" width="3.97" height="24.9" fill="#85ff7a"/><rect x="965.98" y="509.75" width="3.97" height="24.9" fill="#83ff7c"/><rect x="969.55" y="509.75" width="3.97" height="24.9" fill="#87ff78"/><rect x="973.12" y="509.75" width="3.97" height="24.9" fill="#88ff77"/><rect x="976.7" y="509.75" width="3.97" height="24.9" fill="#81ff7e"/><rect x="980.27" y="509.75" width="3.97" height="24.9" fill="#83ff7c"/><rect x="983.84" y="509.75" width="3.97" height="24.9" fill="#7aff85"/><rect x="987.41" y="509.75" width="3.97" height="24.9" fill="#82ff7d"/><rect x="990.99" y="509.75" width="3.97" height="24.9" fill="#96ff69"/><rect x="994.56" y="509.75" width="3.97" height="24.9" fill="#b0ff4f"/><rect x="998.13" y="509.75" width="3.97" height="24.9" fill="#c4ff3b"/><rect x="1001.7" y="509.75" width="3.97" height="24.9" fill="#d2ff2d"/><rect x="1005.28" y="509.75" width="3.97" height="24.9" fill="#e9ff16"/><rect x="1008.85" y="509.75" width="3.97" height="24.9" fill="#ffe700"/><rect x="1012.42" y="509.75" width="3.97" height="24.9" fill="#ff9b00"/><rect x="1016" y="509.75" width="3.97" height="24.9" fill="#ff7600"/><rect x="1019.57" y="509.75" width="3.97" height="24.9" fill="#ff7a00"/><rect x="1023.14" y="509.75" width="3.97" height="24.9" fill="#ff7b00"/><rect x="1026.71" y="509.75" width="3.97" height="24.9" fill="#ff7c00"/><rect x="1030.29" y="509.75" width="3.97" height="24.9" fill="#ff7100"/><rect x="1033.86" y="509.75" width="3.97" height="24.9" fill="#ff7b00"/><rect x="1037.43" y="509.75" width="3.97" height="24.9" fill="#ff9c00"/><rect x="1041" y="509.75" width="3.97" height="24.9" fill="#ffe300"/><rect x="1044.58" y="509.75" width="3.97" height="24.9" fill="#feff01"/><rect x="1048.15" y="509.75" width="3.97" height="24.9" fill="#d7ff28"/><rect x="1051.72" y="509.75" width="3.97" height="24.9" fill="#cfff30"/><rect x="1055.3" y="509.75" width="3.97" height="24.9" fill="#ceff31"/><rect x="1058.87" y="509.75" width="3.97" height="24.9" fill="#d0ff2f"/><rect x="1062.44" y="509.75" width="3.97" height="24.9" fill="#ccff33"/><rect x="1066.01" y="509.75" width="3.97" height="24.9" fill="#caff35"/><rect x="1069.59" y="509.75" width="7.55" height="24.9" fill="#bfff40"/><rect x="1076.73" y="509.75" width="3.97" height="24.9" fill="#bbff44"/><rect x="1080.3" y="509.75" width="3.97" height="24.9" fill="#c1ff3e"/><rect x="1083.88" y="509.75" width="3.97" height="24.9" fill="#c0ff3f"/><rect x="1087.45" y="509.75" width="3.97" height="24.9" fill="#b2ff4d"/><rect x="1091.02" y="509.75" width="3.97" height="24.9" fill="#b1ff4e"/><rect x="1094.6" y="509.75" width="3.97" height="24.9" fill="#b0ff4f"/><rect x="1098.17" y="509.75" width="3.97" height="24.9" fill="#aeff51"/><rect x="1101.74" y="509.75" width="7.55" height="24.9" fill="#afff50"/><rect x="1108.89" y="509.75" width="3.97" height="24.9" fill="#a8ff57"/><rect x="1112.46" y="509.75" width="3.97" height="24.9" fill="#a2ff5d"/><rect x="1116.03" y="509.75" width="3.97" height="24.9" fill="#a6ff59"/><rect x="1119.6" y="509.75" width="7.55" height="24.9" fill="#a4ff5b"/><rect x="733.75" y="485.25" width="3.97" height="24.9" fill="#9cff63"/><rect x="737.32" y="485.25" width="3.97" height="24.9" fill="#99ff66"/><rect x="740.9" y="485.25" width="3.97" height="24.9" fill="#a0ff5f"/><rect x="744.47" y="485.25" width="3.97" height="24.9" fill="#98ff67"/><rect x="748.04" y="485.25" width="3.97" height="24.9" fill="#9fff60"/><rect x="751.61" y="485.25" width="3.97" height="24.9" fill="#9cff63"/><rect x="755.19" y="485.25" width="3.97" height="24.9" fill="#98ff67"/><rect x="758.76" y="485.25" width="3.97" height="24.9" fill="#9eff61"/><rect x="762.33" y="485.25" width="3.97" height="24.9" fill="#97ff68"/><rect x="765.9" y="485.25" width="3.97" height="24.9" fill="#9dff62"/><rect x="769.48" y="485.25" width="7.55" height="24.9" fill="#98ff67"/><rect x="776.62" y="485.25" width="3.97" height="24.9" fill="#9dff62"/><rect x="780.2" y="485.25" width="3.97" height="24.9" fill="#a1ff5e"/><rect x="783.77" y="485.25" width="3.97" height="24.9" fill="#95ff6a"/><rect x="787.34" y="485.25" width="3.97" height="24.9" fill="#94ff6b"/><rect x="790.91" y="485.25" width="3.97" height="24.9" fill="#98ff67"/><rect x="794.49" y="485.25" width="3.97" height="24.9" fill="#9aff65"/><rect x="798.06" y="485.25" width="3.97" height="24.9" fill="#93ff6c"/><rect x="801.63" y="485.25" width="3.97" height="24.9" fill="#8eff71"/><rect x="805.2" y="485.25" width="3.97" height="24.9" fill="#94ff6b"/><rect x="808.78" y="485.25" width="3.97" height="24.9" fill="#85ff7a"/><rect x="812.35" y="485.25" width="3.97" height="24.9" fill="#8eff71"/><rect x="815.92" y="485.25" width="3.97" height="24.9" fill="#84ff7b"/><rect x="819.5" y="485.25" width="3.97" height="24.9" fill="#7fff80"/><rect x="823.07" y="485.25" width="7.55" height="24.9" fill="#7dff82"/><rect x="830.21" y="485.25" width="3.97" height="24.9" fill="#83ff7c"/><rect x="833.79" y="485.25" width="3.97" height="24.9" fill="#79ff86"/><rect x="837.36" y="485.25" width="7.55" height="24.9" fill="#7dff82"/><rect x="844.5" y="485.25" width="3.97" height="24.9" fill="#78ff87"/><rect x="848.08" y="485.25" width="3.97" height="24.9" fill="#79ff86"/><rect x="851.65" y="485.25" width="3.97" height="24.9" fill="#71ff8e"/><rect x="855.22" y="485.25" width="3.97" height="24.9" fill="#6fff90"/><rect x="858.8" y="485.25" width="3.97" height="24.9" fill="#70ff8f"/><rect x="862.37" y="485.25" width="3.97" height="24.9" fill="#76ff89"/><rect x="865.94" y="485.25" width="3.97" height="24.9" fill="#71ff8e"/><rect x="869.51" y="485.25" width="3.97" height="24.9" fill="#6eff91"/><rect x="873.09" y="485.25" width="3.97" height="24.9" fill="#71ff8e"/><rect x="876.66" y="485.25" width="3.97" height="24.9" fill="#6dff92"/><rect x="880.23" y="485.25" width="3.97" height="24.9" fill="#6aff95"/><rect x="883.8" y="485.25" width="3.97" height="24.9" fill="#70ff8f"/><rect x="887.38" y="485.25" width="3.97" height="24.9" fill="#6dff92"/><rect x="890.95" y="485.25" width="3.97" height="24.9" fill="#65ff9a"/><rect x="894.52" y="485.25" width="3.97" height="24.9" fill="#69ff96"/><rect x="898.1" y="485.25" width="3.97" height="24.9" fill="#67ff98"/><rect x="901.67" y="485.25" width="3.97" height="24.9" fill="#6aff95"/><rect x="905.24" y="485.25" width="3.97" height="24.9" fill="#67ff98"/><rect x="908.81" y="485.25" width="3.97" height="24.9" fill="#60ff9f"/><rect x="912.39" y="485.25" width="3.97" height="24.9" fill="#68ff97"/><rect x="915.96" y="485.25" width="3.97" height="24.9" fill="#5bffa4"/><rect x="919.53" y="485.25" width="3.97" height="24.9" fill="#5effa1"/><rect x="923.1" y="485.25" width="3.97" height="24.9" fill="#61ff9e"/><rect x="926.68" y="485.25" width="3.97" height="24.9" fill="#57ffa8"/><rect x="930.25" y="485.25" width="3.97" height="24.9" fill="#5cffa3"/><rect x="933.82" y="485.25" width="3.97" height="24.9" fill="#56ffa9"/><rect x="937.4" y="485.25" width="3.97" height="24.9" fill="#5fffa0"/><rect x="940.97" y="485.25" width="3.97" height="24.9" fill="#61ff9e"/><rect x="944.54" y="485.25" width="3.97" height="24.9" fill="#5effa1"/><rect x="948.11" y="485.25" width="3.97" height="24.9" fill="#63ff9c"/><rect x="951.69" y="485.25" width="3.97" height="24.9" fill="#5bffa4"/><rect x="955.26" y="485.25" width="3.97" height="24.9" fill="#61ff9e"/><rect x="958.83" y="485.25" width="7.55" height="24.9" fill="#5fffa0"/><rect x="965.98" y="485.25" width="3.97" height="24.9" fill="#5effa1"/><rect x="969.55" y="485.25" width="3.97" height="24.9" fill="#64ff9b"/><rect x="973.12" y="485.25" width="3.97" height="24.9" fill="#65ff9a"/><rect x="976.7" y="485.25" width="3.97" height="24.9" fill="#5fffa0"/><rect x="980.27" y="485.25" width="3.97" height="24.9" fill="#62ff9d"/><rect x="983.84" y="485.25" width="3.97" height="24.9" fill="#5affa5"/><rect x="987.41" y="485.25" width="7.55" height="24.9" fill="#63ff9c"/><rect x="994.56" y="485.25" width="3.97" height="24.9" fill="#68ff97"/><rect x="998.13" y="485.25" width="3.97" height="24.9" fill="#69ff96"/><rect x="1001.7" y="485.25" width="3.97" height="24.9" fill="#7fff80"/><rect x="1005.28" y="485.25" width="3.97" height="24.9" fill="#9eff61"/><rect x="1008.85" y="485.25" width="3.97" height="24.9" fill="#c0ff3f"/><rect x="1012.42" y="485.25" width="3.97" height="24.9" fill="#d4ff2b"/><rect x="1016" y="485.25" width="3.97" height="24.9" fill="#f6ff09"/><rect x="1019.57" y="485.25" width="7.55" height="24.9" fill="#ffff00"/><rect x="1026.71" y="485.25" width="3.97" height="24.9" fill="#feff01"/><rect x="1030.29" y="485.25" width="3.97" height="24.9" fill="#fff600"/><rect x="1033.86" y="485.25" width="3.97" height="24.9" fill="#ffff00"/><rect x="1037.43" y="485.25" width="3.97" height="24.9" fill="#efff10"/><rect x="1041" y="485.25" width="3.97" height="24.9" fill="#cdff32"/><rect x="1044.58" y="485.25" width="3.97" height="24.9" fill="#c4ff3b"/><rect x="1048.15" y="485.25" width="3.97" height="24.9" fill="#afff50"/><rect x="1051.72" y="485.25" width="3.97" height="24.9" fill="#aaff55"/><rect x="1055.3" y="485.25" width="3.97" height="24.9" fill="#a8ff57"/><rect x="1058.87" y="485.25" width="3.97" height="24.9" fill="#abff54"/><rect x="1062.44" y="485.25" width="3.97" height="24.9" fill="#a9ff56"/><rect x="1066.01" y="485.25" width="3.97" height="24.9" fill="#a8ff57"/><rect x="1069.59" y="485.25" width="3.97" height="24.9" fill="#9eff61"/><rect x="1073.16" y="485.25" width="3.97" height="24.9" fill="#9fff60"/><rect x="1076.73" y="485.25" width="3.97" height="24.9" fill="#9cff63"/><rect x="1080.3" y="485.25" width="3.97" height="24.9" fill="#a3ff5c"/><rect x="1083.88" y="485.25" width="3.97" height="24.9" fill="#a4ff5b"/><rect x="1087.45" y="485.25" width="14.69" height="24.9" fill="#98ff67"/><rect x="1101.74" y="485.25" width="3.97" height="24.9" fill="#9bff64"/><rect x="1105.31" y="485.25" width="3.97" height="24.9" fill="#9cff63"/><rect x="1108.89" y="485.25" width="3.97" height="24.9" fill="#97ff68"/><rect x="1112.46" y="485.25" width="3.97" height="24.9" fill="#93ff6c"/><rect x="1116.03" y="485.25" width="3.97" height="24.9" fill="#99ff66"/><rect x="1119.6" y="485.25" width="3.97" height="24.9" fill="#98ff67"/><rect x="1123.18" y="485.25" width="3.97" height="24.9" fill="#9aff65"/><rect x="733.75" y="460.75" width="3.97" height="24.9" fill="#96ff69"/><rect x="737.32" y="460.75" width="3.97" height="24.9" fill="#92ff6d"/><rect x="740.9" y="460.75" width="3.97" height="24.9" fill="#98ff67"/><rect x="744.47" y="460.75" width="3.97" height="24.9" fill="#8fff70"/><rect x="748.04" y="460.75" width="3.97" height="24.9" fill="#94ff6b"/><rect x="751.61" y="460.75" width="3.97" height="24.9" fill="#90ff6f"/><rect x="755.19" y="460.75" width="3.97" height="24.9" fill="#8bff74"/><rect x="758.76" y="460.75" width="3.97" height="24.9" fill="#90ff6f"/><rect x="762.33" y="460.75" width="3.97" height="24.9" fill="#88ff77"/><rect x="765.9" y="460.75" width="3.97" height="24.9" fill="#8dff72"/><rect x="769.48" y="460.75" width="3.97" height="24.9" fill="#86ff79"/><rect x="773.05" y="460.75" width="3.97" height="24.9" fill="#85ff7a"/><rect x="776.62" y="460.75" width="3.97" height="24.9" fill="#89ff76"/><rect x="780.2" y="460.75" width="3.97" height="24.9" fill="#8bff74"/><rect x="783.77" y="460.75" width="3.97" height="24.9" fill="#7cff83"/><rect x="787.34" y="460.75" width="3.97" height="24.9" fill="#78ff87"/><rect x="790.91" y="460.75" width="3.97" height="24.9" fill="#79ff86"/><rect x="794.49" y="460.75" width="3.97" height="24.9" fill="#78ff87"/><rect x="798.06" y="460.75" width="3.97" height="24.9" fill="#6eff91"/><rect x="801.63" y="460.75" width="3.97" height="24.9" fill="#66ff99"/><rect x="805.2" y="460.75" width="3.97" height="24.9" fill="#69ff96"/><rect x="808.78" y="460.75" width="3.97" height="24.9" fill="#57ffa8"/><rect x="812.35" y="460.75" width="3.97" height="24.9" fill="#5dffa2"/><rect x="815.92" y="460.75" width="3.97" height="24.9" fill="#50ffaf"/><rect x="819.5" y="460.75" width="3.97" height="24.9" fill="#49ffb6"/><rect x="823.07" y="460.75" width="3.97" height="24.9" fill="#43ffbc"/><rect x="826.64" y="460.75" width="3.97" height="24.9" fill="#41ffbe"/><rect x="830.21" y="460.75" width="3.97" height="24.9" fill="#46ffb9"/><rect x="833.79" y="460.75" width="3.97" height="24.9" fill="#3dffc2"/><rect x="837.36" y="460.75" width="3.97" height="24.9" fill="#41ffbe"/><rect x="840.93" y="460.75" width="3.97" height="24.9" fill="#42ffbd"/><rect x="844.5" y="460.75" width="3.97" height="24.9" fill="#3dffc2"/><rect x="848.08" y="460.75" width="3.97" height="24.9" fill="#3fffc0"/><rect x="851.65" y="460.75" width="3.97" height="24.9" fill="#37ffc8"/><rect x="855.22" y="460.75" width="3.97" height="24.9" fill="#36ffc9"/><rect x="858.8" y="460.75" width="3.97" height="24.9" fill="#38ffc7"/><rect x="862.37" y="460.75" width="3.97" height="24.9" fill="#3effc1"/><rect x="865.94" y="460.75" width="3.97" height="24.9" fill="#39ffc6"/><rect x="869.51" y="460.75" width="3.97" height="24.9" fill="#37ffc8"/><rect x="873.09" y="460.75" width="3.97" height="24.9" fill="#3affc5"/><rect x="876.66" y="460.75" width="3.97" height="24.9" fill="#38ffc7"/><rect x="880.23" y="460.75" width="3.97" height="24.9" fill="#35ffca"/><rect x="883.8" y="460.75" width="3.97" height="24.9" fill="#3bffc4"/><rect x="887.38" y="460.75" width="3.97" height="24.9" fill="#39ffc6"/><rect x="890.95" y="460.75" width="3.97" height="24.9" fill="#32ffcd"/><rect x="894.52" y="460.75" width="3.97" height="24.9" fill="#36ffc9"/><rect x="898.1" y="460.75" width="3.97" height="24.9" fill="#34ffcb"/><rect x="901.67" y="460.75" width="3.97" height="24.9" fill="#39ffc6"/><rect x="905.24" y="460.75" width="3.97" height="24.9" fill="#36ffc9"/><rect x="908.81" y="460.75" width="3.97" height="24.9" fill="#2fffd0"/><rect x="912.39" y="460.75" width="3.97" height="24.9" fill="#38ffc7"/><rect x="915.96" y="460.75" width="3.97" height="24.9" fill="#2bffd4"/><rect x="919.53" y="460.75" width="3.97" height="24.9" fill="#2effd1"/><rect x="923.1" y="460.75" width="3.97" height="24.9" fill="#33ffcc"/><rect x="926.68" y="460.75" width="3.97" height="24.9" fill="#29ffd6"/><rect x="930.25" y="460.75" width="3.97" height="24.9" fill="#2effd1"/><rect x="933.82" y="460.75" width="3.97" height="24.9" fill="#29ffd6"/><rect x="937.4" y="460.75" width="3.97" height="24.9" fill="#33ffcc"/><rect x="940.97" y="460.75" width="3.97" height="24.9" fill="#35ffca"/><rect x="944.54" y="460.75" width="3.97" height="24.9" fill="#33ffcc"/><rect x="948.11" y="460.75" width="3.97" height="24.9" fill="#38ffc7"/><rect x="951.69" y="460.75" width="3.97" height="24.9" fill="#31ffce"/><rect x="955.26" y="460.75" width="3.97" height="24.9" fill="#38ffc7"/><rect x="958.83" y="460.75" width="3.97" height="24.9" fill="#37ffc8"/><rect x="962.4" y="460.75" width="3.97" height="24.9" fill="#38ffc7"/><rect x="965.98" y="460.75" width="3.97" height="24.9" fill="#37ffc8"/><rect x="969.55" y="460.75" width="3.97" height="24.9" fill="#3dffc2"/><rect x="973.12" y="460.75" width="3.97" height="24.9" fill="#40ffbf"/><rect x="976.7" y="460.75" width="3.97" height="24.9" fill="#3affc5"/><rect x="980.27" y="460.75" width="3.97" height="24.9" fill="#3effc1"/><rect x="983.84" y="460.75" width="3.97" height="24.9" fill="#36ffc9"/><rect x="987.41" y="460.75" width="7.55" height="24.9" fill="#40ffbf"/><rect x="994.56" y="460.75" width="3.97" height="24.9" fill="#46ffb9"/><rect x="998.13" y="460.75" width="3.97" height="24.9" fill="#44ffbb"/><rect x="1001.7" y="460.75" width="3.97" height="24.9" fill="#3effc1"/><rect x="1005.28" y="460.75" width="3.97" height="24.9" fill="#40ffbf"/><rect x="1008.85" y="460.75" width="3.97" height="24.9" fill="#49ffb6"/><rect x="1012.42" y="460.75" width="3.97" height="24.9" fill="#4fffb0"/><rect x="1016" y="460.75" width="3.97" height="24.9" fill="#64ff9b"/><rect x="1019.57" y="460.75" width="3.97" height="24.9" fill="#6eff91"/><rect x="1023.14" y="460.75" width="3.97" height="24.9" fill="#7bff84"/><rect x="1026.71" y="460.75" width="3.97" height="24.9" fill="#7fff80"/><rect x="1030.29" y="460.75" width="3.97" height="24.9" fill="#8eff71"/><rect x="1033.86" y="460.75" width="3.97" height="24.9" fill="#89ff76"/><rect x="1037.43" y="460.75" width="3.97" height="24.9" fill="#90ff6f"/><rect x="1041" y="460.75" width="3.97" height="24.9" fill="#92ff6d"/><rect x="1044.58" y="460.75" width="3.97" height="24.9" fill="#99ff66"/><rect x="1048.15" y="460.75" width="3.97" height="24.9" fill="#8eff71"/><rect x="1051.72" y="460.75" width="3.97" height="24.9" fill="#93ff6c"/><rect x="1055.3" y="460.75" width="3.97" height="24.9" fill="#95ff6a"/><rect x="1058.87" y="460.75" width="3.97" height="24.9" fill="#99ff66"/><rect x="1062.44" y="460.75" width="3.97" height="24.9" fill="#98ff67"/><rect x="1066.01" y="460.75" width="3.97" height="24.9" fill="#99ff66"/><rect x="1069.59" y="460.75" width="3.97" height="24.9" fill="#91ff6e"/><rect x="1073.16" y="460.75" width="3.97" height="24.9" fill="#93ff6c"/><rect x="1076.73" y="460.75" width="3.97" height="24.9" fill="#92ff6d"/><rect x="1080.3" y="460.75" width="3.97" height="24.9" fill="#99ff66"/><rect x="1083.88" y="460.75" width="3.97" height="24.9" fill="#9aff65"/><rect x="1087.45" y="460.75" width="7.55" height="24.9" fill="#8fff70"/><rect x="1094.6" y="460.75" width="7.55" height="24.9" fill="#90ff6f"/><rect x="1101.74" y="460.75" width="3.97" height="24.9" fill="#94ff6b"/><rect x="1105.31" y="460.75" width="3.97" height="24.9" fill="#95ff6a"/><rect x="1108.89" y="460.75" width="3.97" height="24.9" fill="#91ff6e"/><rect x="1112.46" y="460.75" width="3.97" height="24.9" fill="#8dff72"/><rect x="1116.03" y="460.75" width="3.97" height="24.9" fill="#93ff6c"/><rect x="1119.6" y="460.75" width="3.97" height="24.9" fill="#92ff6d"/><rect x="1123.18" y="460.75" width="3.97" height="24.9" fill="#95ff6a"/><rect x="733.75" y="436.25" width="3.97" height="24.9" fill="#90ff6f"/><rect x="737.32" y="436.25" width="3.97" height="24.9" fill="#8cff73"/><rect x="740.9" y="436.25" width="3.97" height="24.9" fill="#92ff6d"/><rect x="744.47" y="436.25" width="3.97" height="24.9" fill="#88ff77"/><rect x="748.04" y="436.25" width="3.97" height="24.9" fill="#8dff72"/><rect x="751.61" y="436.25" width="3.97" height="24.9" fill="#89ff76"/><rect x="755.19" y="436.25" width="3.97" height="24.9" fill="#83ff7c"/><rect x="758.76" y="436.25" width="3.97" height="24.9" fill="#88ff77"/><rect x="762.33" y="436.25" width="3.97" height="24.9" fill="#80ff7f"/><rect x="765.9" y="436.25" width="3.97" height="24.9" fill="#84ff7b"/><rect x="769.48" y="436.25" width="3.97" height="24.9" fill="#7dff82"/><rect x="773.05" y="436.25" width="3.97" height="24.9" fill="#7cff83"/><rect x="776.62" y="436.25" width="3.97" height="24.9" fill="#7fff80"/><rect x="780.2" y="436.25" width="3.97" height="24.9" fill="#81ff7e"/><rect x="783.77" y="436.25" width="3.97" height="24.9" fill="#71ff8e"/><rect x="787.34" y="436.25" width="11.12" height="24.9" fill="#6eff91"/><rect x="798.06" y="436.25" width="3.97" height="24.9" fill="#64ff9b"/><rect x="801.63" y="436.25" width="3.97" height="24.9" fill="#5cffa3"/><rect x="805.2" y="436.25" width="3.97" height="24.9" fill="#5fffa0"/><rect x="808.78" y="436.25" width="3.97" height="24.9" fill="#4dffb2"/><rect x="812.35" y="436.25" width="3.97" height="24.9" fill="#53ffac"/><rect x="815.92" y="436.25" width="3.97" height="24.9" fill="#46ffb9"/><rect x="819.5" y="436.25" width="3.97" height="24.9" fill="#3fffc0"/><rect x="823.07" y="436.25" width="3.97" height="24.9" fill="#39ffc6"/><rect x="826.64" y="436.25" width="3.97" height="24.9" fill="#37ffc8"/><rect x="830.21" y="436.25" width="3.97" height="24.9" fill="#3cffc3"/><rect x="833.79" y="436.25" width="3.97" height="24.9" fill="#32ffcd"/><rect x="837.36" y="436.25" width="7.55" height="24.9" fill="#37ffc8"/><rect x="844.5" y="436.25" width="3.97" height="24.9" fill="#33ffcc"/><rect x="848.08" y="436.25" width="3.97" height="24.9" fill="#35ffca"/><rect x="851.65" y="436.25" width="3.97" height="24.9" fill="#2dffd2"/><rect x="855.22" y="436.25" width="3.97" height="24.9" fill="#2cffd3"/><rect x="858.8" y="436.25" width="3.97" height="24.9" fill="#2effd1"/><rect x="862.37" y="436.25" width="3.97" height="24.9" fill="#34ffcb"/><rect x="865.94" y="436.25" width="3.97" height="24.9" fill="#2fffd0"/><rect x="869.51" y="436.25" width="3.97" height="24.9" fill="#2dffd2"/><rect x="873.09" y="436.25" width="3.97" height="24.9" fill="#30ffcf"/><rect x="876.66" y="436.25" width="3.97" height="24.9" fill="#2dffd2"/><rect x="880.23" y="436.25" width="3.97" height="24.9" fill="#2bffd4"/><rect x="883.8" y="436.25" width="3.97" height="24.9" fill="#31ffce"/><rect x="887.38" y="436.25" width="3.97" height="24.9" fill="#2fffd0"/><rect x="890.95" y="436.25" width="3.97" height="24.9" fill="#28ffd7"/><rect x="894.52" y="436.25" width="3.97" height="24.9" fill="#2cffd3"/><rect x="898.1" y="436.25" width="3.97" height="24.9" fill="#2affd5"/><rect x="901.67" y="436.25" width="3.97" height="24.9" fill="#2effd1"/><rect x="905.24" y="436.25" width="3.97" height="24.9" fill="#2cffd3"/><rect x="908.81" y="436.25" width="3.97" height="24.9" fill="#25ffda"/><rect x="912.39" y="436.25" width="3.97" height="24.9" fill="#2effd1"/><rect x="915.96" y="436.25" width="3.97" height="24.9" fill="#21ffde"/><rect x="919.53" y="436.25" width="3.97" height="24.9" fill="#24ffdb"/><rect x="923.1" y="436.25" width="3.97" height="24.9" fill="#28ffd7"/><rect x="926.68" y="436.25" width="3.97" height="24.9" fill="#1fffe0"/><rect x="930.25" y="436.25" width="3.97" height="24.9" fill="#24ffdb"/><rect x="933.82" y="436.25" width="3.97" height="24.9" fill="#1fffe0"/><rect x="937.4" y="436.25" width="3.97" height="24.9" fill="#29ffd6"/><rect x="940.97" y="436.25" width="3.97" height="24.9" fill="#2cffd3"/><rect x="944.54" y="436.25" width="3.97" height="24.9" fill="#2affd5"/><rect x="948.11" y="436.25" width="3.97" height="24.9" fill="#2fffd0"/><rect x="951.69" y="436.25" width="3.97" height="24.9" fill="#28ffd7"/><rect x="955.26" y="436.25" width="14.69" height="24.9" fill="#2fffd0"/><rect x="969.55" y="436.25" width="3.97" height="24.9" fill="#35ffca"/><rect x="973.12" y="436.25" width="3.97" height="24.9" fill="#38ffc7"/><rect x="976.7" y="436.25" width="3.97" height="24.9" fill="#32ffcd"/><rect x="980.27" y="436.25" width="3.97" height="24.9" fill="#36ffc9"/><rect x="983.84" y="436.25" width="3.97" height="24.9" fill="#2fffd0"/><rect x="987.41" y="436.25" width="7.55" height="24.9" fill="#39ffc6"/><rect x="994.56" y="436.25" width="3.97" height="24.9" fill="#3fffc0"/><rect x="998.13" y="436.25" width="3.97" height="24.9" fill="#3effc1"/><rect x="1001.7" y="436.25" width="3.97" height="24.9" fill="#37ffc8"/><rect x="1005.28" y="436.25" width="3.97" height="24.9" fill="#3affc5"/><rect x="1008.85" y="436.25" width="3.97" height="24.9" fill="#3fffc0"/><rect x="1012.42" y="436.25" width="3.97" height="24.9" fill="#37ffc8"/><rect x="1016" y="436.25" width="3.97" height="24.9" fill="#3effc1"/><rect x="1019.57" y="436.25" width="7.55" height="24.9" fill="#3bffc4"/><rect x="1026.71" y="436.25" width="3.97" height="24.9" fill="#3cffc3"/><rect x="1030.29" y="436.25" width="3.97" height="24.9" fill="#49ffb6"/><rect x="1033.86" y="436.25" width="3.97" height="24.9" fill="#45ffba"/><rect x="1037.43" y="436.25" width="3.97" height="24.9" fill="#4bffb4"/><rect x="1041" y="436.25" width="3.97" height="24.9" fill="#51ffae"/><rect x="1044.58" y="436.25" width="3.97" height="24.9" fill="#5cffa3"/><rect x="1048.15" y="436.25" width="3.97" height="24.9" fill="#55ffaa"/><rect x="1051.72" y="436.25" width="3.97" height="24.9" fill="#5fffa0"/><rect x="1055.3" y="436.25" width="3.97" height="24.9" fill="#65ff9a"/><rect x="1058.87" y="436.25" width="3.97" height="24.9" fill="#6eff91"/><rect x="1062.44" y="436.25" width="3.97" height="24.9" fill="#71ff8e"/><rect x="1066.01" y="436.25" width="3.97" height="24.9" fill="#76ff89"/><rect x="1069.59" y="436.25" width="3.97" height="24.9" fill="#72ff8d"/><rect x="1073.16" y="436.25" width="3.97" height="24.9" fill="#79ff86"/><rect x="1076.73" y="436.25" width="3.97" height="24.9" fill="#7cff83"/><rect x="1080.3" y="436.25" width="3.97" height="24.9" fill="#86ff79"/><rect x="1083.88" y="436.25" width="3.97" height="24.9" fill="#88ff77"/><rect x="1087.45" y="436.25" width="3.97" height="24.9" fill="#7eff81"/><rect x="1091.02" y="436.25" width="3.97" height="24.9" fill="#7fff80"/><rect x="1094.6" y="436.25" width="3.97" height="24.9" fill="#81ff7e"/><rect x="1098.17" y="436.25" width="3.97" height="24.9" fill="#82ff7d"/><rect x="1101.74" y="436.25" width="3.97" height="24.9" fill="#87ff78"/><rect x="1105.31" y="436.25" width="3.97" height="24.9" fill="#8aff75"/><rect x="1108.89" y="436.25" width="3.97" height="24.9" fill="#86ff79"/><rect x="1112.46" y="436.25" width="3.97" height="24.9" fill="#84ff7b"/><rect x="1116.03" y="436.25" width="3.97" height="24.9" fill="#8bff74"/><rect x="1119.6" y="436.25" width="3.97" height="24.9" fill="#8cff73"/><rect x="1123.18" y="436.25" width="3.97" height="24.9" fill="#90ff6f"/><rect x="733.75" y="411.75" width="3.97" height="24.9" fill="#90ff6f"/><rect x="737.32" y="411.75" width="3.97" height="24.9" fill="#8cff73"/><rect x="740.9" y="411.75" width="3.97" height="24.9" fill="#92ff6d"/><rect x="744.47" y="411.75" width="3.97" height="24.9" fill="#88ff77"/><rect x="748.04" y="411.75" width="3.97" height="24.9" fill="#8dff72"/><rect x="751.61" y="411.75" width="3.97" height="24.9" fill="#89ff76"/><rect x="755.19" y="411.75" width="3.97" height="24.9" fill="#83ff7c"/><rect x="758.76" y="411.75" width="3.97" height="24.9" fill="#88ff77"/><rect x="762.33" y="411.75" width="3.97" height="24.9" fill="#80ff7f"/><rect x="765.9" y="411.75" width="3.97" height="24.9" fill="#84ff7b"/><rect x="769.48" y="411.75" width="3.97" height="24.9" fill="#7dff82"/><rect x="773.05" y="411.75" width="3.97" height="24.9" fill="#7cff83"/><rect x="776.62" y="411.75" width="3.97" height="24.9" fill="#7fff80"/><rect x="780.2" y="411.75" width="3.97" height="24.9" fill="#81ff7e"/><rect x="783.77" y="411.75" width="3.97" height="24.9" fill="#73ff8c"/><rect x="787.34" y="411.75" width="3.97" height="24.9" fill="#70ff8f"/><rect x="790.91" y="411.75" width="7.55" height="24.9" fill="#71ff8e"/><rect x="798.06" y="411.75" width="3.97" height="24.9" fill="#68ff97"/><rect x="801.63" y="411.75" width="3.97" height="24.9" fill="#61ff9e"/><rect x="805.2" y="411.75" width="3.97" height="24.9" fill="#65ff9a"/><rect x="808.78" y="411.75" width="3.97" height="24.9" fill="#53ffac"/><rect x="812.35" y="411.75" width="3.97" height="24.9" fill="#5affa5"/><rect x="815.92" y="411.75" width="3.97" height="24.9" fill="#4effb1"/><rect x="819.5" y="411.75" width="3.97" height="24.9" fill="#47ffb8"/><rect x="823.07" y="411.75" width="3.97" height="24.9" fill="#43ffbc"/><rect x="826.64" y="411.75" width="3.97" height="24.9" fill="#41ffbe"/><rect x="830.21" y="411.75" width="3.97" height="24.9" fill="#46ffb9"/><rect x="833.79" y="411.75" width="3.97" height="24.9" fill="#3dffc2"/><rect x="837.36" y="411.75" width="3.97" height="24.9" fill="#41ffbe"/><rect x="840.93" y="411.75" width="3.97" height="24.9" fill="#42ffbd"/><rect x="844.5" y="411.75" width="3.97" height="24.9" fill="#3dffc2"/><rect x="848.08" y="411.75" width="3.97" height="24.9" fill="#3fffc0"/><rect x="851.65" y="411.75" width="3.97" height="24.9" fill="#37ffc8"/><rect x="855.22" y="411.75" width="3.97" height="24.9" fill="#36ffc9"/><rect x="858.8" y="411.75" width="3.97" height="24.9" fill="#38ffc7"/><rect x="862.37" y="411.75" width="3.97" height="24.9" fill="#3effc1"/><rect x="865.94" y="411.75" width="3.97" height="24.9" fill="#39ffc6"/><rect x="869.51" y="411.75" width="3.97" height="24.9" fill="#37ffc8"/><rect x="873.09" y="411.75" width="3.97" height="24.9" fill="#3affc5"/><rect x="876.66" y="411.75" width="3.97" height="24.9" fill="#38ffc7"/><rect x="880.23" y="411.75" width="3.97" height="24.9" fill="#35ffca"/><rect x="883.8" y="411.75" width="3.97" height="24.9" fill="#3bffc4"/><rect x="887.38" y="411.75" width="3.97" height="24.9" fill="#39ffc6"/><rect x="890.95" y="411.75" width="3.97" height="24.9" fill="#32ffcd"/><rect x="894.52" y="411.75" width="3.97" height="24.9" fill="#36ffc9"/><rect x="898.1" y="411.75" width="3.97" height="24.9" fill="#34ffcb"/><rect x="901.67" y="411.75" width="3.97" height="24.9" fill="#39ffc6"/><rect x="905.24" y="411.75" width="3.97" height="24.9" fill="#36ffc9"/><rect x="908.81" y="411.75" width="3.97" height="24.9" fill="#2fffd0"/><rect x="912.39" y="411.75" width="3.97" height="24.9" fill="#38ffc7"/><rect x="915.96" y="411.75" width="3.97" height="24.9" fill="#2bffd4"/><rect x="919.53" y="411.75" width="3.97" height="24.9" fill="#2effd1"/><rect x="923.1" y="411.75" width="3.97" height="24.9" fill="#33ffcc"/><rect x="926.68" y="411.75" width="3.97" height="24.9" fill="#29ffd6"/><rect x="930.25" y="411.75" width="3.97" height="24.9" fill="#2fffd0"/><rect x="933.82" y="411.75" width="3.97" height="24.9" fill="#29ffd6"/><rect x="937.4" y="411.75" width="3.97" height="24.9" fill="#33ffcc"/><rect x="940.97" y="411.75" width="3.97" height="24.9" fill="#36ffc9"/><rect x="944.54" y="411.75" width="3.97" height="24.9" fill="#34ffcb"/><rect x="948.11" y="411.75" width="3.97" height="24.9" fill="#3affc5"/><rect x="951.69" y="411.75" width="3.97" height="24.9" fill="#33ffcc"/><rect x="955.26" y="411.75" width="7.55" height="24.9" fill="#39ffc6"/><rect x="962.4" y="411.75" width="3.97" height="24.9" fill="#3affc5"/><rect x="965.98" y="411.75" width="3.97" height="24.9" fill="#39ffc6"/><rect x="969.55" y="411.75" width="3.97" height="24.9" fill="#40ffbf"/><rect x="973.12" y="411.75" width="3.97" height="24.9" fill="#42ffbd"/><rect x="976.7" y="411.75" width="3.97" height="24.9" fill="#3dffc2"/><rect x="980.27" y="411.75" width="3.97" height="24.9" fill="#40ffbf"/><rect x="983.84" y="411.75" width="3.97" height="24.9" fill="#39ffc6"/><rect x="987.41" y="411.75" width="7.55" height="24.9" fill="#43ffbc"/><rect x="994.56" y="411.75" width="3.97" height="24.9" fill="#49ffb6"/><rect x="998.13" y="411.75" width="3.97" height="24.9" fill="#48ffb7"/><rect x="1001.7" y="411.75" width="3.97" height="24.9" fill="#41ffbe"/><rect x="1005.28" y="411.75" width="3.97" height="24.9" fill="#44ffbb"/><rect x="1008.85" y="411.75" width="3.97" height="24.9" fill="#49ffb6"/><rect x="1012.42" y="411.75" width="3.97" height="24.9" fill="#41ffbe"/><rect x="1016" y="411.75" width="3.97" height="24.9" fill="#48ffb7"/><rect x="1019.57" y="411.75" width="3.97" height="24.9" fill="#45ffba"/><rect x="1023.14" y="411.75" width="7.55" height="24.9" fill="#46ffb9"/><rect x="1030.29" y="411.75" width="3.97" height="24.9" fill="#53ffac"/><rect x="1033.86" y="411.75" width="3.97" height="24.9" fill="#4dffb2"/><rect x="1037.43" y="411.75" width="3.97" height="24.9" fill="#53ffac"/><rect x="1041" y="411.75" width="3.97" height="24.9" fill="#58ffa7"/><rect x="1044.58" y="411.75" width="3.97" height="24.9" fill="#63ff9c"/><rect x="1048.15" y="411.75" width="3.97" height="24.9" fill="#5bffa4"/><rect x="1051.72" y="411.75" width="3.97" height="24.9" fill="#64ff9b"/><rect x="1055.3" y="411.75" width="3.97" height="24.9" fill="#69ff96"/><rect x="1058.87" y="411.75" width="3.97" height="24.9" fill="#72ff8d"/><rect x="1062.44" y="411.75" width="3.97" height="24.9" fill="#74ff8b"/><rect x="1066.01" y="411.75" width="3.97" height="24.9" fill="#79ff86"/><rect x="1069.59" y="411.75" width="3.97" height="24.9" fill="#74ff8b"/><rect x="1073.16" y="411.75" width="3.97" height="24.9" fill="#7aff85"/><rect x="1076.73" y="411.75" width="3.97" height="24.9" fill="#7cff83"/><rect x="1080.3" y="411.75" width="3.97" height="24.9" fill="#86ff79"/><rect x="1083.88" y="411.75" width="3.97" height="24.9" fill="#88ff77"/><rect x="1087.45" y="411.75" width="3.97" height="24.9" fill="#7eff81"/><rect x="1091.02" y="411.75" width="3.97" height="24.9" fill="#7fff80"/><rect x="1094.6" y="411.75" width="3.97" height="24.9" fill="#81ff7e"/><rect x="1098.17" y="411.75" width="3.97" height="24.9" fill="#82ff7d"/><rect x="1101.74" y="411.75" width="3.97" height="24.9" fill="#87ff78"/><rect x="1105.31" y="411.75" width="3.97" height="24.9" fill="#8aff75"/><rect x="1108.89" y="411.75" width="3.97" height="24.9" fill="#86ff79"/><rect x="1112.46" y="411.75" width="3.97" height="24.9" fill="#84ff7b"/><rect x="1116.03" y="411.75" width="3.97" height="24.9" fill="#8bff74"/><rect x="1119.6" y="411.75" width="3.97" height="24.9" fill="#8cff73"/><rect x="1123.18" y="411.75" width="3.97" height="24.9" fill="#90ff6f"/><rect x="733.75" y="408.5" width="3.97" height="3.65" fill="#90ff6f"/><rect x="737.32" y="408.5" width="3.97" height="3.65" fill="#8cff73"/><rect x="740.9" y="408.5" width="3.97" height="3.65" fill="#92ff6d"/><rect x="744.47" y="408.5" width="3.97" height="3.65" fill="#88ff77"/><rect x="748.04" y="408.5" width="3.97" height="3.65" fill="#8dff72"/><rect x="751.61" y="408.5" width="3.97" height="3.65" fill="#89ff76"/><rect x="755.19" y="408.5" width="3.97" height="3.65" fill="#83ff7c"/><rect x="758.76" y="408.5" width="3.97" height="3.65" fill="#88ff77"/><rect x="762.33" y="408.5" width="3.97" height="3.65" fill="#80ff7f"/><rect x="765.9" y="408.5" width="3.97" height="3.65" fill="#84ff7b"/><rect x="769.48" y="408.5" width="3.97" height="3.65" fill="#7dff82"/><rect x="773.05" y="408.5" width="3.97" height="3.65" fill="#7cff83"/><rect x="776.62" y="408.5" width="3.97" height="3.65" fill="#7fff80"/><rect x="780.2" y="408.5" width="3.97" height="3.65" fill="#81ff7e"/><rect x="783.77" y="408.5" width="3.97" height="3.65" fill="#73ff8c"/><rect x="787.34" y="408.5" width="3.97" height="3.65" fill="#70ff8f"/><rect x="790.91" y="408.5" width="7.55" height="3.65" fill="#71ff8e"/><rect x="798.06" y="408.5" width="3.97" height="3.65" fill="#68ff97"/><rect x="801.63" y="408.5" width="3.97" height="3.65" fill="#61ff9e"/><rect x="805.2" y="408.5" width="3.97" height="3.65" fill="#65ff9a"/><rect x="808.78" y="408.5" width="3.97" height="3.65" fill="#53ffac"/><rect x="812.35" y="408.5" width="3.97" height="3.65" fill="#5affa5"/><rect x="815.92" y="408.5" width="3.97" height="3.65" fill="#4effb1"/><rect x="819.5" y="408.5" width="3.97" height="3.65" fill="#47ffb8"/><rect x="823.07" y="408.5" width="3.97" height="3.65" fill="#43ffbc"/><rect x="826.64" y="408.5" width="3.97" height="3.65" fill="#41ffbe"/><rect x="830.21" y="408.5" width="3.97" height="3.65" fill="#46ffb9"/><rect x="833.79" y="408.5" width="3.97" height="3.65" fill="#3dffc2"/><rect x="837.36" y="408.5" width="3.97" height="3.65" fill="#41ffbe"/><rect x="840.93" y="408.5" width="3.97" height="3.65" fill="#42ffbd"/><rect x="844.5" y="408.5" width="3.97" height="3.65" fill="#3dffc2"/><rect x="848.08" y="408.5" width="3.97" height="3.65" fill="#3fffc0"/><rect x="851.65" y="408.5" width="3.97" height="3.65" fill="#37ffc8"/><rect x="855.22" y="408.5" width="3.97" height="3.65" fill="#36ffc9"/><rect x="858.8" y="408.5" width="3.97" height="3.65" fill="#38ffc7"/><rect x="862.37" y="408.5" width="3.97" height="3.65" fill="#3effc1"/><rect x="865.94" y="408.5" width="3.97" height="3.65" fill="#39ffc6"/><rect x="869.51" y="408.5" width="3.97" height="3.65" fill="#37ffc8"/><rect x="873.09" y="408.5" width="3.97" height="3.65" fill="#3affc5"/><rect x="876.66" y="408.5" width="3.97" height="3.65" fill="#38ffc7"/><rect x="880.23" y="408.5" width="3.97" height="3.65" fill="#35ffca"/><rect x="883.8" y="408.5" width="3.97" height="3.65" fill="#3bffc4"/><rect x="887.38" y="408.5" width="3.97" height="3.65" fill="#39ffc6"/><rect x="890.95" y="408.5" width="3.97" height="3.65" fill="#32ffcd"/><rect x="894.52" y="408.5" width="3.97" height="3.65" fill="#36ffc9"/><rect x="898.1" y="408.5" width="3.97" height="3.65" fill="#34ffcb"/><rect x="901.67" y="408.5" width="3.97" height="3.65" fill="#39ffc6"/><rect x="905.24" y="408.5" width="3.97" height="3.65" fill="#36ffc9"/><rect x="908.81" y="408.5" width="3.97" height="3.65" fill="#2fffd0"/><rect x="912.39" y="408.5" width="3.97" height="3.65" fill="#38ffc7"/><rect x="915.96" y="408.5" width="3.97" height="3.65" fill="#2bffd4"/><rect x="919.53" y="408.5" width="3.97" height="3.65" fill="#2effd1"/><rect x="923.1" y="408.5" width="3.97" height="3.65" fill="#33ffcc"/><rect x="926.68" y="408.5" width="3.97" height="3.65" fill="#29ffd6"/><rect x="930.25" y="408.5" width="3.97" height="3.65" fill="#2fffd0"/><rect x="933.82" y="408.5" width="3.97" height="3.65" fill="#29ffd6"/><rect x="937.4" y="408.5" width="3.97" height="3.65" fill="#33ffcc"/><rect x="940.97" y="408.5" width="3.97" height="3.65" fill="#36ffc9"/><rect x="944.54" y="408.5" width="3.97" height="3.65" fill="#34ffcb"/><rect x="948.11" y="408.5" width="3.97" height="3.65" fill="#3affc5"/><rect x="951.69" y="408.5" width="3.97" height="3.65" fill="#33ffcc"/><rect x="955.26" y="408.5" width="7.55" height="3.65" fill="#39ffc6"/><rect x="962.4" y="408.5" width="3.97" height="3.65" fill="#3affc5"/><rect x="965.98" y="408.5" width="3.97" height="3.65" fill="#39ffc6"/><rect x="969.55" y="408.5" width="3.97" height="3.65" fill="#40ffbf"/><rect x="973.12" y="408.5" width="3.97" height="3.65" fill="#42ffbd"/><rect x="976.7" y="408.5" width="3.97" height="3.65" fill="#3dffc2"/><rect x="980.27" y="408.5" width="3.97" height="3.65" fill="#40ffbf"/><rect x="983.84" y="408.5" width="3.97" height="3.65" fill="#39ffc6"/><rect x="987.41" y="408.5" width="7.55" height="3.65" fill="#43ffbc"/><rect x="994.56" y="408.5" width="3.97" height="3.65" fill="#49ffb6"/><rect x="998.13" y="408.5" width="3.97" height="3.65" fill="#48ffb7"/><rect x="1001.7" y="408.5" width="3.97" height="3.65" fill="#41ffbe"/><rect x="1005.28" y="408.5" width="3.97" height="3.65" fill="#44ffbb"/><rect x="1008.85" y="408.5" width="3.97" height="3.65" fill="#49ffb6"/><rect x="1012.42" y="408.5" width="3.97" height="3.65" fill="#41ffbe"/><rect x="1016" y="408.5" width="3.97" height="3.65" fill="#48ffb7"/><rect x="1019.57" y="408.5" width="3.97" height="3.65" fill="#45ffba"/><rect x="1023.14" y="408.5" width="7.55" height="3.65" fill="#46ffb9"/><rect x="1030.29" y="408.5" width="3.97" height="3.65" fill="#53ffac"/><rect x="1033.86" y="408.5" width="3.97" height="3.65" fill="#4dffb2"/><rect x="1037.43" y="408.5" width="3.97" height="3.65" fill="#53ffac"/><rect x="1041" y="408.5" width="3.97" height="3.65" fill="#58ffa7"/><rect x="1044.58" y="408.5" width="3.97" height="3.65" fill="#63ff9c"/><rect x="1048.15" y="408.5" width="3.97" height="3.65" fill="#5bffa4"/><rect x="1051.72" y="408.5" width="3.97" height="3.65" fill="#64ff9b"/><rect x="1055.3" y="408.5" width="3.97" height="3.65" fill="#69ff96"/><rect x="1058.87" y="408.5" width="3.97" height="3.65" fill="#72ff8d"/><rect x="1062.44" y="408.5" width="3.97" height="3.65" fill="#74ff8b"/><rect x="1066.01" y="408.5" width="3.97" height="3.65" fill="#79ff86"/><rect x="1069.59" y="408.5" width="3.97" height="3.65" fill="#74ff8b"/><rect x="1073.16" y="408.5" width="3.97" height="3.65" fill="#7aff85"/><rect x="1076.73" y="408.5" width="3.97" height="3.65" fill="#7cff83"/><rect x="1080.3" y="408.5" width="3.97" height="3.65" fill="#86ff79"/><rect x="1083.88" y="408.5" width="3.97" height="3.65" fill="#88ff77"/><rect x="1087.45" y="408.5" width="3.97" height="3.65" fill="#7eff81"/><rect x="1091.02" y="408.5" width="3.97" height="3.65" fill="#7fff80"/><rect x="1094.6" y="408.5" width="3.97" height="3.65" fill="#81ff7e"/><rect x="1098.17" y="408.5" width="3.97" height="3.65" fill="#82ff7d"/><rect x="1101.74" y="408.5" width="3.97" height="3.65" fill="#87ff78"/><rect x="1105.31" y="408.5" width="3.97" height="3.65" fill="#8aff75"/><rect x="1108.89" y="408.5" width="3.97" height="3.65" fill="#86ff79"/><rect x="1112.46" y="408.5" width="3.97" height="3.65" fill="#84ff7b"/><rect x="1116.03" y="408.5" width="3.97" height="3.65" fill="#8bff74"/><rect x="1119.6" y="408.5" width="3.97" height="3.65" fill="#8cff73"/><rect x="1123.18" y="408.5" width="3.97" height="3.65" fill="#90ff6f"/></g><rect x="733.75" y="408.5" width="393" height="236" fill="none" stroke="#262626" stroke-width="1.6"/>
<path d="M817.5 644.5v-4.5 M817.5 408.5v4.5 M929.5 644.5v-4.5 M929.5 408.5v4.5 M1041.5 644.5v-4.5 M1041.5 408.5v4.5 M733.75 525.75h4.5 M1126.75 525.75h-4.5 " stroke="#262626" stroke-width="1.3" fill="none"/>
<text transform="translate(933 397.5) scale(1.09 1)" font-family="'Liberation Serif','DejaVu Serif',serif" font-size="33" text-anchor="middle" fill="#000" xml:space="preserve" textLength="162.39" lengthAdjust="spacing"><tspan font-style="italic" >ω</tspan><tspan font-style="italic" font-size="23.1" dy="6.6">p</tspan><tspan font-style="italic" dy="-6.6">t</tspan> = 4500</text>
<text transform="translate(1080 393.75) scale(1.09 1)" font-family="'Liberation Serif','DejaVu Serif',serif" font-size="52" text-anchor="start" fill="#000" font-weight="bold">e)</text>
<text transform="translate(817.5 682.5) scale(1.09 1)" font-family="'Liberation Serif','DejaVu Serif',serif" font-size="44" text-anchor="middle" fill="#000" >-0.2</text><text transform="translate(929.5 682.5) scale(1.09 1)" font-family="'Liberation Serif','DejaVu Serif',serif" font-size="44" text-anchor="middle" fill="#000" >0</text><text transform="translate(1041.5 682.5) scale(1.09 1)" font-family="'Liberation Serif','DejaVu Serif',serif" font-size="44" text-anchor="middle" fill="#000" >0.2</text>
<text transform="translate(723.75 426.5) scale(1.12 1)" font-family="'Liberation Serif','DejaVu Serif',serif" font-size="34" text-anchor="end" fill="#000" stroke="#000" stroke-width="0.5">2.33</text>
<text transform="translate(727.5 535.5) scale(1.12 1)" font-family="'Liberation Serif','DejaVu Serif',serif" font-size="34" text-anchor="end" fill="#000" stroke="#000" stroke-width="0.5">1.17</text>
<text transform="translate(721 654.5) scale(1.09 1)" font-family="'Liberation Serif','DejaVu Serif',serif" font-size="41" text-anchor="end" fill="#000" >0</text>
<text transform="translate(718.5 391) scale(1.09 1)" font-family="'Liberation Serif','DejaVu Serif',serif" font-size="39" text-anchor="start" fill="#000" >×10<tspan font-size="28" dy="-15">−2</tspan></text>
<g transform="translate(652 494) rotate(-90)"><text transform="translate(0 0) scale(1 1.09)" font-family="'Liberation Serif','DejaVu Serif',serif" font-size="35" text-anchor="middle" fill="#000" textLength="82" lengthAdjust="spacing"><tspan font-style="italic" >ω</tspan>/<tspan font-style="italic" >ω</tspan><tspan font-style="italic" font-size="24.5" dy="7">p</tspan></text></g>
<text transform="translate(940 725) scale(1.09 1)" font-family="'Liberation Serif','DejaVu Serif',serif" font-size="35" text-anchor="middle" fill="#000" textLength="73.39" lengthAdjust="spacingAndGlyphs"><tspan font-style="italic" >k</tspan><tspan font-style="italic" font-size="24.5" dy="7">x</tspan><tspan font-style="italic" dy="-7">λ</tspan><tspan font-style="italic" font-size="24.5" dy="7">D</tspan></text>
<rect x="806.25" y="424.5" width="55.75" height="44.5" fill="#fff"/><text transform="translate(808.45 455.5) scale(1.2 1)" font-family="'DejaVu Math TeX Gyre','DejaVu Sans','Liberation Serif',serif" font-size="25" fill="#000" stroke="#000" stroke-width="0.45">𝒮</text><text transform="translate(831.75 457.5) scale(1 1)" font-family="'Liberation Serif','DejaVu Serif',serif" font-size="26" text-anchor="start" fill="#000" >″</text><text transform="translate(829.75 462.5) scale(1 1)" font-family="'Liberation Serif','DejaVu Serif',serif" font-size="20" text-anchor="start" fill="#000" textLength="28.5" lengthAdjust="spacingAndGlyphs"><tspan font-style="italic" >qm</tspan></text>
<rect x="997" y="421.75" width="57.5" height="45.25" fill="#fff"/><text transform="translate(999.2 452.75) scale(1.2 1)" font-family="'DejaVu Math TeX Gyre','DejaVu Sans','Liberation Serif',serif" font-size="25" fill="#000" stroke="#000" stroke-width="0.45">𝒮</text><text transform="translate(1022.5 454.75) scale(1 1)" font-family="'Liberation Serif','DejaVu Serif',serif" font-size="26" text-anchor="start" fill="#000" >′</text><text transform="translate(1020.5 459.75) scale(1 1)" font-family="'Liberation Serif','DejaVu Serif',serif" font-size="20" text-anchor="start" fill="#000" textLength="28.5" lengthAdjust="spacingAndGlyphs"><tspan font-style="italic" >qm</tspan></text>
<rect x="1147" y="413.75" width="14.5" height="228.75" fill="url(#jetv)" stroke="#262626" stroke-width="1.6"/><path d="M1161.5 432.5h-4 M1161.5 470.75h-4 M1161.5 508.75h-4 M1161.5 547h-4 M1161.5 585h-4 M1161.5 623h-4 " stroke="#262626" stroke-width="1.2"/><rect x="1148.2" y="639.9" width="12.1" height="1.6" fill="#fff"/><text transform="translate(1177.5 420.94) scale(0.92 1)" font-family="'Liberation Serif','DejaVu Serif',serif" font-size="37.5" text-anchor="start" fill="#000" >1.2</text><text transform="translate(1176 515.94) scale(0.92 1)" font-family="'Liberation Serif','DejaVu Serif',serif" font-size="37.5" text-anchor="start" fill="#000" >0.8</text><text transform="translate(1176 597.19) scale(0.92 1)" font-family="'Liberation Serif','DejaVu Serif',serif" font-size="37.5" text-anchor="start" fill="#000" >0.4</text>
<g filter="url(#hfg)"><rect x="1378.5" y="51" width="369" height="261" fill="url(#rgg)"/><ellipse cx="1563" cy="181" rx="70" ry="45" fill="#999999" filter="url(#bl14)" opacity="0.6"/><ellipse cx="1585" cy="165" rx="32" ry="20" fill="#b8b8b8" filter="url(#bl6)" transform="rotate(-30 1585 165)"/><ellipse cx="1563" cy="185" rx="26" ry="28" fill="#c7c7c7" filter="url(#bl6)"/><ellipse cx="1653" cy="162" rx="5" ry="14" fill="#b8b8b8" filter="url(#bl3)" transform="rotate(-15 1653 162)"/><polygon points="1540.18,181.88 1553.68,162.98 1559.08,141.38 1563.13,130.58 1567.18,141.38 1571.23,162.98 1586.08,183.23 1573.93,202.13 1567.18,215.63 1559.08,203.48 1548.28,195.38" fill="#cccccc" stroke="#cccccc" stroke-width="3" stroke-linejoin="round" filter="url(#bl4)"/><polygon points="1546,180 1556,166 1560,150 1563,142 1566,150 1569,166 1580,181 1571,195 1566,205 1560,196 1552,190" fill="#ebebeb" stroke="#ebebeb" stroke-width="3" stroke-linejoin="round" filter="url(#bl2_5)"/><polygon points="1550.66,178.5 1557.86,168.42 1560.74,156.9 1562.9,151.14 1565.06,156.9 1567.22,168.42 1575.14,179.22 1568.66,189.3 1565.06,196.5 1560.74,190.02 1554.98,185.7" fill="#ffffff" stroke="#ffffff" stroke-width="3" stroke-linejoin="round" filter="url(#bl2)"/></g><path d="M1459.75 53V310 M1563 53V310 M1667.5 53V310 M1380.5 108H1745.5 M1380.5 181.5H1745.5 M1380.5 254.5H1745.5 " stroke="#262626" stroke-opacity="0.28" stroke-width="1.6" fill="none"/><rect x="1380.5" y="53" width="365" height="257" fill="none" stroke="#262626" stroke-width="1.6"/><path d="M1459.75 310v-4.5 M1459.75 53v4.5 M1563 310v-4.5 M1563 53v4.5 M1667.5 310v-4.5 M1667.5 53v4.5 M1380.5 108h4.5 M1745.5 108h-4.5 M1380.5 181.5h4.5 M1745.5 181.5h-4.5 M1380.5 254.5h4.5 M1745.5 254.5h-4.5 " stroke="#262626" stroke-width="1.3" fill="none"/>
<text transform="translate(1575.5 30) scale(1.09 1)" font-family="'Liberation Serif','DejaVu Serif',serif" font-size="33" text-anchor="middle" fill="#000" xml:space="preserve" textLength="162.39" lengthAdjust="spacing"><tspan font-style="italic" >ω</tspan><tspan font-style="italic" font-size="23.1" dy="6.6">p</tspan><tspan font-style="italic" dy="-6.6">t</tspan> = 1500</text>
<text transform="translate(1701.75 33) scale(1.09 1)" font-family="'Liberation Serif','DejaVu Serif',serif" font-size="52" text-anchor="start" fill="#000" font-weight="bold">g)</text>
<text transform="translate(1459.75 353.75) scale(1.09 1)" font-family="'Liberation Serif','DejaVu Serif',serif" font-size="41" text-anchor="middle" fill="#000" >-0.2</text><text transform="translate(1563 353.75) scale(1.09 1)" font-family="'Liberation Serif','DejaVu Serif',serif" font-size="41" text-anchor="middle" fill="#000" >0</text><text transform="translate(1667.5 353.75) scale(1.09 1)" font-family="'Liberation Serif','DejaVu Serif',serif" font-size="41" text-anchor="middle" fill="#000" >0.2</text>
<text transform="translate(1370 118.35) scale(1.04 1)" font-family="'Liberation Serif','DejaVu Serif',serif" font-size="46" text-anchor="end" fill="#000" >0.2</text><text transform="translate(1370 191.85) scale(1.04 1)" font-family="'Liberation Serif','DejaVu Serif',serif" font-size="46" text-anchor="end" fill="#000" >0</text><text transform="translate(1370 264.85) scale(1.04 1)" font-family="'Liberation Serif','DejaVu Serif',serif" font-size="46" text-anchor="end" fill="#000" >-0.2</text>
<g transform="translate(1281.5 182) rotate(-90)"><text transform="translate(0 0) scale(1 1.09)" font-family="'Liberation Serif','DejaVu Serif',serif" font-size="35" text-anchor="middle" fill="#000" textLength="78" lengthAdjust="spacingAndGlyphs"><tspan font-style="italic" >k</tspan><tspan font-style="italic" font-size="24.5" dy="7">y</tspan><tspan font-style="italic" dy="-7">λ</tspan><tspan font-style="italic" font-size="24.5" dy="7">D</tspan></text></g>
<rect x="1630" y="65.5" width="58" height="45" fill="#fff"/><text transform="translate(1632.2 96.5) scale(1.2 1)" font-family="'DejaVu Math TeX Gyre','DejaVu Sans','Liberation Serif',serif" font-size="25" fill="#000" stroke="#000" stroke-width="0.45">𝒮</text><text transform="translate(1655.5 98.5) scale(1 1)" font-family="'Liberation Serif','DejaVu Serif',serif" font-size="26" text-anchor="start" fill="#000" >′</text><text transform="translate(1653.5 103.5) scale(1 1)" font-family="'Liberation Serif','DejaVu Serif',serif" font-size="20" text-anchor="start" fill="#000" textLength="28.5" lengthAdjust="spacingAndGlyphs"><tspan font-style="italic" >qm</tspan></text>
<rect x="1756" y="78.75" width="15" height="222.5" fill="url(#jetv)" stroke="#262626" stroke-width="1.6"/><path d="M1771 207.5h-4 " stroke="#262626" stroke-width="1.2"/><rect x="1757.2" y="298.65" width="12.6" height="1.6" fill="#fff"/><text transform="translate(1780 116.17) scale(1.09 1)" font-family="'Liberation Serif','DejaVu Serif',serif" font-size="33" text-anchor="start" fill="#000" >0</text><text transform="translate(1776.5 214.93) scale(1.09 1)" font-family="'Liberation Serif','DejaVu Serif',serif" font-size="33" text-anchor="start" fill="#000" >-1</text><text transform="translate(1776.5 307.43) scale(1.09 1)" font-family="'Liberation Serif','DejaVu Serif',serif" font-size="33" text-anchor="start" fill="#000" >-2</text>
<g filter="url(#hfh)"><rect x="1383" y="418" width="369.5" height="262.75" fill="url(#rgh)"/><ellipse cx="1568" cy="549" rx="95" ry="55" fill="#999999" filter="url(#bl16)" opacity="0.7"/><ellipse cx="1455" cy="520" rx="16" ry="40" fill="#a8a8a8" filter="url(#bl8)" transform="rotate(15 1455 520)"/><ellipse cx="1690" cy="570" rx="45" ry="55" fill="#a3a3a3" filter="url(#bl12)"/><path d="M1640 614 Q1692 608 1716 562" stroke="#bfbfbf" stroke-width="10" fill="none" filter="url(#bl3)" stroke-linecap="round"/><ellipse cx="1690" cy="562" rx="6" ry="8" fill="#c7c7c7" filter="url(#bl2_5)"/><polygon points="1556.41,511.65 1577.69,515.23 1588.33,522.29 1609.72,508.06 1623.95,515.23 1616.78,536.51 1595.5,550.73 1584.86,579.18 1570.64,586.35 1556.41,572.13 1538.6,586.35 1520.8,589.93 1513.74,579.18 1527.96,557.9 1545.66,543.68 1552.83,522.29" fill="#c2c2c2" stroke="#c2c2c2" stroke-width="3" stroke-linejoin="round" filter="url(#bl5)"/><polygon points="1558.39,518.24 1575.87,521.18 1584.61,526.98 1602.18,515.29 1613.87,521.18 1607.98,538.66 1590.5,550.34 1581.76,573.71 1570.08,579.6 1558.39,567.92 1543.76,579.6 1529.14,582.54 1523.34,573.71 1535.02,556.23 1549.56,544.55 1555.45,526.98" fill="#e6e6e6" stroke="#e6e6e6" stroke-width="3" stroke-linejoin="round" filter="url(#bl3)"/><polygon points="1561.36,528.12 1573.14,530.1 1579.03,534.01 1590.87,526.13 1598.75,530.1 1594.78,541.88 1583,549.76 1577.11,565.5 1569.23,569.47 1561.36,561.6 1551.5,569.47 1541.64,571.46 1537.74,565.5 1545.61,553.72 1555.41,545.85 1559.38,534.01" fill="#ffffff" stroke="#ffffff" stroke-width="3" stroke-linejoin="round" filter="url(#bl3)"/></g><path d="M1463.5 420V678.75 M1568 420V678.75 M1672.25 420V678.75 M1385 475.5H1750.5 M1385 549.25H1750.5 M1385 623H1750.5 " stroke="#262626" stroke-opacity="0.28" stroke-width="1.6" fill="none"/><rect x="1385" y="420" width="365.5" height="258.75" fill="none" stroke="#262626" stroke-width="1.6"/><path d="M1463.5 678.75v-4.5 M1463.5 420v4.5 M1568 678.75v-4.5 M1568 420v4.5 M1672.25 678.75v-4.5 M1672.25 420v4.5 M1385 475.5h4.5 M1750.5 475.5h-4.5 M1385 549.25h4.5 M1750.5 549.25h-4.5 M1385 623h4.5 M1750.5 623h-4.5 " stroke="#262626" stroke-width="1.3" fill="none"/>
<text transform="translate(1572.5 397.5) scale(1.09 1)" font-family="'Liberation Serif','DejaVu Serif',serif" font-size="33" text-anchor="middle" fill="#000" xml:space="preserve" textLength="162.39" lengthAdjust="spacing"><tspan font-style="italic" >ω</tspan><tspan font-style="italic" font-size="23.1" dy="6.6">p</tspan><tspan font-style="italic" dy="-6.6">t</tspan> = 2500</text>
<text transform="translate(1701.75 402.5) scale(1.09 1)" font-family="'Liberation Serif','DejaVu Serif',serif" font-size="52" text-anchor="start" fill="#000" font-weight="bold">h)</text>
<text transform="translate(1463.5 722.5) scale(1.09 1)" font-family="'Liberation Serif','DejaVu Serif',serif" font-size="41" text-anchor="middle" fill="#000" >-0.2</text><text transform="translate(1568 722.5) scale(1.09 1)" font-family="'Liberation Serif','DejaVu Serif',serif" font-size="41" text-anchor="middle" fill="#000" >0</text><text transform="translate(1672.25 722.5) scale(1.09 1)" font-family="'Liberation Serif','DejaVu Serif',serif" font-size="41" text-anchor="middle" fill="#000" >0.2</text>
<text transform="translate(1372.4 485.85) scale(1.04 1)" font-family="'Liberation Serif','DejaVu Serif',serif" font-size="46" text-anchor="end" fill="#000" >0.2</text><text transform="translate(1372.4 559.6) scale(1.04 1)" font-family="'Liberation Serif','DejaVu Serif',serif" font-size="46" text-anchor="end" fill="#000" >0</text><text transform="translate(1372.4 633.35) scale(1.04 1)" font-family="'Liberation Serif','DejaVu Serif',serif" font-size="46" text-anchor="end" fill="#000" >-0.2</text>
<g transform="translate(1283 547) rotate(-90)"><text transform="translate(0 0) scale(1 1.09)" font-family="'Liberation Serif','DejaVu Serif',serif" font-size="35" text-anchor="middle" fill="#000" textLength="78" lengthAdjust="spacingAndGlyphs"><tspan font-style="italic" >k</tspan><tspan font-style="italic" font-size="24.5" dy="7">y</tspan><tspan font-style="italic" dy="-7">λ</tspan><tspan font-style="italic" font-size="24.5" dy="7">D</tspan></text></g>
<rect x="1431" y="423.25" width="56.25" height="45.75" fill="#fff"/><text transform="translate(1433.2 454.25) scale(1.2 1)" font-family="'DejaVu Math TeX Gyre','DejaVu Sans','Liberation Serif',serif" font-size="25" fill="#000" stroke="#000" stroke-width="0.45">𝒮</text><text transform="translate(1456.5 456.25) scale(1 1)" font-family="'Liberation Serif','DejaVu Serif',serif" font-size="26" text-anchor="start" fill="#000" >″</text><text transform="translate(1454.5 461.25) scale(1 1)" font-family="'Liberation Serif','DejaVu Serif',serif" font-size="20" text-anchor="start" fill="#000" textLength="28.5" lengthAdjust="spacingAndGlyphs"><tspan font-style="italic" >qm</tspan></text>
<rect x="1654.25" y="423.75" width="58" height="45.75" fill="#fff"/><text transform="translate(1656.45 454.75) scale(1.2 1)" font-family="'DejaVu Math TeX Gyre','DejaVu Sans','Liberation Serif',serif" font-size="25" fill="#000" stroke="#000" stroke-width="0.45">𝒮</text><text transform="translate(1679.75 456.75) scale(1 1)" font-family="'Liberation Serif','DejaVu Serif',serif" font-size="26" text-anchor="start" fill="#000" >′</text><text transform="translate(1677.75 461.75) scale(1 1)" font-family="'Liberation Serif','DejaVu Serif',serif" font-size="20" text-anchor="start" fill="#000" textLength="28.5" lengthAdjust="spacingAndGlyphs"><tspan font-style="italic" >qm</tspan></text>
<rect x="1761" y="451.25" width="15" height="221.25" fill="url(#jetv)" stroke="#262626" stroke-width="1.6"/><path d="M1776 579.25h-4 " stroke="#262626" stroke-width="1.2"/><rect x="1762.2" y="669.9" width="12.6" height="1.6" fill="#fff"/><text transform="translate(1785 487.43) scale(1.09 1)" font-family="'Liberation Serif','DejaVu Serif',serif" font-size="33" text-anchor="start" fill="#000" >0</text><text transform="translate(1781.5 586.67) scale(1.09 1)" font-family="'Liberation Serif','DejaVu Serif',serif" font-size="33" text-anchor="start" fill="#000" >-1</text><text transform="translate(1782.5 678.67) scale(1.09 1)" font-family="'Liberation Serif','DejaVu Serif',serif" font-size="33" text-anchor="start" fill="#000" >-2</text>
<g filter="url(#hfi)"><rect x="1383" y="796" width="374.5" height="267.75" fill="url(#rgi)"/><ellipse cx="1570" cy="930" rx="105" ry="60" fill="#999999" filter="url(#bl16)" opacity="0.7"/><ellipse cx="1462" cy="925" rx="14" ry="45" fill="#adadad" filter="url(#bl7)"/><ellipse cx="1690" cy="950" rx="45" ry="50" fill="#a6a6a6" filter="url(#bl12)"/><ellipse cx="1692" cy="948" rx="14" ry="5" fill="#bdbdbd" filter="url(#bl2_5)" transform="rotate(-30 1692 948)"/><ellipse cx="1665" cy="990" rx="10" ry="4" fill="#bdbdbd" filter="url(#bl2_5)" transform="rotate(-35 1665 990)"/><polygon points="1566.55,886.39 1592.08,889.96 1606.68,904.56 1610.36,922.85 1595.76,933.77 1588.4,955.74 1577.47,966.66 1548.26,968.5 1529.98,955.74 1533.66,937.45 1548.26,926.53 1551.94,904.56" fill="#c2c2c2" stroke="#c2c2c2" stroke-width="3" stroke-linejoin="round" filter="url(#bl5)"/><polygon points="1567.28,893.87 1588.37,896.81 1600.44,908.88 1603.48,923.98 1591.41,933.01 1585.33,951.15 1576.31,960.18 1552.18,961.7 1537.07,951.15 1540.11,936.05 1552.18,927.02 1555.22,908.88" fill="#e6e6e6" stroke="#e6e6e6" stroke-width="3" stroke-linejoin="round" filter="url(#bl3)"/><polygon points="1568.28,903.97 1583.37,906.07 1592.01,914.71 1594.19,925.52 1585.55,931.98 1581.2,944.97 1574.74,951.43 1557.47,952.52 1546.65,944.97 1548.83,934.16 1557.47,927.7 1559.64,914.71" fill="#ffffff" stroke="#ffffff" stroke-width="3" stroke-linejoin="round" filter="url(#bl3)"/></g><path d="M1464.25 798V1061.75 M1570 798V1061.75 M1675.5 798V1061.75 M1385 854.25H1755.5 M1385 929.5H1755.5 M1385 1005H1755.5 " stroke="#262626" stroke-opacity="0.28" stroke-width="1.6" fill="none"/><rect x="1385" y="798" width="370.5" height="263.75" fill="none" stroke="#262626" stroke-width="1.6"/><path d="M1464.25 1061.75v-4.5 M1464.25 798v4.5 M1570 1061.75v-4.5 M1570 798v4.5 M1675.5 1061.75v-4.5 M1675.5 798v4.5 M1385 854.25h4.5 M1755.5 854.25h-4.5 M1385 929.5h4.5 M1755.5 929.5h-4.5 M1385 1005h4.5 M1755.5 1005h-4.5 " stroke="#262626" stroke-width="1.3" fill="none"/>
<text transform="translate(1568.5 775) scale(1.09 1)" font-family="'Liberation Serif','DejaVu Serif',serif" font-size="35.5" text-anchor="middle" fill="#000" xml:space="preserve" textLength="175.23" lengthAdjust="spacing"><tspan font-style="italic" >ω</tspan><tspan font-style="italic" font-size="24.85" dy="7.1">p</tspan><tspan font-style="italic" dy="-7.1">t</tspan> = 3000</text>
<text transform="translate(1723 780) scale(1.09 1)" font-family="'Liberation Serif','DejaVu Serif',serif" font-size="52" text-anchor="start" fill="#000" font-weight="bold">i)</text>
<text transform="translate(1464.25 1105) scale(1.09 1)" font-family="'Liberation Serif','DejaVu Serif',serif" font-size="41" text-anchor="middle" fill="#000" >-0.2</text><text transform="translate(1570 1105) scale(1.09 1)" font-family="'Liberation Serif','DejaVu Serif',serif" font-size="41" text-anchor="middle" fill="#000" >0</text><text transform="translate(1675.5 1105) scale(1.09 1)" font-family="'Liberation Serif','DejaVu Serif',serif" font-size="41" text-anchor="middle" fill="#000" >0.2</text>
<text transform="translate(1375 864.6) scale(1.04 1)" font-family="'Liberation Serif','DejaVu Serif',serif" font-size="46" text-anchor="end" fill="#000" >0.2</text><text transform="translate(1375 939.85) scale(1.04 1)" font-family="'Liberation Serif','DejaVu Serif',serif" font-size="46" text-anchor="end" fill="#000" >0</text><text transform="translate(1375 1015.35) scale(1.04 1)" font-family="'Liberation Serif','DejaVu Serif',serif" font-size="46" text-anchor="end" fill="#000" >-0.2</text>
<g transform="translate(1284.5 915) rotate(-90)"><text transform="translate(0 0) scale(1 1.09)" font-family="'Liberation Serif','DejaVu Serif',serif" font-size="35" text-anchor="middle" fill="#000" textLength="78" lengthAdjust="spacingAndGlyphs"><tspan font-style="italic" >k</tspan><tspan font-style="italic" font-size="24.5" dy="7">y</tspan><tspan font-style="italic" dy="-7">λ</tspan><tspan font-style="italic" font-size="24.5" dy="7">D</tspan></text></g>
<text transform="translate(1566.75 1148.75) scale(1.09 1)" font-family="'Liberation Serif','DejaVu Serif',serif" font-size="35" text-anchor="middle" fill="#000" textLength="73.39" lengthAdjust="spacingAndGlyphs"><tspan font-style="italic" >k</tspan><tspan font-style="italic" font-size="24.5" dy="7">x</tspan><tspan font-style="italic" dy="-7">λ</tspan><tspan font-style="italic" font-size="24.5" dy="7">D</tspan></text>
<rect x="1444.75" y="809.5" width="56" height="44.75" fill="#fff"/><text transform="translate(1446.95 840.5) scale(1.2 1)" font-family="'DejaVu Math TeX Gyre','DejaVu Sans','Liberation Serif',serif" font-size="25" fill="#000" stroke="#000" stroke-width="0.45">𝒮</text><text transform="translate(1470.25 842.5) scale(1 1)" font-family="'Liberation Serif','DejaVu Serif',serif" font-size="26" text-anchor="start" fill="#000" >″</text><text transform="translate(1468.25 847.5) scale(1 1)" font-family="'Liberation Serif','DejaVu Serif',serif" font-size="20" text-anchor="start" fill="#000" textLength="28.5" lengthAdjust="spacingAndGlyphs"><tspan font-style="italic" >qm</tspan></text>
<rect x="1654.25" y="810" width="58" height="45" fill="#fff"/><text transform="translate(1656.45 841) scale(1.2 1)" font-family="'DejaVu Math TeX Gyre','DejaVu Sans','Liberation Serif',serif" font-size="25" fill="#000" stroke="#000" stroke-width="0.45">𝒮</text><text transform="translate(1679.75 843) scale(1 1)" font-family="'Liberation Serif','DejaVu Serif',serif" font-size="26" text-anchor="start" fill="#000" >′</text><text transform="translate(1677.75 848) scale(1 1)" font-family="'Liberation Serif','DejaVu Serif',serif" font-size="20" text-anchor="start" fill="#000" textLength="28.5" lengthAdjust="spacingAndGlyphs"><tspan font-style="italic" >qm</tspan></text>
<rect x="1766" y="823" width="15.25" height="228.25" fill="url(#jetv)" stroke="#262626" stroke-width="1.6"/><path d="M1781.25 952.5h-4 " stroke="#262626" stroke-width="1.2"/><rect x="1767.2" y="1048.65" width="12.85" height="1.6" fill="#fff"/><text transform="translate(1790.5 859.92) scale(1.09 1)" font-family="'Liberation Serif','DejaVu Serif',serif" font-size="33" text-anchor="start" fill="#000" >0</text><text transform="translate(1786.5 959.92) scale(1.09 1)" font-family="'Liberation Serif','DejaVu Serif',serif" font-size="33" text-anchor="start" fill="#000" >-1</text><text transform="translate(1787.5 1054.42) scale(1.09 1)" font-family="'Liberation Serif','DejaVu Serif',serif" font-size="33" text-anchor="start" fill="#000" >-2</text>
<g filter="url(#hfa)"><rect x="200" y="826" width="750" height="762" fill="#a2a2a2"/><ellipse cx="505" cy="905" rx="167.4" ry="16.25" fill="#808080" filter="url(#bl15)" transform="rotate(3.5 505 905)"/><ellipse cx="775" cy="893" rx="145.8" ry="16.25" fill="#808080" filter="url(#bl15)" transform="rotate(-6 775 893)"/><ellipse cx="745" cy="893" rx="59.4" ry="13.75" fill="#757575" filter="url(#bl6)" transform="rotate(-8 745 893)"/><ellipse cx="250" cy="975" rx="54" ry="21.25" fill="#999999" filter="url(#bl15)" transform="rotate(8 250 975)"/><ellipse cx="420" cy="1042" rx="86.4" ry="16.25" fill="#8f8f8f" filter="url(#bl15)" transform="rotate(12 420 1042)"/><ellipse cx="530" cy="1075" rx="54" ry="12.5" fill="#999999" filter="url(#bl15)" transform="rotate(12 530 1075)"/><ellipse cx="833" cy="1074" rx="126.36" ry="18.75" fill="#808080" filter="url(#bl15)" transform="rotate(5 833 1074)"/><ellipse cx="780" cy="1080" rx="32.4" ry="25" fill="#787878" filter="url(#bl6)" transform="rotate(20 780 1080)"/><ellipse cx="562.5" cy="1112" rx="62.1" ry="12.5" fill="#858585" filter="url(#bl6)" transform="rotate(0 562.5 1112)"/><ellipse cx="245" cy="1085" rx="48.6" ry="31.25" fill="#9e9e9e" filter="url(#bl15)" transform="rotate(0 245 1085)"/><ellipse cx="400" cy="1236" rx="216" ry="22.5" fill="#808080" filter="url(#bl15)" transform="rotate(3 400 1236)"/><ellipse cx="490" cy="1240" rx="75.6" ry="16.25" fill="#7d7d7d" filter="url(#bl7)" transform="rotate(3 490 1240)"/><ellipse cx="750" cy="1376" rx="118.8" ry="13.75" fill="#9c9c9c" filter="url(#bl15)" transform="rotate(3 750 1376)"/><ellipse cx="245" cy="1428" rx="48.6" ry="22.5" fill="#999999" filter="url(#bl15)" transform="rotate(0 245 1428)"/><ellipse cx="385" cy="1447" rx="124.2" ry="18.75" fill="#787878" filter="url(#bl7)" transform="rotate(2 385 1447)"/><ellipse cx="660" cy="1462" rx="183.6" ry="18.75" fill="#949494" filter="url(#bl15)" transform="rotate(5 660 1462)"/><ellipse cx="905" cy="1440" rx="48.6" ry="43.75" fill="#999999" filter="url(#bl15)" transform="rotate(0 905 1440)"/><ellipse cx="437.5" cy="1562" rx="62.1" ry="22.5" fill="#8c8c8c" filter="url(#bl8)" transform="rotate(0 437.5 1562)"/><ellipse cx="675" cy="1545" rx="81" ry="16.25" fill="#9e9e9e" filter="url(#bl15)" transform="rotate(0 675 1545)"/><ellipse cx="815" cy="852" rx="145.8" ry="25" fill="#b8b8b8" filter="url(#bl15)" transform="rotate(0 815 852)"/><ellipse cx="312.5" cy="930" rx="62.1" ry="22.5" fill="#bdbdbd" filter="url(#bl15)" transform="rotate(0 312.5 930)"/><ellipse cx="567.5" cy="985" rx="186.3" ry="37.5" fill="#b6b6b6" filter="url(#bl18)" transform="rotate(0 567.5 985)"/><ellipse cx="842.5" cy="1020" rx="116.1" ry="22.5" fill="#bebebe" filter="url(#bl15)" transform="rotate(0 842.5 1020)"/><ellipse cx="625" cy="1198" rx="70.2" ry="18.75" fill="#b8b8b8" filter="url(#bl15)" transform="rotate(0 625 1198)"/><ellipse cx="430" cy="1296" rx="205.2" ry="25" fill="#b8b8b8" filter="url(#bl15)" transform="rotate(2 430 1296)"/><ellipse cx="460" cy="1290" rx="43.2" ry="16.25" fill="#cccccc" filter="url(#bl7)" transform="rotate(0 460 1290)"/><ellipse cx="480" cy="1372" rx="151.2" ry="18.75" fill="#bfbfbf" filter="url(#bl15)" transform="rotate(0 480 1372)"/><ellipse cx="780" cy="1335" rx="183.6" ry="18.75" fill="#bdbdbd" filter="url(#bl15)" transform="rotate(0 780 1335)"/><ellipse cx="490" cy="1497" rx="226.8" ry="25" fill="#c6c6c6" filter="url(#bl15)" transform="rotate(5 490 1497)"/><ellipse cx="765" cy="1520" rx="70.2" ry="18.75" fill="#bdbdbd" filter="url(#bl15)" transform="rotate(0 765 1520)"/><ellipse cx="768" cy="1430" rx="56.16" ry="18.75" fill="#bdbdbd" filter="url(#bl15)" transform="rotate(0 768 1430)"/><ellipse cx="260" cy="1550" rx="48.6" ry="25" fill="#bdbdbd" filter="url(#bl15)" transform="rotate(0 260 1550)"/><ellipse cx="569" cy="1108" rx="2.6" ry="20" fill="#4c4c4c" filter="url(#bl1_5)" transform="rotate(0 569 1108)"/><ellipse cx="575.3" cy="1108" rx="2.6" ry="20" fill="#e6e6e6" filter="url(#bl1_5)" transform="rotate(0 575.3 1108)"/><ellipse cx="581.6" cy="1108" rx="2.6" ry="20" fill="#4c4c4c" filter="url(#bl1_5)" transform="rotate(0 581.6 1108)"/><ellipse cx="587.9" cy="1108" rx="2.6" ry="20" fill="#e6e6e6" filter="url(#bl1_5)" transform="rotate(0 587.9 1108)"/><ellipse cx="700" cy="900" rx="2.6" ry="13" fill="#4c4c4c" filter="url(#bl1_5)" transform="rotate(8 700 900)"/><ellipse cx="709" cy="900" rx="2.6" ry="13" fill="#e6e6e6" filter="url(#bl1_5)" transform="rotate(8 709 900)"/><ellipse cx="718" cy="900" rx="2.6" ry="13" fill="#4c4c4c" filter="url(#bl1_5)" transform="rotate(8 718 900)"/><ellipse cx="727" cy="900" rx="2.6" ry="13" fill="#e6e6e6" filter="url(#bl1_5)" transform="rotate(8 727 900)"/><ellipse cx="736" cy="900" rx="2.6" ry="13" fill="#4c4c4c" filter="url(#bl1_5)" transform="rotate(8 736 900)"/><ellipse cx="763" cy="1085" rx="2.6" ry="22" fill="#4c4c4c" filter="url(#bl1_5)" transform="rotate(-8 763 1085)"/><ellipse cx="772" cy="1085" rx="2.6" ry="22" fill="#e6e6e6" filter="url(#bl1_5)" transform="rotate(-8 772 1085)"/><ellipse cx="781" cy="1085" rx="2.6" ry="22" fill="#4c4c4c" filter="url(#bl1_5)" transform="rotate(-8 781 1085)"/><ellipse cx="790" cy="1085" rx="2.6" ry="22" fill="#e6e6e6" filter="url(#bl1_5)" transform="rotate(-8 790 1085)"/><ellipse cx="420" cy="1448" rx="2.6" ry="12" fill="#4c4c4c" filter="url(#bl1_5)" transform="rotate(-10 420 1448)"/><ellipse cx="429" cy="1448" rx="2.6" ry="12" fill="#e6e6e6" filter="url(#bl1_5)" transform="rotate(-10 429 1448)"/><ellipse cx="438" cy="1448" rx="2.6" ry="12" fill="#4c4c4c" filter="url(#bl1_5)" transform="rotate(-10 438 1448)"/><ellipse cx="447" cy="1448" rx="2.6" ry="12" fill="#e6e6e6" filter="url(#bl1_5)" transform="rotate(-10 447 1448)"/><ellipse cx="456" cy="1448" rx="2.6" ry="12" fill="#4c4c4c" filter="url(#bl1_5)" transform="rotate(-10 456 1448)"/><ellipse cx="310" cy="1446" rx="2.6" ry="8" fill="#4c4c4c" filter="url(#bl1_5)" transform="rotate(0 310 1446)"/><ellipse cx="324" cy="1446" rx="2.6" ry="8" fill="#e6e6e6" filter="url(#bl1_5)" transform="rotate(0 324 1446)"/><ellipse cx="338" cy="1446" rx="2.6" ry="8" fill="#4c4c4c" filter="url(#bl1_5)" transform="rotate(0 338 1446)"/><ellipse cx="352" cy="1446" rx="2.6" ry="8" fill="#e6e6e6" filter="url(#bl1_5)" transform="rotate(0 352 1446)"/></g>
<rect x="206" y="832.2" width="738" height="749.1" fill="none" stroke="#262626" stroke-width="1.8"/>
<path d="M307.8 1581.3v-7 M307.8 832.2v7 M409.8 1581.3v-7 M409.8 832.2v7 M511.8 1581.3v-7 M511.8 832.2v7 M613.8 1581.3v-7 M613.8 832.2v7 M715.8 1581.3v-7 M715.8 832.2v7 M817.8 1581.3v-7 M817.8 832.2v7 M919.8 1581.3v-7 M919.8 832.2v7 M206 1477.5h7 M944 1477.5h-7 M206 1374h7 M944 1374h-7 M206 1270.5h7 M944 1270.5h-7 M206 1167h7 M944 1167h-7 M206 1063.5h7 M944 1063.5h-7 M206 960h7 M944 960h-7 M206 856.5h7 M944 856.5h-7 " stroke="#262626" stroke-width="1.5" fill="none"/>
<text transform="translate(304.8 1631) scale(1 1)" font-family="'Liberation Serif','DejaVu Serif',serif" font-size="48" text-anchor="middle" fill="#000" >200</text>
<text transform="translate(191 1488.3) scale(1 1)" font-family="'Liberation Serif','DejaVu Serif',serif" font-size="48" text-anchor="end" fill="#000" >200</text>
<text transform="translate(508.8 1631) scale(1 1)" font-family="'Liberation Serif','DejaVu Serif',serif" font-size="48" text-anchor="middle" fill="#000" >600</text>
<text transform="translate(191 1281.3) scale(1 1)" font-family="'Liberation Serif','DejaVu Serif',serif" font-size="48" text-anchor="end" fill="#000" >600</text>
<text transform="translate(712.8 1631) scale(1 1)" font-family="'Liberation Serif','DejaVu Serif',serif" font-size="48" text-anchor="middle" fill="#000" >1000</text>
<text transform="translate(191 1074.3) scale(1 1)" font-family="'Liberation Serif','DejaVu Serif',serif" font-size="48" text-anchor="end" fill="#000" >1000</text>
<text transform="translate(916.8 1631) scale(1 1)" font-family="'Liberation Serif','DejaVu Serif',serif" font-size="48" text-anchor="middle" fill="#000" >1400</text>
<text transform="translate(191 867.3) scale(1 1)" font-family="'Liberation Serif','DejaVu Serif',serif" font-size="48" text-anchor="end" fill="#000" >1400</text>
<text transform="translate(572.8 797.8) scale(1 1)" font-family="'Liberation Serif','DejaVu Serif',serif" font-size="48" text-anchor="middle" fill="#000" textLength="142" lengthAdjust="spacing"><tspan font-style="italic" >δn</tspan><tspan font-style="italic" font-size="33" dy="9">i</tspan><tspan dy="-9">/</tspan><tspan font-style="italic" >n</tspan><tspan font-size="33" dy="9">0</tspan></text>
<text transform="translate(900 812) scale(1 1)" font-family="'Liberation Serif','DejaVu Serif',serif" font-size="54" text-anchor="start" fill="#000" font-weight="bold">a)</text>
<text transform="translate(626 1684.4) scale(1 1)" font-family="'Liberation Serif','DejaVu Serif',serif" font-size="60" text-anchor="middle" fill="#000" textLength="126" lengthAdjust="spacing"><tspan font-style="italic" >x</tspan>/<tspan font-style="italic" >λ</tspan><tspan font-style="italic" font-size="42" dy="12">D</tspan></text>
<g transform="translate(89.5 1202.5) rotate(-90)"><text transform="translate(0 0) scale(1 1)" font-family="'Liberation Serif','DejaVu Serif',serif" font-size="60" text-anchor="middle" fill="#000" textLength="121" lengthAdjust="spacing"><tspan font-style="italic" >y</tspan>/<tspan font-style="italic" >λ</tspan><tspan font-style="italic" font-size="42" dy="12">D</tspan></text></g>
<rect x="978" y="858.6" width="26.4" height="691.6" fill="url(#jetv)" stroke="#262626" stroke-width="1.8"/><path d="M1004.4 974.5h-4 M1004.4 1089.3h-4 M1004.4 1204.1h-4 M1004.4 1318.9h-4 M1004.4 1433.7h-4 " stroke="#262626" stroke-width="1.2"/><text transform="translate(1015 870.12) scale(1 1)" font-family="'Liberation Serif','DejaVu Serif',serif" font-size="33" text-anchor="start" fill="#000" >0.01</text><text transform="translate(1015 981.92) scale(1 1)" font-family="'Liberation Serif','DejaVu Serif',serif" font-size="33" text-anchor="start" fill="#000" >0.005</text><text transform="translate(1015 1096.72) scale(1 1)" font-family="'Liberation Serif','DejaVu Serif',serif" font-size="33" text-anchor="start" fill="#000" >0</text><text transform="translate(1017 1211.52) scale(1 1)" font-family="'Liberation Serif','DejaVu Serif',serif" font-size="33" text-anchor="start" fill="#000" >-0.005</text><text transform="translate(1017 1326.33) scale(1 1)" font-family="'Liberation Serif','DejaVu Serif',serif" font-size="33" text-anchor="start" fill="#000" >-0.01</text><text transform="translate(1017 1441.12) scale(1 1)" font-family="'Liberation Serif','DejaVu Serif',serif" font-size="33" text-anchor="start" fill="#000" >-0.015</text><text transform="translate(1017 1558.92) scale(1 1)" font-family="'Liberation Serif','DejaVu Serif',serif" font-size="33" text-anchor="start" fill="#000" >-0.02</text>
<rect x="1309" y="1205.8" width="471.6" height="628.2" fill="#fff" stroke="#262626" stroke-width="1.5"/>
<path d="M1309 1833.44h4.5 M1780.6 1833.44h-4.5 M1309 1822.18h4.5 M1780.6 1822.18h-4.5 M1309 1812.98h4.5 M1780.6 1812.98h-4.5 M1309 1805.2h4.5 M1780.6 1805.2h-4.5 M1309 1798.46h4.5 M1780.6 1798.46h-4.5 M1309 1792.52h4.5 M1780.6 1792.52h-4.5 M1309 1787.2h9 M1780.6 1787.2h-9 M1309 1752.22h4.5 M1780.6 1752.22h-4.5 M1309 1731.76h4.5 M1780.6 1731.76h-4.5 M1309 1717.24h4.5 M1780.6 1717.24h-4.5 M1309 1705.98h4.5 M1780.6 1705.98h-4.5 M1309 1696.78h4.5 M1780.6 1696.78h-4.5 M1309 1689h4.5 M1780.6 1689h-4.5 M1309 1682.26h4.5 M1780.6 1682.26h-4.5 M1309 1676.32h4.5 M1780.6 1676.32h-4.5 M1309 1671h9 M1780.6 1671h-9 M1309 1636.02h4.5 M1780.6 1636.02h-4.5 M1309 1615.56h4.5 M1780.6 1615.56h-4.5 M1309 1601.04h4.5 M1780.6 1601.04h-4.5 M1309 1589.78h4.5 M1780.6 1589.78h-4.5 M1309 1580.58h4.5 M1780.6 1580.58h-4.5 M1309 1572.8h4.5 M1780.6 1572.8h-4.5 M1309 1566.06h4.5 M1780.6 1566.06h-4.5 M1309 1560.12h4.5 M1780.6 1560.12h-4.5 M1309 1554.8h9 M1780.6 1554.8h-9 M1309 1519.82h4.5 M1780.6 1519.82h-4.5 M1309 1499.36h4.5 M1780.6 1499.36h-4.5 M1309 1484.84h4.5 M1780.6 1484.84h-4.5 M1309 1473.58h4.5 M1780.6 1473.58h-4.5 M1309 1464.38h4.5 M1780.6 1464.38h-4.5 M1309 1456.6h4.5 M1780.6 1456.6h-4.5 M1309 1449.86h4.5 M1780.6 1449.86h-4.5 M1309 1443.92h4.5 M1780.6 1443.92h-4.5 M1309 1438.6h9 M1780.6 1438.6h-9 M1309 1403.62h4.5 M1780.6 1403.62h-4.5 M1309 1383.16h4.5 M1780.6 1383.16h-4.5 M1309 1368.64h4.5 M1780.6 1368.64h-4.5 M1309 1357.38h4.5 M1780.6 1357.38h-4.5 M1309 1348.18h4.5 M1780.6 1348.18h-4.5 M1309 1340.4h4.5 M1780.6 1340.4h-4.5 M1309 1333.66h4.5 M1780.6 1333.66h-4.5 M1309 1327.72h4.5 M1780.6 1327.72h-4.5 M1309 1322.4h9 M1780.6 1322.4h-9 M1309 1287.42h4.5 M1780.6 1287.42h-4.5 M1309 1266.96h4.5 M1780.6 1266.96h-4.5 M1309 1252.44h4.5 M1780.6 1252.44h-4.5 M1309 1241.18h4.5 M1780.6 1241.18h-4.5 M1309 1231.98h4.5 M1780.6 1231.98h-4.5 M1309 1224.2h4.5 M1780.6 1224.2h-4.5 M1309 1217.46h4.5 M1780.6 1217.46h-4.5 M1309 1211.52h4.5 M1780.6 1211.52h-4.5 M1483.7 1834v-7 M1483.7 1205.8v7 M1657.9 1834v-7 M1657.9 1205.8v7 " stroke="#262626" stroke-width="1.3" fill="none"/>
<g clip-path="url(#clipf)" fill="none" stroke-width="3.4" stroke-linejoin="round"><path d="M1319.25 1376.77C1319.87 1368.57 1321.68 1343.07 1323 1327.58C1324.32 1312.09 1324.88 1294.58 1327.17 1283.81C1329.46 1273.04 1333.42 1268.32 1336.76 1262.97C1340.09 1257.62 1343.36 1254.84 1347.18 1251.71C1351 1248.59 1354.47 1246.16 1359.68 1244.21C1364.89 1242.26 1370.45 1241.22 1378.44 1240.04C1386.43 1238.86 1399.28 1237.33 1407.62 1237.12C1415.96 1236.92 1420.82 1237.47 1428.46 1238.79C1436.1 1240.11 1444.44 1242.06 1453.47 1245.04C1462.5 1248.03 1472.92 1252.82 1482.65 1256.72C1492.38 1260.61 1502.8 1264.7 1511.83 1268.39C1520.86 1272.07 1528.5 1275.54 1536.84 1278.81C1545.18 1282.07 1551.43 1285.06 1561.85 1287.98C1572.27 1290.9 1586.17 1294.02 1599.37 1296.32C1612.57 1298.61 1627.16 1300.28 1641.05 1301.73C1654.95 1303.19 1668.84 1304.1 1682.73 1305.07C1696.63 1306.04 1708.09 1306.39 1724.42 1307.57C1740.74 1308.75 1771.31 1311.39 1780.69 1312.16" stroke="#000"/><path d="M1319.25 1735.25C1319.94 1726.36 1321.89 1700.51 1323.42 1681.89C1324.95 1663.27 1326.2 1642.99 1328.42 1623.53C1330.64 1604.08 1333.63 1581.85 1336.76 1565.18C1339.88 1548.5 1343.7 1535.3 1347.18 1523.49C1350.65 1511.68 1353.78 1504.04 1357.6 1494.31C1361.42 1484.59 1365.24 1475.56 1370.1 1465.14C1374.97 1454.71 1381.22 1442.21 1386.78 1431.79C1392.34 1421.37 1397.89 1412.68 1403.45 1402.61C1409.01 1392.54 1414.57 1381.77 1420.13 1371.35C1425.68 1360.93 1431.24 1349.46 1436.8 1340.08C1442.36 1330.7 1448.61 1322.02 1453.47 1315.07C1458.34 1308.13 1461.11 1303.61 1465.98 1298.4C1470.84 1293.19 1476.4 1288.33 1482.65 1283.81C1488.9 1279.29 1497.24 1274.43 1503.49 1271.3C1509.75 1268.18 1513.22 1266.93 1520.17 1265.05C1527.11 1263.18 1536.84 1261.16 1545.18 1260.05C1553.51 1258.94 1561.85 1258.24 1570.19 1258.38C1578.52 1258.52 1586.86 1259.49 1595.2 1260.88C1603.53 1262.27 1610.48 1264.29 1620.21 1266.72C1629.93 1269.15 1642.44 1272.62 1653.56 1275.47C1664.67 1278.32 1675.79 1281.59 1686.9 1283.81C1698.02 1286.03 1709.13 1287.7 1720.25 1288.81C1731.37 1289.92 1743.52 1289.92 1753.6 1290.48C1763.67 1291.04 1776.18 1291.87 1780.69 1292.15" stroke="#000"/><path d="M1319.25 1822.78C1320.08 1813.2 1322.38 1785.27 1324.25 1765.26C1326.13 1745.25 1328.42 1722.19 1330.5 1702.73C1332.59 1683.28 1333.98 1667.3 1336.76 1648.55C1339.54 1629.79 1343.7 1606.17 1347.18 1590.19C1350.65 1574.21 1354.13 1563.79 1357.6 1552.67C1361.07 1541.56 1364.55 1531.83 1368.02 1523.49C1371.49 1515.16 1374.97 1508.76 1378.44 1502.65C1381.91 1496.54 1384.69 1491.33 1388.86 1486.81C1393.03 1482.3 1398.59 1478.82 1403.45 1475.56C1408.31 1472.29 1412.48 1469.1 1418.04 1467.22C1423.6 1465.34 1430.89 1465 1436.8 1464.3C1442.7 1463.61 1447.22 1463.75 1453.47 1463.05C1459.72 1462.36 1467.37 1461.38 1474.31 1460.13C1481.26 1458.88 1488.9 1457.63 1495.16 1455.55C1501.41 1453.46 1506.27 1451.03 1511.83 1447.63C1517.39 1444.22 1522.95 1439.71 1528.5 1435.12C1534.06 1430.54 1539.62 1424.84 1545.18 1420.12C1550.74 1415.39 1556.29 1410.39 1561.85 1406.78C1567.41 1403.17 1572.97 1401.22 1578.52 1398.44C1584.08 1395.66 1589.64 1393.23 1595.2 1390.1C1600.76 1386.98 1606.31 1383.37 1611.87 1379.68C1617.43 1376 1622.99 1372.04 1628.55 1368.01C1634.1 1363.98 1639.66 1359.61 1645.22 1355.51C1650.78 1351.41 1655.64 1347.73 1661.89 1343.42C1668.15 1339.11 1675.79 1334.04 1682.73 1329.66C1689.68 1325.29 1696.63 1320.77 1703.58 1317.16C1710.52 1313.54 1717.47 1310.56 1724.42 1307.99C1731.37 1305.42 1738.31 1303.54 1745.26 1301.73C1752.21 1299.93 1760.2 1298.33 1766.1 1297.15C1772.01 1295.97 1778.26 1295.06 1780.69 1294.65" stroke="#000"/><path d="M1348.43 1717.32C1349.26 1711.42 1351.55 1691.27 1353.43 1681.89C1355.31 1672.51 1356.9 1669.39 1359.68 1661.05C1362.46 1652.71 1366.98 1642.29 1370.1 1631.87C1373.23 1621.45 1375.66 1610.33 1378.44 1598.52C1381.22 1586.71 1383.3 1572.82 1386.78 1561.01C1390.25 1549.2 1395.11 1537.39 1399.28 1527.66C1403.45 1517.94 1407.62 1510.29 1411.79 1502.65C1415.96 1495.01 1419.43 1489.45 1424.29 1481.81C1429.16 1474.17 1435.41 1463.75 1440.97 1456.8C1446.52 1449.85 1452.08 1444.43 1457.64 1440.13C1463.2 1435.82 1468.06 1433.39 1474.31 1430.95C1480.57 1428.52 1487.51 1426.79 1495.16 1425.54C1502.8 1424.29 1511.83 1423.66 1520.17 1423.45C1528.5 1423.24 1535.45 1423.38 1545.18 1424.29C1554.9 1425.19 1567.41 1426.93 1578.52 1428.87C1589.64 1430.82 1600.76 1433.39 1611.87 1435.96C1622.99 1438.53 1634.1 1441.38 1645.22 1444.29C1656.33 1447.21 1667.45 1450.55 1678.57 1453.46C1689.68 1456.38 1700.8 1459.02 1711.91 1461.8C1723.03 1464.58 1733.8 1467.29 1745.26 1470.14C1756.72 1472.99 1774.79 1477.43 1780.69 1478.89" stroke="#f00" stroke-dasharray="13 8"/><path d="M1348.43 1768.6C1349.96 1760.05 1354.68 1730.38 1357.6 1717.32C1360.52 1704.26 1362.81 1698.57 1365.94 1690.23C1369.06 1681.89 1372.88 1673.9 1376.36 1667.3C1379.83 1660.7 1382.96 1655.84 1386.78 1650.63C1390.6 1645.42 1394.42 1641.25 1399.28 1636.04C1404.15 1630.83 1409.7 1625.62 1415.96 1619.37C1422.21 1613.11 1430.55 1604.22 1436.8 1598.52C1443.05 1592.83 1447.22 1588.87 1453.47 1585.19C1459.72 1581.5 1467.37 1578.38 1474.31 1576.43C1481.26 1574.49 1488.21 1573.65 1495.16 1573.51C1502.1 1573.38 1509.05 1574.07 1516 1575.6C1522.95 1577.13 1529.89 1579.7 1536.84 1582.68C1543.79 1585.67 1550.74 1589.63 1557.68 1593.52C1564.63 1597.41 1571.58 1601.72 1578.52 1606.03C1585.47 1610.33 1592.42 1614.92 1599.37 1619.37C1606.31 1623.81 1613.26 1628.54 1620.21 1632.71C1627.16 1636.87 1634.1 1640.9 1641.05 1644.38C1648 1647.85 1654.95 1650.91 1661.89 1653.55C1668.84 1656.19 1675.79 1658.13 1682.73 1660.22C1689.68 1662.3 1696.63 1664.18 1703.58 1666.05C1710.52 1667.93 1717.47 1670.01 1724.42 1671.47C1731.37 1672.93 1738.31 1673.9 1745.26 1674.81C1752.21 1675.71 1760.2 1676.27 1766.1 1676.89C1772.01 1677.52 1778.26 1678.28 1780.69 1678.56" stroke="#f00"/><path d="M1343.01 1834.04C1344.05 1830.91 1346.83 1822.58 1349.26 1815.28C1351.69 1807.99 1354.47 1797.57 1357.6 1790.27C1360.73 1782.98 1364.55 1776.58 1368.02 1771.51C1371.49 1766.44 1374.97 1762.97 1378.44 1759.84C1381.91 1756.72 1385.39 1754.49 1388.86 1752.76C1392.34 1751.02 1394.07 1750.39 1399.28 1749.42C1404.49 1748.45 1412.48 1748.1 1420.13 1746.92C1427.77 1745.74 1436.8 1744.14 1445.14 1742.33C1453.47 1740.53 1461.81 1737.75 1470.15 1736.08C1478.48 1734.41 1487.51 1732.89 1495.16 1732.33C1502.8 1731.77 1509.05 1732.12 1516 1732.75C1522.95 1733.37 1529.89 1734.62 1536.84 1736.08C1543.79 1737.54 1550.74 1740.04 1557.68 1741.5C1564.63 1742.96 1571.58 1744.35 1578.52 1744.84C1585.47 1745.32 1592.42 1744.63 1599.37 1744.42C1606.31 1744.21 1611.18 1743.65 1620.21 1743.58C1629.24 1743.52 1643.83 1744.07 1653.56 1744C1663.28 1743.93 1670.23 1743.17 1678.57 1743.17C1686.9 1743.17 1693.85 1743.38 1703.58 1744C1713.3 1744.63 1727.2 1746.5 1736.92 1746.92C1746.65 1747.34 1754.64 1746.78 1761.93 1746.5C1769.23 1746.22 1777.57 1745.46 1780.69 1745.25" stroke="#f00"/></g>
<text transform="translate(1293 1230.2) scale(1.09 1)" font-family="'Liberation Serif','DejaVu Serif',serif" font-size="47" text-anchor="end" fill="#000" >10<tspan font-size="33" dy="-19">−1</tspan></text>
<text transform="translate(1293 1346.4) scale(1.09 1)" font-family="'Liberation Serif','DejaVu Serif',serif" font-size="47" text-anchor="end" fill="#000" >10<tspan font-size="33" dy="-19">−2</tspan></text>
<text transform="translate(1293 1462.6) scale(1.09 1)" font-family="'Liberation Serif','DejaVu Serif',serif" font-size="47" text-anchor="end" fill="#000" >10<tspan font-size="33" dy="-19">−3</tspan></text>
<text transform="translate(1293 1578.8) scale(1.09 1)" font-family="'Liberation Serif','DejaVu Serif',serif" font-size="47" text-anchor="end" fill="#000" >10<tspan font-size="33" dy="-19">−4</tspan></text>
<text transform="translate(1293 1695) scale(1.09 1)" font-family="'Liberation Serif','DejaVu Serif',serif" font-size="47" text-anchor="end" fill="#000" >10<tspan font-size="33" dy="-19">−5</tspan></text>
<text transform="translate(1293 1811.2) scale(1.09 1)" font-family="'Liberation Serif','DejaVu Serif',serif" font-size="47" text-anchor="end" fill="#000" >10<tspan font-size="33" dy="-19">−6</tspan></text>
<text transform="translate(1299 1879) scale(1.09 1)" font-family="'Liberation Serif','DejaVu Serif',serif" font-size="48" text-anchor="middle" fill="#000" >0</text>
<text transform="translate(1484 1879) scale(1.09 1)" font-family="'Liberation Serif','DejaVu Serif',serif" font-size="48" text-anchor="middle" fill="#000" >5000</text>
<text transform="translate(1675 1879) scale(1.09 1)" font-family="'Liberation Serif','DejaVu Serif',serif" font-size="48" text-anchor="middle" fill="#000" >10000</text>
<text transform="translate(1528.5 1934.5) scale(1.09 1)" font-family="'Liberation Serif','DejaVu Serif',serif" font-size="61" text-anchor="middle" fill="#000" ><tspan font-style="italic" >ω</tspan><tspan font-style="italic" font-size="43" dy="12">p</tspan><tspan font-style="italic" dy="-12">t</tspan></text>
<g transform="translate(1191 1388) rotate(-90)"><text transform="translate(0 0) scale(1.09 1)" font-family="'Liberation Serif','DejaVu Serif',serif" font-size="57" text-anchor="middle" fill="#000" font-weight="bold">W</text></g>
<text transform="translate(1741 1183.8) scale(1.09 1)" font-family="'Liberation Serif','DejaVu Serif',serif" font-size="52" text-anchor="start" fill="#000" font-weight="bold">f)</text>
<text transform="translate(1358 1339) scale(1.5 1)" font-family="'DejaVu Math TeX Gyre','DejaVu Sans','Liberation Serif',serif" font-size="25" fill="#000" stroke="#000" stroke-width="0.4">ℒ</text>
<text transform="translate(1449 1349) scale(1.5 1)" font-family="'DejaVu Math TeX Gyre','DejaVu Sans','Liberation Serif',serif" font-size="25" fill="#000" stroke="#000" stroke-width="0.4">ℒ</text><text transform="translate(1476 1347) scale(1 1)" font-family="'Liberation Serif','DejaVu Serif',serif" font-size="28" text-anchor="start" fill="#000" >′</text>
<text transform="translate(1704 1355) scale(1.5 1)" font-family="'DejaVu Math TeX Gyre','DejaVu Sans','Liberation Serif',serif" font-size="25" fill="#000" stroke="#000" stroke-width="0.4">ℒ</text><text transform="translate(1731 1353) scale(1 1)" font-family="'Liberation Serif','DejaVu Serif',serif" font-size="28" text-anchor="start" fill="#000" >″</text>
<text transform="translate(1670.35 1645.07) scale(1.2 1)" font-family="'DejaVu Math TeX Gyre','DejaVu Sans','Liberation Serif',serif" font-size="26.67" fill="#f00" stroke="#f00" stroke-width="0.45">𝒮</text><text transform="translate(1695.2 1647.2) scale(1 1)" font-family="'Liberation Serif','DejaVu Serif',serif" font-size="27.73" text-anchor="start" fill="#f00" >′</text><text transform="translate(1693.07 1652.53) scale(1 1)" font-family="'Liberation Serif','DejaVu Serif',serif" font-size="21.33" text-anchor="start" fill="#f00" textLength="30.4" lengthAdjust="spacingAndGlyphs"><tspan font-style="italic" >qm</tspan></text>
<text transform="translate(1522.35 1716.07) scale(1.2 1)" font-family="'DejaVu Math TeX Gyre','DejaVu Sans','Liberation Serif',serif" font-size="26.67" fill="#f00" stroke="#f00" stroke-width="0.45">𝒮</text><text transform="translate(1547.2 1718.2) scale(1 1)" font-family="'Liberation Serif','DejaVu Serif',serif" font-size="27.73" text-anchor="start" fill="#f00" >″</text><text transform="translate(1545.07 1723.53) scale(1 1)" font-family="'Liberation Serif','DejaVu Serif',serif" font-size="21.33" text-anchor="start" fill="#f00" textLength="30.4" lengthAdjust="spacingAndGlyphs"><tspan font-style="italic" >qm</tspan></text></svg></body></html>
